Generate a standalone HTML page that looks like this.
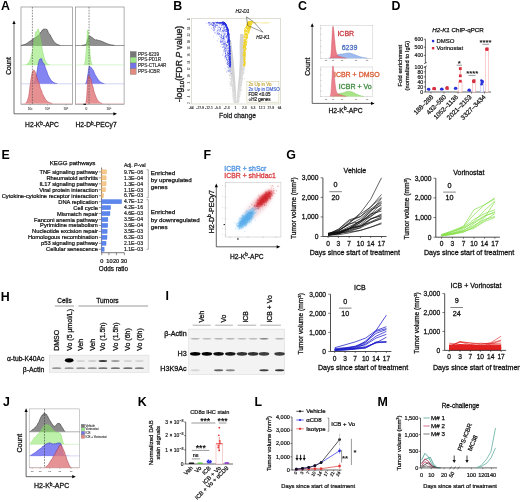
<!DOCTYPE html>
<html><head><meta charset="utf-8"><style>
html,body{margin:0;padding:0;background:#fff;}
svg{display:block;font-family:"Liberation Sans", Arial, Helvetica, sans-serif;filter:blur(0.3px);}
</style></head><body>
<svg width="520" height="502" viewBox="0 0 520 502">
<rect width="520" height="502" fill="#fff"/>
<text x="1.0" y="10.0" font-size="12.4" text-anchor="start" fill="#000" font-weight="bold">A</text>
<rect x="21" y="7" width="51.5" height="97.3" fill="#fff" stroke="#8c8c8c" stroke-width="0.7"/>
<rect x="75.5" y="7" width="48.599999999999994" height="97.3" fill="#fff" stroke="#8c8c8c" stroke-width="0.7"/>
<line x1="21" y1="45.5" x2="72.5" y2="45.5" stroke="#444" stroke-width="0.55"/>
<line x1="75.5" y1="45.5" x2="124.1" y2="45.5" stroke="#444" stroke-width="0.55"/>
<path d="M21.3,45.5 L21.3,45.2 L22.0,45.1 L22.8,44.9 L23.5,44.7 L24.2,44.5 L24.9,44.3 L25.7,44.0 L26.4,43.5 L27.1,43.2 L27.8,42.7 L28.6,42.0 L29.3,41.7 L30.0,41.0 L30.8,40.7 L31.5,40.1 L32.2,39.9 L32.9,39.1 L33.7,38.5 L34.4,38.3 L35.1,37.7 L35.8,37.3 L36.6,37.3 L37.3,36.1 L38.0,35.6 L38.8,35.2 L39.5,34.6 L40.2,32.7 L40.9,32.3 L41.7,31.1 L42.4,30.0 L43.1,29.6 L43.8,28.8 L44.6,29.4 L45.3,28.7 L46.0,29.5 L46.8,29.3 L47.5,30.2 L48.2,32.3 L48.9,33.4 L49.7,34.6 L50.4,35.1 L51.1,37.0 L51.8,38.1 L52.6,39.6 L53.3,40.6 L54.0,41.6 L54.7,42.4 L55.5,43.1 L56.2,43.7 L56.9,44.1 L57.7,44.5 L58.4,44.8 L59.1,45.0 L59.8,45.1 L60.6,45.3 L61.3,45.4 L62.0,45.4 L62.7,45.4 L63.5,45.5 L64.2,45.5 L64.9,45.5 L65.7,45.5 L66.4,45.5 L67.1,45.5 L67.8,45.5 L68.6,45.5 L69.3,45.5 L70.0,45.5 L70.7,45.5 L71.5,45.5 L72.2,45.5 L72.2,45.5 Z" fill="#858585" stroke="none" stroke-width="0.6" fill-opacity="0.92"/>
<path d="M21.3,45.2 L22.0,45.1 L22.8,44.9 L23.5,44.7 L24.2,44.5 L24.9,44.3 L25.7,44.0 L26.4,43.5 L27.1,43.2 L27.8,42.7 L28.6,42.0 L29.3,41.7 L30.0,41.0 L30.8,40.7 L31.5,40.1 L32.2,39.9 L32.9,39.1 L33.7,38.5 L34.4,38.3 L35.1,37.7 L35.8,37.3 L36.6,37.3 L37.3,36.1 L38.0,35.6 L38.8,35.2 L39.5,34.6 L40.2,32.7 L40.9,32.3 L41.7,31.1 L42.4,30.0 L43.1,29.6 L43.8,28.8 L44.6,29.4 L45.3,28.7 L46.0,29.5 L46.8,29.3 L47.5,30.2 L48.2,32.3 L48.9,33.4 L49.7,34.6 L50.4,35.1 L51.1,37.0 L51.8,38.1 L52.6,39.6 L53.3,40.6 L54.0,41.6 L54.7,42.4 L55.5,43.1 L56.2,43.7 L56.9,44.1 L57.7,44.5 L58.4,44.8 L59.1,45.0 L59.8,45.1" fill="none" stroke="#222" stroke-width="0.5" stroke-linejoin="round"/>
<path d="M75.8,45.5 L75.8,45.5 L76.3,45.5 L76.9,45.5 L77.4,45.5 L77.9,45.5 L78.5,45.5 L79.0,45.4 L79.5,45.4 L80.1,45.4 L80.6,45.4 L81.1,45.3 L81.7,45.3 L82.2,45.2 L82.7,45.2 L83.3,45.1 L83.8,45.0 L84.3,44.9 L84.9,44.8 L85.4,44.5 L85.9,44.1 L86.5,43.4 L87.0,42.2 L87.5,40.1 L88.1,38.5 L88.6,36.4 L89.1,35.9 L89.7,36.3 L90.2,36.3 L90.7,36.5 L91.3,36.8 L91.8,37.3 L92.3,37.8 L92.9,38.2 L93.4,38.4 L93.9,39.0 L94.5,39.4 L95.0,39.4 L95.5,39.9 L96.1,39.9 L96.6,39.7 L97.1,40.0 L97.7,40.1 L98.2,40.5 L98.7,40.4 L99.3,40.4 L99.8,40.8 L100.3,40.7 L100.9,40.9 L101.4,41.3 L101.9,41.3 L102.5,41.6 L103.0,41.8 L103.5,42.1 L104.1,42.3 L104.6,42.5 L105.1,42.9 L105.7,43.1 L106.2,43.2 L106.7,43.4 L107.3,43.7 L107.8,43.9 L108.3,44.1 L108.9,44.3 L109.4,44.4 L109.9,44.6 L110.5,44.7 L111.0,44.8 L111.5,44.9 L112.1,45.0 L112.6,45.0 L113.1,45.1 L113.7,45.2 L114.2,45.2 L114.7,45.3 L115.3,45.3 L115.8,45.4 L116.3,45.4 L116.9,45.4 L117.4,45.4 L117.9,45.4 L118.5,45.5 L119.0,45.5 L119.5,45.5 L120.1,45.5 L120.6,45.5 L121.1,45.5 L121.7,45.5 L122.2,45.5 L122.7,45.5 L123.3,45.5 L123.8,45.5 L123.8,45.5 Z" fill="#858585" stroke="none" stroke-width="0.6" fill-opacity="0.92"/>
<path d="M82.2,45.2 L82.7,45.2 L83.3,45.1 L83.8,45.0 L84.3,44.9 L84.9,44.8 L85.4,44.5 L85.9,44.1 L86.5,43.4 L87.0,42.2 L87.5,40.1 L88.1,38.5 L88.6,36.4 L89.1,35.9 L89.7,36.3 L90.2,36.3 L90.7,36.5 L91.3,36.8 L91.8,37.3 L92.3,37.8 L92.9,38.2 L93.4,38.4 L93.9,39.0 L94.5,39.4 L95.0,39.4 L95.5,39.9 L96.1,39.9 L96.6,39.7 L97.1,40.0 L97.7,40.1 L98.2,40.5 L98.7,40.4 L99.3,40.4 L99.8,40.8 L100.3,40.7 L100.9,40.9 L101.4,41.3 L101.9,41.3 L102.5,41.6 L103.0,41.8 L103.5,42.1 L104.1,42.3 L104.6,42.5 L105.1,42.9 L105.7,43.1 L106.2,43.2 L106.7,43.4 L107.3,43.7 L107.8,43.9 L108.3,44.1 L108.9,44.3 L109.4,44.4 L109.9,44.6 L110.5,44.7 L111.0,44.8 L111.5,44.9 L112.1,45.0 L112.6,45.0 L113.1,45.1 L113.7,45.2 L114.2,45.2" fill="none" stroke="#222" stroke-width="0.5" stroke-linejoin="round"/>
<line x1="21" y1="64.9" x2="72.5" y2="64.9" stroke="#b8eca8" stroke-width="0.55"/>
<line x1="75.5" y1="64.9" x2="124.1" y2="64.9" stroke="#b8eca8" stroke-width="0.55"/>
<path d="M21.3,64.9 L21.3,64.9 L22.0,64.9 L22.8,64.9 L23.5,64.9 L24.2,64.8 L24.9,64.8 L25.7,64.7 L26.4,64.5 L27.1,64.1 L27.8,63.6 L28.6,62.8 L29.3,61.8 L30.0,60.3 L30.8,58.1 L31.5,54.9 L32.2,52.1 L32.9,48.3 L33.7,44.1 L34.4,40.0 L35.1,36.2 L35.8,31.5 L36.6,31.9 L37.3,31.6 L38.0,28.8 L38.8,30.8 L39.5,33.3 L40.2,38.4 L40.9,41.2 L41.7,45.4 L42.4,50.5 L43.1,53.3 L43.8,56.3 L44.6,58.9 L45.3,60.9 L46.0,62.3 L46.8,63.2 L47.5,63.9 L48.2,64.3 L48.9,64.5 L49.7,64.7 L50.4,64.8 L51.1,64.9 L51.8,64.9 L52.6,64.9 L53.3,64.9 L54.0,64.9 L54.7,64.9 L55.5,64.9 L56.2,64.9 L56.9,64.9 L57.7,64.9 L58.4,64.9 L59.1,64.9 L59.8,64.9 L60.6,64.9 L61.3,64.9 L62.0,64.9 L62.7,64.9 L63.5,64.9 L64.2,64.9 L64.9,64.9 L65.7,64.9 L66.4,64.9 L67.1,64.9 L67.8,64.9 L68.6,64.9 L69.3,64.9 L70.0,64.9 L70.7,64.9 L71.5,64.9 L72.2,64.9 L72.2,64.9 Z" fill="#86e460" stroke="none" stroke-width="0.6" fill-opacity="0.55"/>
<path d="M26.4,64.5 L27.1,64.1 L27.8,63.6 L28.6,62.8 L29.3,61.8 L30.0,60.3 L30.8,58.1 L31.5,54.9 L32.2,52.1 L32.9,48.3 L33.7,44.1 L34.4,40.0 L35.1,36.2 L35.8,31.5 L36.6,31.9 L37.3,31.6 L38.0,28.8 L38.8,30.8 L39.5,33.3 L40.2,38.4 L40.9,41.2 L41.7,45.4 L42.4,50.5 L43.1,53.3 L43.8,56.3 L44.6,58.9 L45.3,60.9 L46.0,62.3 L46.8,63.2 L47.5,63.9 L48.2,64.3 L48.9,64.5" fill="none" stroke="#84dc64" stroke-width="0.5" stroke-linejoin="round"/>
<path d="M75.8,64.9 L75.8,64.9 L76.3,64.9 L76.9,64.9 L77.4,64.9 L77.9,64.9 L78.5,64.9 L79.0,64.9 L79.5,64.9 L80.1,64.9 L80.6,64.9 L81.1,64.9 L81.7,64.9 L82.2,64.9 L82.7,64.9 L83.3,64.9 L83.8,64.8 L84.3,64.3 L84.9,63.2 L85.4,60.2 L85.9,54.7 L86.5,46.4 L87.0,37.3 L87.5,30.3 L88.1,30.2 L88.6,35.0 L89.1,42.1 L89.7,49.0 L90.2,55.5 L90.7,59.7 L91.3,62.4 L91.8,63.9 L92.3,64.6 L92.9,64.8 L93.4,64.9 L93.9,64.9 L94.5,64.9 L95.0,64.9 L95.5,64.9 L96.1,64.9 L96.6,64.9 L97.1,64.9 L97.7,64.9 L98.2,64.9 L98.7,64.9 L99.3,64.9 L99.8,64.9 L100.3,64.9 L100.9,64.9 L101.4,64.9 L101.9,64.9 L102.5,64.9 L103.0,64.9 L103.5,64.9 L104.1,64.9 L104.6,64.9 L105.1,64.9 L105.7,64.9 L106.2,64.9 L106.7,64.9 L107.3,64.9 L107.8,64.9 L108.3,64.9 L108.9,64.9 L109.4,64.9 L109.9,64.9 L110.5,64.9 L111.0,64.9 L111.5,64.9 L112.1,64.9 L112.6,64.9 L113.1,64.9 L113.7,64.9 L114.2,64.9 L114.7,64.9 L115.3,64.9 L115.8,64.9 L116.3,64.9 L116.9,64.9 L117.4,64.9 L117.9,64.9 L118.5,64.9 L119.0,64.9 L119.5,64.9 L120.1,64.9 L120.6,64.9 L121.1,64.9 L121.7,64.9 L122.2,64.9 L122.7,64.9 L123.3,64.9 L123.8,64.9 L123.8,64.9 Z" fill="#86e460" stroke="none" stroke-width="0.6" fill-opacity="0.55"/>
<path d="M84.3,64.3 L84.9,63.2 L85.4,60.2 L85.9,54.7 L86.5,46.4 L87.0,37.3 L87.5,30.3 L88.1,30.2 L88.6,35.0 L89.1,42.1 L89.7,49.0 L90.2,55.5 L90.7,59.7 L91.3,62.4 L91.8,63.9 L92.3,64.6" fill="none" stroke="#84dc64" stroke-width="0.5" stroke-linejoin="round"/>
<line x1="21" y1="83.8" x2="72.5" y2="83.8" stroke="#b0b0ec" stroke-width="0.55"/>
<line x1="75.5" y1="83.8" x2="124.1" y2="83.8" stroke="#b0b0ec" stroke-width="0.55"/>
<path d="M21.3,83.8 L21.3,83.8 L22.0,83.8 L22.8,83.8 L23.5,83.8 L24.2,83.8 L24.9,83.8 L25.7,83.8 L26.4,83.8 L27.1,83.8 L27.8,83.8 L28.6,83.8 L29.3,83.8 L30.0,83.8 L30.8,83.8 L31.5,83.7 L32.2,83.6 L32.9,83.3 L33.7,82.6 L34.4,81.5 L35.1,79.9 L35.8,77.1 L36.6,74.2 L37.3,69.6 L38.0,65.2 L38.8,61.6 L39.5,59.5 L40.2,58.8 L40.9,58.7 L41.7,58.8 L42.4,61.6 L43.1,63.0 L43.8,63.3 L44.6,64.9 L45.3,67.5 L46.0,69.6 L46.8,71.2 L47.5,73.6 L48.2,75.2 L48.9,76.8 L49.7,77.9 L50.4,79.3 L51.1,80.3 L51.8,81.0 L52.6,81.6 L53.3,82.3 L54.0,82.6 L54.7,83.0 L55.5,83.2 L56.2,83.4 L56.9,83.5 L57.7,83.6 L58.4,83.7 L59.1,83.7 L59.8,83.8 L60.6,83.8 L61.3,83.8 L62.0,83.8 L62.7,83.8 L63.5,83.8 L64.2,83.8 L64.9,83.8 L65.7,83.8 L66.4,83.8 L67.1,83.8 L67.8,83.8 L68.6,83.8 L69.3,83.8 L70.0,83.8 L70.7,83.8 L71.5,83.8 L72.2,83.8 L72.2,83.8 Z" fill="#6e6ef0" stroke="none" stroke-width="0.6" fill-opacity="0.85"/>
<path d="M32.9,83.3 L33.7,82.6 L34.4,81.5 L35.1,79.9 L35.8,77.1 L36.6,74.2 L37.3,69.6 L38.0,65.2 L38.8,61.6 L39.5,59.5 L40.2,58.8 L40.9,58.7 L41.7,58.8 L42.4,61.6 L43.1,63.0 L43.8,63.3 L44.6,64.9 L45.3,67.5 L46.0,69.6 L46.8,71.2 L47.5,73.6 L48.2,75.2 L48.9,76.8 L49.7,77.9 L50.4,79.3 L51.1,80.3 L51.8,81.0 L52.6,81.6 L53.3,82.3 L54.0,82.6 L54.7,83.0 L55.5,83.2 L56.2,83.4 L56.9,83.5" fill="none" stroke="#3434c8" stroke-width="0.5" stroke-linejoin="round"/>
<path d="M75.8,83.8 L75.8,83.8 L76.3,83.8 L76.9,83.8 L77.4,83.8 L77.9,83.8 L78.5,83.8 L79.0,83.8 L79.5,83.8 L80.1,83.8 L80.6,83.8 L81.1,83.8 L81.7,83.8 L82.2,83.8 L82.7,83.8 L83.3,83.8 L83.8,83.8 L84.3,83.8 L84.9,83.7 L85.4,83.5 L85.9,83.0 L86.5,81.9 L87.0,80.0 L87.5,76.4 L88.1,73.0 L88.6,69.2 L89.1,66.6 L89.7,66.1 L90.2,67.5 L90.7,67.2 L91.3,67.6 L91.8,68.2 L92.3,69.4 L92.9,69.7 L93.4,70.3 L93.9,72.0 L94.5,72.9 L95.0,74.4 L95.5,75.3 L96.1,76.0 L96.6,77.4 L97.1,77.8 L97.7,78.7 L98.2,79.8 L98.7,80.2 L99.3,81.0 L99.8,81.4 L100.3,81.8 L100.9,82.3 L101.4,82.6 L101.9,82.8 L102.5,83.0 L103.0,83.2 L103.5,83.4 L104.1,83.5 L104.6,83.6 L105.1,83.6 L105.7,83.7 L106.2,83.7 L106.7,83.7 L107.3,83.8 L107.8,83.8 L108.3,83.8 L108.9,83.8 L109.4,83.8 L109.9,83.8 L110.5,83.8 L111.0,83.8 L111.5,83.8 L112.1,83.8 L112.6,83.8 L113.1,83.8 L113.7,83.8 L114.2,83.8 L114.7,83.8 L115.3,83.8 L115.8,83.8 L116.3,83.8 L116.9,83.8 L117.4,83.8 L117.9,83.8 L118.5,83.8 L119.0,83.8 L119.5,83.8 L120.1,83.8 L120.6,83.8 L121.1,83.8 L121.7,83.8 L122.2,83.8 L122.7,83.8 L123.3,83.8 L123.8,83.8 L123.8,83.8 Z" fill="#6e6ef0" stroke="none" stroke-width="0.6" fill-opacity="0.85"/>
<path d="M85.4,83.5 L85.9,83.0 L86.5,81.9 L87.0,80.0 L87.5,76.4 L88.1,73.0 L88.6,69.2 L89.1,66.6 L89.7,66.1 L90.2,67.5 L90.7,67.2 L91.3,67.6 L91.8,68.2 L92.3,69.4 L92.9,69.7 L93.4,70.3 L93.9,72.0 L94.5,72.9 L95.0,74.4 L95.5,75.3 L96.1,76.0 L96.6,77.4 L97.1,77.8 L97.7,78.7 L98.2,79.8 L98.7,80.2 L99.3,81.0 L99.8,81.4 L100.3,81.8 L100.9,82.3 L101.4,82.6 L101.9,82.8 L102.5,83.0 L103.0,83.2 L103.5,83.4 L104.1,83.5" fill="none" stroke="#3434c8" stroke-width="0.5" stroke-linejoin="round"/>
<line x1="21" y1="103.5" x2="72.5" y2="103.5" stroke="#e0b0b0" stroke-width="0.55"/>
<line x1="75.5" y1="103.5" x2="124.1" y2="103.5" stroke="#e0b0b0" stroke-width="0.55"/>
<path d="M21.3,103.5 L21.3,103.5 L22.0,103.5 L22.8,103.5 L23.5,103.5 L24.2,103.4 L24.9,103.3 L25.7,103.0 L26.4,102.3 L27.1,101.3 L27.8,99.3 L28.6,96.4 L29.3,92.3 L30.0,86.0 L30.8,80.2 L31.5,76.3 L32.2,72.7 L32.9,70.8 L33.7,70.0 L34.4,70.4 L35.1,71.8 L35.8,73.7 L36.6,76.8 L37.3,78.1 L38.0,80.8 L38.8,82.3 L39.5,84.6 L40.2,87.5 L40.9,89.6 L41.7,91.0 L42.4,93.7 L43.1,94.7 L43.8,96.3 L44.6,97.6 L45.3,99.1 L46.0,100.0 L46.8,100.8 L47.5,101.4 L48.2,101.9 L48.9,102.3 L49.7,102.7 L50.4,102.9 L51.1,103.1 L51.8,103.2 L52.6,103.3 L53.3,103.4 L54.0,103.4 L54.7,103.4 L55.5,103.5 L56.2,103.5 L56.9,103.5 L57.7,103.5 L58.4,103.5 L59.1,103.5 L59.8,103.5 L60.6,103.5 L61.3,103.5 L62.0,103.5 L62.7,103.5 L63.5,103.5 L64.2,103.5 L64.9,103.5 L65.7,103.5 L66.4,103.5 L67.1,103.5 L67.8,103.5 L68.6,103.5 L69.3,103.5 L70.0,103.5 L70.7,103.5 L71.5,103.5 L72.2,103.5 L72.2,103.5 Z" fill="#e0787a" stroke="none" stroke-width="0.6" fill-opacity="0.82"/>
<path d="M25.7,103.0 L26.4,102.3 L27.1,101.3 L27.8,99.3 L28.6,96.4 L29.3,92.3 L30.0,86.0 L30.8,80.2 L31.5,76.3 L32.2,72.7 L32.9,70.8 L33.7,70.0 L34.4,70.4 L35.1,71.8 L35.8,73.7 L36.6,76.8 L37.3,78.1 L38.0,80.8 L38.8,82.3 L39.5,84.6 L40.2,87.5 L40.9,89.6 L41.7,91.0 L42.4,93.7 L43.1,94.7 L43.8,96.3 L44.6,97.6 L45.3,99.1 L46.0,100.0 L46.8,100.8 L47.5,101.4 L48.2,101.9 L48.9,102.3 L49.7,102.7 L50.4,102.9 L51.1,103.1 L51.8,103.2" fill="none" stroke="#b84050" stroke-width="0.5" stroke-linejoin="round"/>
<path d="M75.8,103.5 L75.8,103.5 L76.3,103.5 L76.9,103.5 L77.4,103.5 L77.9,103.5 L78.5,103.5 L79.0,103.5 L79.5,103.5 L80.1,103.5 L80.6,103.5 L81.1,103.5 L81.7,103.5 L82.2,103.5 L82.7,103.5 L83.3,103.5 L83.8,103.5 L84.3,103.5 L84.9,103.5 L85.4,103.3 L85.9,102.3 L86.5,99.1 L87.0,92.1 L87.5,81.9 L88.1,76.3 L88.6,75.7 L89.1,75.4 L89.7,77.1 L90.2,78.8 L90.7,78.5 L91.3,80.6 L91.8,83.2 L92.3,85.0 L92.9,86.7 L93.4,88.6 L93.9,91.0 L94.5,93.0 L95.0,94.4 L95.5,95.4 L96.1,97.2 L96.6,98.2 L97.1,99.4 L97.7,100.2 L98.2,101.0 L98.7,101.5 L99.3,102.0 L99.8,102.4 L100.3,102.7 L100.9,102.9 L101.4,103.0 L101.9,103.2 L102.5,103.3 L103.0,103.3 L103.5,103.4 L104.1,103.4 L104.6,103.5 L105.1,103.5 L105.7,103.5 L106.2,103.5 L106.7,103.5 L107.3,103.5 L107.8,103.5 L108.3,103.5 L108.9,103.5 L109.4,103.5 L109.9,103.5 L110.5,103.5 L111.0,103.5 L111.5,103.5 L112.1,103.5 L112.6,103.5 L113.1,103.5 L113.7,103.5 L114.2,103.5 L114.7,103.5 L115.3,103.5 L115.8,103.5 L116.3,103.5 L116.9,103.5 L117.4,103.5 L117.9,103.5 L118.5,103.5 L119.0,103.5 L119.5,103.5 L120.1,103.5 L120.6,103.5 L121.1,103.5 L121.7,103.5 L122.2,103.5 L122.7,103.5 L123.3,103.5 L123.8,103.5 L123.8,103.5 Z" fill="#e0787a" stroke="none" stroke-width="0.6" fill-opacity="0.82"/>
<path d="M85.9,102.3 L86.5,99.1 L87.0,92.1 L87.5,81.9 L88.1,76.3 L88.6,75.7 L89.1,75.4 L89.7,77.1 L90.2,78.8 L90.7,78.5 L91.3,80.6 L91.8,83.2 L92.3,85.0 L92.9,86.7 L93.4,88.6 L93.9,91.0 L94.5,93.0 L95.0,94.4 L95.5,95.4 L96.1,97.2 L96.6,98.2 L97.1,99.4 L97.7,100.2 L98.2,101.0 L98.7,101.5 L99.3,102.0 L99.8,102.4 L100.3,102.7 L100.9,102.9 L101.4,103.0 L101.9,103.2" fill="none" stroke="#b84050" stroke-width="0.5" stroke-linejoin="round"/>
<line x1="32.4" y1="7" x2="32.4" y2="104.3" stroke="#444" stroke-width="0.6" stroke-dasharray="1.6,1.2"/>
<line x1="89.05" y1="7" x2="89.05" y2="104.3" stroke="#444" stroke-width="0.6" stroke-dasharray="1.6,1.2"/>
<text x="30" y="110" font-size="3.2" text-anchor="middle" fill="#555" stroke="#555" stroke-width="0.13">10³</text>
<line x1="30" y1="104.3" x2="30" y2="105.5" stroke="#666" stroke-width="0.4"/>
<text x="47.5" y="110" font-size="3.2" text-anchor="middle" fill="#555" stroke="#555" stroke-width="0.13">10⁴</text>
<line x1="47.5" y1="104.3" x2="47.5" y2="105.5" stroke="#666" stroke-width="0.4"/>
<text x="66" y="110" font-size="3.2" text-anchor="middle" fill="#555" stroke="#555" stroke-width="0.13">10⁵</text>
<line x1="66" y1="104.3" x2="66" y2="105.5" stroke="#666" stroke-width="0.4"/>
<text x="109" y="110" font-size="3.2" text-anchor="middle" fill="#555" stroke="#555" stroke-width="0.13">10⁴</text>
<line x1="109" y1="104.3" x2="109" y2="105.5" stroke="#666" stroke-width="0.4"/>
<text x="86.5" y="110" font-size="3.2" text-anchor="middle" fill="#555" stroke="#555" stroke-width="0.13">0</text>
<path d="M83.5,104.3 h2.5" fill="none" stroke="#111" stroke-width="1.2"/>
<line x1="14" y1="23" x2="14" y2="113.8" stroke="#333" stroke-width="0.7"/>
<line x1="14" y1="113.8" x2="114" y2="113.8" stroke="#333" stroke-width="0.7"/>
<path d="M12.4,24.1 L14,20.5 L15.6,24.1 Z" fill="#000" stroke="none" stroke-width="0.6"/>
<path d="M113.4,112.2 L117,113.8 L113.4,115.39999999999999 Z" fill="#000" stroke="none" stroke-width="0.6"/>
<text x="10.6" y="66" font-size="6.6" text-anchor="middle" fill="#111" transform="rotate(-90 10.6 66)" stroke="#111" stroke-width="0.26">Count</text>
<text x="42" y="126.8" font-size="6.7" text-anchor="middle" fill="#111" stroke="#111" stroke-width="0.27">H2-K<tspan font-size="4.6" dy="-2.3">b</tspan><tspan dy="2.3">-APC</tspan></text>
<text x="96" y="126.8" font-size="6.7" text-anchor="middle" fill="#111" stroke="#111" stroke-width="0.27">H2-D<tspan font-size="4.6" dy="-2.3">b</tspan><tspan dy="2.3">-PECy7</tspan></text>
<rect x="130.2" y="51.5" width="6" height="5.75" fill="#777" stroke="#666" stroke-width="0.3"/>
<text x="138" y="55.7" font-size="4.6" text-anchor="start" fill="#333" stroke="#333" stroke-width="0.18">PPS-6239</text>
<rect x="130.2" y="57.25" width="6" height="5.75" fill="#9fe88a" stroke="#666" stroke-width="0.3"/>
<text x="138" y="61.45" font-size="4.6" text-anchor="start" fill="#333" stroke="#333" stroke-width="0.18">PPS-PD1R</text>
<rect x="130.2" y="63.0" width="6" height="5.75" fill="#7474e8" stroke="#666" stroke-width="0.3"/>
<text x="138" y="67.2" font-size="4.6" text-anchor="start" fill="#333" stroke="#333" stroke-width="0.18">PPS-CTLA4R</text>
<rect x="130.2" y="68.75" width="6" height="5.75" fill="#e08a80" stroke="#666" stroke-width="0.3"/>
<text x="138" y="72.95" font-size="4.6" text-anchor="start" fill="#333" stroke="#333" stroke-width="0.18">PPS-ICBR</text>
<text x="173.20000000000002" y="10.1" font-size="12.4" text-anchor="start" fill="#000" font-weight="bold">B</text>
<rect x="191.5" y="18.4" width="88.89999999999998" height="85.6" fill="#fff" stroke="#c9c9b8" stroke-width="0.6"/>
<filter id="gb" x="-20%" y="-5%" width="140%" height="110%"><feGaussianBlur stdDeviation="0.6"/></filter>
<g filter="url(#gb)">
<path d="M229.5,40.0 L229.6,42.1 L229.8,44.2 L229.8,46.3 L229.9,48.4 L229.9,50.5 L230.0,52.6 L230.1,54.7 L230.1,56.7 L230.2,58.8 L230.3,60.9 L230.5,63.0 L230.7,65.1 L230.9,67.2 L231.1,69.3 L231.3,71.4 L231.5,73.5 L231.7,75.6 L232.0,77.7 L232.4,79.8 L232.7,81.9 L233.0,84.0 L233.4,86.1 L233.7,88.1 L234.0,90.2 L234.4,92.3 L234.8,94.4 L235.2,96.5 L235.6,98.6 L236.0,100.7 L236.4,102.8 L236.5,102.8 L236.4,100.7 L236.3,98.6 L236.2,96.5 L236.0,94.4 L235.9,92.3 L235.8,90.2 L235.7,88.1 L235.5,86.1 L235.4,84.0 L235.3,81.9 L235.1,79.8 L235.0,77.7 L234.8,75.6 L234.7,73.5 L234.5,71.4 L234.3,69.3 L234.1,67.2 L233.9,65.1 L233.8,63.0 L233.6,60.9 L233.4,58.8 L233.1,56.7 L232.8,54.7 L232.6,52.6 L232.3,50.5 L232.0,48.4 L231.8,46.3 L231.5,44.2 L231.3,42.1 L231.0,40.0 Z" fill="#d2d2d2" stroke="none" stroke-width="0.6" fill-opacity="1"/>
<path d="M240.2,34.0 L240.1,36.3 L239.9,38.6 L239.8,40.9 L239.7,43.2 L239.6,45.5 L239.6,47.8 L239.7,50.1 L239.7,52.3 L239.7,54.6 L239.8,56.9 L239.8,59.2 L239.7,61.5 L239.6,63.8 L239.5,66.1 L239.4,68.4 L239.2,70.7 L239.1,73.0 L239.0,75.3 L238.8,77.6 L238.5,79.9 L238.3,82.2 L238.1,84.5 L237.9,86.7 L237.7,89.0 L237.5,91.3 L237.3,93.6 L237.1,95.9 L236.9,98.2 L236.7,100.5 L236.5,102.8 L236.6,102.8 L237.0,100.5 L237.4,98.2 L237.8,95.9 L238.2,93.6 L238.7,91.3 L239.1,89.0 L239.5,86.7 L239.9,84.5 L240.3,82.2 L240.7,79.9 L241.1,77.6 L241.5,75.3 L241.8,73.0 L242.0,70.7 L242.2,68.4 L242.4,66.1 L242.6,63.8 L242.9,61.5 L243.0,59.2 L243.0,56.9 L243.1,54.6 L243.1,52.3 L243.1,50.1 L243.2,47.8 L243.2,45.5 L243.3,43.2 L243.4,40.9 L243.5,38.6 L243.6,36.3 L243.7,34.0 Z" fill="#d2d2d2" stroke="none" stroke-width="0.6" fill-opacity="1"/>
</g>
<path d="M228.4 45.6h0M243.6 45.6h0M227.7 49.5h0M244.0 49.5h0M230.8 69.0h0M242.6 69.0h0M230.2 71.8h0M242.0 71.8h0M231.2 85.0h0M240.1 85.0h0M228.8 46.7h0M243.6 46.7h0M231.1 70.4h0M243.5 70.4h0M229.5 53.9h0M244.1 53.9h0M233.0 84.7h0M240.8 84.7h0M228.4 68.1h0M243.3 68.1h0M231.2 78.9h0M241.6 78.9h0M232.3 80.0h0M241.0 80.0h0M235.6 101.6h0M237.1 101.6h0M230.3 69.3h0M242.7 69.3h0M229.7 44.3h0M244.9 44.3h0M229.9 67.5h0M242.8 67.5h0M229.4 45.9h0M243.3 45.9h0M230.1 58.1h0M243.6 58.1h0M229.2 46.7h0M243.4 46.7h0M231.1 73.4h0M242.3 73.4h0M229.8 50.9h0M244.2 50.9h0M229.7 61.2h0M243.4 61.2h0M235.4 101.0h0M237.4 101.0h0M231.4 86.5h0M240.9 86.5h0M229.5 69.7h0M242.5 69.7h0M228.3 58.1h0M243.4 58.1h0M232.8 86.1h0M240.1 86.1h0M234.2 100.2h0M238.2 100.2h0M230.3 61.3h0M243.6 61.3h0M230.4 69.5h0M242.2 69.5h0M234.4 93.7h0M238.8 93.7h0M233.1 86.8h0M240.0 86.8h0M229.7 66.3h0M244.2 66.3h0M229.7 76.1h0M241.5 76.1h0M229.7 78.1h0M242.5 78.1h0M229.0 60.5h0M244.5 60.5h0M229.3 56.7h0M243.8 56.7h0M230.0 62.2h0M243.1 62.2h0M229.0 54.3h0M243.6 54.3h0M230.9 79.9h0M241.8 79.9h0M228.2 55.3h0M243.9 55.3h0M236.0 102.2h0M238.4 102.2h0M234.2 91.1h0M240.2 91.1h0M230.2 63.9h0M243.1 63.9h0M230.3 73.9h0M243.3 73.9h0M229.1 61.7h0M244.5 61.7h0M233.2 95.2h0M239.8 95.2h0M232.7 86.7h0M240.8 86.7h0M228.6 43.0h0M244.2 43.0h0M229.9 68.6h0M243.7 68.6h0M233.3 89.1h0M239.6 89.1h0M230.3 61.4h0M243.3 61.4h0M228.1 60.5h0M243.2 60.5h0M229.6 54.3h0M243.2 54.3h0M233.0 86.5h0M240.6 86.5h0M229.7 65.2h0M244.9 65.2h0M228.5 59.5h0M244.6 59.5h0M229.5 69.5h0M243.1 69.5h0M229.1 59.6h0M243.9 59.6h0M227.9 46.6h0M244.2 46.6h0M230.1 72.6h0M241.9 72.6h0M234.6 95.3h0M238.5 95.3h0M228.5 62.8h0M244.7 62.8h0M231.1 83.7h0M241.6 83.7h0M228.6 42.2h0M243.9 42.2h0M232.7 85.1h0M240.0 85.1h0M230.5 72.9h0M243.4 72.9h0M230.1 62.4h0M244.4 62.4h0M233.6 90.3h0M240.9 90.3h0M235.2 102.3h0M237.1 102.3h0M232.4 84.6h0M240.2 84.6h0M229.2 59.0h0M244.4 59.0h0M228.6 51.7h0M243.5 51.7h0M230.8 82.0h0M242.3 82.0h0M234.4 102.8h0M237.3 102.8h0M228.7 51.5h0M243.8 51.5h0M232.9 87.7h0M240.0 87.7h0M235.4 98.0h0M237.7 98.0h0M229.2 71.6h0M243.2 71.6h0M233.1 100.0h0M237.3 100.0h0M230.6 75.2h0M242.7 75.2h0M232.6 90.5h0M239.4 90.5h0M229.9 56.3h0M244.1 56.3h0M230.8 72.2h0M241.9 72.2h0M228.5 40.4h0M244.8 40.4h0M233.4 87.0h0M240.2 87.0h0M230.6 72.4h0M243.1 72.4h0M234.8 96.8h0M238.9 96.8h0M233.2 85.3h0M241.3 85.3h0M232.8 84.6h0M241.8 84.6h0M232.8 98.1h0M238.2 98.1h0M230.5 67.8h0M242.5 67.8h0M233.7 90.0h0M239.4 90.0h0M228.3 68.9h0M244.8 68.9h0M230.2 61.1h0M243.6 61.1h0M229.3 52.5h0M244.0 52.5h0M232.0 78.8h0M241.5 78.8h0M229.4 53.7h0M243.4 53.7h0M229.4 59.8h0M243.0 59.8h0M228.1 70.1h0M243.0 70.1h0M229.9 70.5h0M242.4 70.5h0M229.4 52.4h0M243.4 52.4h0M228.3 50.6h0M243.8 50.6h0M235.1 100.7h0M237.5 100.7h0M229.7 66.7h0M243.6 66.7h0M229.2 64.6h0M244.2 64.6h0M229.4 76.0h0M241.5 76.0h0M232.3 85.7h0M240.8 85.7h0M234.4 97.8h0M238.1 97.8h0M228.5 58.7h0M243.5 58.7h0M232.7 86.2h0M239.8 86.2h0M229.2 63.0h0M244.1 63.0h0M231.4 77.1h0M242.0 77.1h0M234.6 99.3h0M237.5 99.3h0M228.1 51.5h0M244.5 51.5h0M233.0 90.3h0M239.0 90.3h0M230.0 70.1h0M242.1 70.1h0M234.3 96.2h0M238.8 96.2h0M234.7 98.4h0M238.3 98.4h0M229.0 60.9h0M243.8 60.9h0M233.8 89.4h0M240.0 89.4h0M228.9 64.3h0M244.3 64.3h0M231.3 73.8h0M242.6 73.8h0M233.3 91.6h0M239.9 91.6h0M229.4 41.4h0M243.7 41.4h0M233.6 90.6h0M239.4 90.6h0M229.5 43.6h0M244.9 43.6h0M230.8 85.2h0M241.1 85.2h0M231.1 74.6h0M241.8 74.6h0M234.8 98.1h0M237.7 98.1h0M232.8 87.0h0M240.2 87.0h0M228.4 45.9h0M244.4 45.9h0M231.7 77.5h0M241.2 77.5h0M229.5 43.5h0M243.4 43.5h0M232.7 84.5h0M240.2 84.5h0M229.2 50.2h0M244.4 50.2h0M231.6 82.2h0M240.5 82.2h0M235.1 101.5h0M237.2 101.5h0M229.7 55.9h0M245.7 55.9h0M236.1 102.5h0M237.3 102.5h0M229.3 51.3h0M243.9 51.3h0M232.0 86.3h0M240.0 86.3h0M231.6 82.7h0M240.4 82.7h0M232.8 89.7h0M239.5 89.7h0M234.1 95.4h0M238.5 95.4h0M228.4 64.9h0M243.2 64.9h0M234.8 97.5h0M237.8 97.5h0M228.6 51.0h0M244.1 51.0h0M228.8 40.3h0M245.1 40.3h0M229.2 72.3h0M241.9 72.3h0M230.0 66.0h0M243.6 66.0h0M230.8 85.7h0M241.0 85.7h0M234.4 100.0h0M237.7 100.0h0M229.5 59.9h0M243.6 59.9h0M234.7 96.8h0M239.4 96.8h0M232.5 91.6h0M238.7 91.6h0M230.2 60.0h0M243.8 60.0h0M230.8 78.4h0M242.7 78.4h0M230.8 70.7h0M244.2 70.7h0M228.0 45.2h0M243.9 45.2h0M229.8 49.4h0M244.4 49.4h0M234.2 97.0h0M238.2 97.0h0M233.8 98.6h0M238.3 98.6h0M229.7 46.5h0M243.7 46.5h0M233.1 94.7h0M238.6 94.7h0M229.9 56.1h0M244.5 56.1h0M227.9 46.1h0M243.2 46.1h0M229.5 53.5h0M243.8 53.5h0M228.0 63.3h0M243.8 63.3h0M235.0 102.7h0M237.2 102.7h0M234.1 90.8h0M239.9 90.8h0M232.4 94.2h0M239.6 94.2h0M229.6 69.7h0M243.2 69.7h0M229.7 49.1h0M243.4 49.1h0M234.4 102.1h0M237.2 102.1h0M229.1 48.2h0M243.9 48.2h0M230.0 55.6h0M243.3 55.6h0M229.1 70.0h0M243.1 70.0h0M233.8 96.1h0M238.0 96.1h0M230.7 69.5h0M243.7 69.5h0M229.6 61.6h0M243.1 61.6h0M229.7 48.6h0M243.6 48.6h0M228.9 51.7h0M243.1 51.7h0M228.7 50.3h0M243.6 50.3h0M233.9 89.4h0M241.2 89.4h0M228.7 53.9h0M243.8 53.9h0M235.8 101.0h0M238.3 101.0h0M230.7 73.5h0M242.6 73.5h0M228.0 46.2h0M244.1 46.2h0M232.8 82.8h0M240.9 82.8h0M229.7 69.1h0M244.4 69.1h0M234.5 98.0h0M238.8 98.0h0M231.0 74.8h0M242.0 74.8h0M228.5 48.6h0M243.4 48.6h0M229.1 56.8h0M244.0 56.8h0M233.1 87.8h0M239.6 87.8h0M233.0 95.6h0M239.8 95.6h0M235.2 101.6h0M237.8 101.6h0M234.9 100.7h0M237.8 100.7h0M229.4 59.7h0M243.1 59.7h0M229.5 47.8h0M244.5 47.8h0M229.9 75.4h0M242.0 75.4h0M228.8 62.8h0M243.2 62.8h0M230.4 74.1h0M242.8 74.1h0M229.6 62.6h0M243.3 62.6h0M235.9 100.9h0M239.6 100.9h0M228.2 44.0h0M243.3 44.0h0M229.4 52.9h0M243.1 52.9h0M233.6 92.6h0M239.8 92.6h0M233.7 98.2h0M237.5 98.2h0M232.8 84.8h0M239.8 84.8h0M229.8 66.8h0M242.5 66.8h0M230.5 75.7h0M241.5 75.7h0M233.4 96.7h0M238.7 96.7h0M229.3 40.8h0M244.0 40.8h0M232.2 92.3h0M239.9 92.3h0M229.1 56.8h0M243.9 56.8h0M229.0 60.3h0M243.2 60.3h0M230.9 83.8h0M240.8 83.8h0M234.7 101.6h0M237.9 101.6h0M229.4 57.0h0M243.8 57.0h0M229.0 81.6h0M241.3 81.6h0M235.1 102.4h0M237.7 102.4h0M229.7 50.1h0M244.4 50.1h0M229.7 62.5h0M243.2 62.5h0M229.5 48.9h0M243.6 48.9h0M231.7 77.0h0M241.8 77.0h0M229.9 71.6h0M242.5 71.6h0M230.6 65.9h0M242.5 65.9h0M228.9 43.6h0M243.6 43.6h0M233.5 87.5h0M241.2 87.5h0M228.9 55.2h0M243.7 55.2h0M229.6 64.3h0M244.1 64.3h0M228.9 54.0h0M244.7 54.0h0M228.3 68.4h0M242.3 68.4h0M231.9 77.9h0M241.4 77.9h0M229.6 45.2h0M243.6 45.2h0M231.6 80.7h0M241.0 80.7h0M230.5 72.2h0M242.2 72.2h0M229.6 49.7h0M244.0 49.7h0M235.0 97.1h0M238.6 97.1h0M229.4 50.4h0M243.3 50.4h0M234.2 93.2h0M238.8 93.2h0M230.9 79.3h0M241.3 79.3h0M228.7 61.1h0M243.9 61.1h0M232.5 85.0h0M239.8 85.0h0M231.1 82.1h0M240.9 82.1h0M229.7 45.7h0M243.2 45.7h0M229.4 54.0h0M243.5 54.0h0M228.3 45.5h0M246.1 45.5h0M230.1 61.0h0M244.4 61.0h0M228.6 54.0h0M244.0 54.0h0M230.6 67.0h0M242.7 67.0h0M228.8 74.1h0M241.8 74.1h0M228.4 46.3h0M243.2 46.3h0M229.3 52.2h0M244.1 52.2h0M233.4 90.8h0M241.0 90.8h0M233.6 91.2h0M238.8 91.2h0M229.9 70.4h0M243.1 70.4h0M230.1 83.8h0M241.3 83.8h0M229.2 42.8h0M245.1 42.8h0M229.7 47.1h0M243.5 47.1h0M231.7 76.6h0M242.2 76.6h0M231.7 83.7h0M241.2 83.7h0M228.9 57.4h0M243.2 57.4h0M227.9 40.2h0M244.3 40.2h0M234.4 94.3h0M238.6 94.3h0M234.8 94.8h0M238.5 94.8h0M230.5 63.9h0M242.7 63.9h0M228.2 42.7h0M244.9 42.7h0M235.3 102.6h0M238.6 102.6h0M232.8 89.4h0M240.0 89.4h0M234.2 100.9h0M238.9 100.9h0M231.2 75.5h0M242.6 75.5h0M230.6 70.3h0M242.9 70.3h0M230.6 72.1h0M242.2 72.1h0M228.7 57.4h0M243.1 57.4h0M230.4 66.3h0M243.0 66.3h0M231.1 73.4h0M243.4 73.4h0M232.8 84.2h0M241.1 84.2h0M228.8 55.6h0M243.6 55.6h0M230.2 63.6h0M243.6 63.6h0M232.5 84.5h0M240.9 84.5h0M233.0 85.9h0M240.7 85.9h0M230.0 62.5h0M243.7 62.5h0M233.5 87.4h0M240.0 87.4h0M229.7 54.7h0M244.5 54.7h0M231.6 82.5h0M241.4 82.5h0M229.1 57.1h0M243.4 57.1h0M228.2 42.0h0M243.6 42.0h0M230.6 82.1h0M240.7 82.1h0M229.8 54.4h0M243.5 54.4h0M233.9 90.0h0M240.1 90.0h0M230.3 63.2h0M243.8 63.2h0M231.3 84.7h0M241.0 84.7h0M233.7 94.5h0M238.5 94.5h0M229.4 59.7h0M243.1 59.7h0M229.4 49.9h0M245.4 49.9h0M233.5 93.6h0M240.0 93.6h0M234.4 95.9h0M238.1 95.9h0M233.3 88.5h0M239.5 88.5h0M234.1 96.7h0M238.1 96.7h0M232.0 77.4h0M241.4 77.4h0M230.5 64.5h0M242.7 64.5h0M230.4 63.3h0M243.6 63.3h0M232.3 82.7h0M240.7 82.7h0M228.8 41.3h0M244.6 41.3h0M229.4 58.5h0M244.9 58.5h0M235.2 97.1h0M238.9 97.1h0M231.6 76.1h0M241.6 76.1h0M229.2 60.4h0M244.0 60.4h0M230.7 72.0h0M242.4 72.0h0M229.2 59.6h0M243.5 59.6h0M232.6 96.7h0M239.7 96.7h0M229.5 55.1h0M243.7 55.1h0M231.7 76.9h0M241.5 76.9h0M233.7 90.0h0M239.6 90.0h0M230.3 88.7h0M239.5 88.7h0M229.1 43.4h0M243.8 43.4h0M231.9 79.2h0M242.7 79.2h0M229.9 74.4h0M242.8 74.4h0M229.7 46.6h0M244.8 46.6h0M230.4 67.7h0M242.3 67.7h0M231.0 69.0h0M242.2 69.0h0M228.9 45.9h0M243.7 45.9h0M229.9 67.2h0M242.4 67.2h0M229.7 84.1h0M240.3 84.1h0M228.6 50.6h0M243.2 50.6h0M230.0 63.3h0M243.2 63.3h0M234.3 95.1h0M238.7 95.1h0M231.3 78.6h0M241.3 78.6h0M228.7 45.3h0M243.5 45.3h0M229.0 47.2h0M244.2 47.2h0M229.2 60.6h0M244.6 60.6h0M227.7 61.3h0M244.1 61.3h0M229.9 62.7h0M243.1 62.7h0M232.0 81.6h0M241.3 81.6h0M230.5 65.5h0M244.2 65.5h0M230.4 68.7h0M243.0 68.7h0M232.5 86.1h0M239.7 86.1h0M235.2 100.3h0M238.4 100.3h0M230.5 71.2h0M242.1 71.2h0M228.8 50.9h0M244.3 50.9h0M229.7 56.2h0M243.5 56.2h0M231.5 78.5h0M242.0 78.5h0M229.6 59.7h0M243.2 59.7h0M230.7 70.4h0M242.4 70.4h0M229.5 59.4h0M244.1 59.4h0M231.9 78.7h0M242.2 78.7h0M227.9 54.0h0M243.7 54.0h0M231.7 75.6h0M242.4 75.6h0M228.8 68.2h0M242.6 68.2h0M231.3 81.0h0M241.4 81.0h0M226.7 42.1h0M244.4 42.1h0M233.1 85.7h0M241.6 85.7h0M229.3 51.1h0M244.2 51.1h0M228.6 41.0h0M244.1 41.0h0M233.8 92.1h0M239.7 92.1h0M234.0 94.2h0M240.2 94.2h0M229.2 61.3h0M243.0 61.3h0M228.2 44.2h0M243.9 44.2h0M229.3 47.6h0M243.9 47.6h0M227.8 57.5h0M244.1 57.5h0M233.6 94.6h0M238.1 94.6h0M233.5 90.0h0M241.1 90.0h0M234.1 90.9h0M239.5 90.9h0M228.5 45.7h0M243.8 45.7h0M231.7 78.5h0M241.4 78.5h0M231.0 83.9h0M240.4 83.9h0M230.0 68.6h0M244.6 68.6h0M230.1 57.7h0M244.9 57.7h0M229.7 55.6h0M244.0 55.6h0M229.4 54.1h0M245.5 54.1h0M229.1 63.1h0M242.8 63.1h0M229.6 41.7h0M245.0 41.7h0M234.4 95.0h0M238.5 95.0h0M230.2 61.8h0M244.3 61.8h0M230.0 65.5h0M242.6 65.5h0M234.0 97.7h0M237.7 97.7h0M233.3 89.4h0M240.5 89.4h0M230.2 62.2h0M243.2 62.2h0M229.2 57.3h0M243.9 57.3h0M229.8 63.7h0M243.0 63.7h0M228.7 67.5h0M242.3 67.5h0M229.4 55.9h0M244.2 55.9h0M231.6 77.8h0M241.5 77.8h0M233.2 88.8h0M241.0 88.8h0M232.9 89.4h0M240.7 89.4h0M229.5 67.4h0M244.5 67.4h0M229.0 51.9h0M243.7 51.9h0M230.8 72.0h0M242.4 72.0h0M234.3 94.4h0M238.5 94.4h0M229.3 51.5h0M243.4 51.5h0M229.9 69.8h0M242.3 69.8h0M231.2 71.6h0M242.1 71.6h0M235.5 98.4h0M237.7 98.4h0M232.4 88.2h0M239.8 88.2h0M229.8 53.7h0M243.9 53.7h0M233.1 85.7h0M241.0 85.7h0M231.6 80.7h0M241.4 80.7h0M228.6 44.1h0M244.4 44.1h0M228.1 49.6h0M243.6 49.6h0M228.6 46.3h0M244.9 46.3h0M229.7 43.2h0M243.7 43.2h0M228.9 55.9h0M243.7 55.9h0M229.7 55.7h0M244.1 55.7h0M230.1 63.3h0M244.2 63.3h0M229.8 47.2h0M243.3 47.2h0M228.8 60.7h0M243.9 60.7h0M233.0 89.0h0M239.1 89.0h0M229.6 42.3h0M244.4 42.3h0M234.8 98.5h0M237.9 98.5h0M228.4 44.6h0M243.6 44.6h0M229.0 67.7h0M242.9 67.7h0M233.7 92.2h0M238.6 92.2h0M229.8 65.5h0M243.1 65.5h0M231.4 81.5h0M240.8 81.5h0M231.7 76.1h0M242.7 76.1h0M233.8 94.3h0M238.6 94.3h0M234.8 95.3h0M238.0 95.3h0M230.7 79.4h0M242.2 79.4h0M230.4 69.5h0M242.7 69.5h0M233.1 84.8h0M240.5 84.8h0M231.5 80.4h0M241.9 80.4h0M228.6 41.4h0M243.7 41.4h0M231.7 77.5h0M241.6 77.5h0M232.2 82.1h0M242.0 82.1h0M228.1 59.2h0M243.5 59.2h0M229.8 47.3h0M243.5 47.3h0M233.7 98.8h0M237.6 98.8h0M230.0 63.2h0M243.6 63.2h0M230.7 71.5h0M242.2 71.5h0M230.4 72.8h0M244.3 72.8h0M229.8 64.1h0M242.9 64.1h0M235.3 100.8h0M238.2 100.8h0M232.9 92.3h0M239.5 92.3h0M229.9 57.5h0M243.2 57.5h0M230.4 68.2h0M242.7 68.2h0M230.8 67.7h0M243.1 67.7h0M228.7 49.6h0M243.3 49.6h0M235.0 98.9h0M237.7 98.9h0M231.4 75.2h0M241.7 75.2h0M230.1 67.9h0M242.7 67.9h0M231.8 76.8h0M241.6 76.8h0M234.7 98.0h0M238.0 98.0h0M232.0 85.0h0M239.9 85.0h0M229.7 48.0h0M243.2 48.0h0M229.8 49.5h0M243.5 49.5h0M229.3 45.7h0M244.3 45.7h0M229.4 48.6h0M244.1 48.6h0M230.0 55.8h0M245.0 55.8h0M229.7 42.9h0M243.7 42.9h0M234.4 99.3h0M238.0 99.3h0M234.4 94.2h0M238.4 94.2h0M231.3 83.6h0M240.9 83.6h0M229.4 57.4h0M243.0 57.4h0M230.6 67.4h0M243.6 67.4h0M229.9 58.8h0M244.4 58.8h0M229.4 45.4h0M244.3 45.4h0M229.0 54.4h0M243.9 54.4h0M231.1 71.6h0M242.9 71.6h0M230.0 65.9h0M243.0 65.9h0M233.3 101.6h0M238.7 101.6h0M235.6 99.2h0M239.1 99.2h0M231.0 78.4h0M244.3 78.4h0M231.9 80.7h0M241.8 80.7h0M229.3 45.0h0M243.7 45.0h0M229.5 56.3h0M243.5 56.3h0M230.9 69.0h0M242.6 69.0h0M231.6 81.5h0M241.1 81.5h0M232.4 80.8h0M240.8 80.8h0M228.8 52.0h0M243.4 52.0h0M229.5 66.7h0M243.5 66.7h0M232.7 86.5h0M240.4 86.5h0M231.0 75.8h0M241.5 75.8h0M233.8 99.6h0M237.6 99.6h0M234.1 102.3h0M237.1 102.3h0M230.0 55.1h0M244.6 55.1h0M234.4 98.9h0M239.1 98.9h0M229.8 56.8h0M244.1 56.8h0M228.7 59.6h0M244.3 59.6h0M233.5 92.9h0M239.6 92.9h0M229.1 50.7h0M244.2 50.7h0M229.7 53.3h0M243.5 53.3h0M229.8 49.7h0M243.8 49.7h0M233.5 93.2h0M240.0 93.2h0M230.0 59.0h0M244.0 59.0h0M228.5 40.8h0M243.8 40.8h0M228.8 40.8h0M244.1 40.8h0M228.7 40.0h0M243.6 40.0h0M229.5 55.9h0M243.1 55.9h0M231.9 84.6h0M240.5 84.6h0M229.4 55.5h0M245.6 55.5h0M228.0 63.4h0M242.8 63.4h0M229.7 47.8h0M243.3 47.8h0M232.5 84.7h0M241.3 84.7h0M231.3 74.5h0M242.2 74.5h0M231.4 73.9h0M242.7 73.9h0M229.6 52.0h0M244.4 52.0h0M232.7 88.9h0M240.1 88.9h0" fill="none" stroke="#dadada" stroke-width="0.9" stroke-linecap="round" stroke-opacity="1"/>
<path d="M216.0 33.7h0M228.1 50.6h0M227.6 60.7h0M222.5 40.0h0M225.8 40.2h0M214.5 33.1h0M229.8 63.6h0M217.3 24.8h0M217.9 32.9h0M220.9 46.5h0M211.3 23.4h0M230.2 71.5h0M227.1 66.5h0M223.0 54.7h0M223.5 50.8h0M228.2 71.5h0M218.6 26.8h0M218.8 32.9h0M211.8 28.0h0M219.1 34.6h0M226.9 63.9h0M219.1 30.2h0M225.3 51.2h0M217.8 31.9h0M212.0 23.5h0M224.1 51.5h0M223.0 34.4h0M229.4 65.3h0M225.4 41.7h0M230.2 71.1h0M221.1 38.7h0M227.9 64.3h0M227.8 60.7h0M228.3 67.4h0M224.7 58.7h0M225.3 51.0h0M223.9 50.4h0M225.2 57.5h0M221.4 41.1h0M224.2 45.3h0M217.2 27.6h0M229.9 70.0h0M226.4 71.4h0M206.6 23.3h0M225.2 68.9h0M224.0 46.4h0M220.6 39.9h0M227.5 54.5h0M220.8 40.5h0M227.7 71.0h0M226.8 72.7h0M217.8 28.8h0M223.5 46.2h0M230.1 62.8h0M213.4 27.9h0M213.6 30.6h0M225.2 37.1h0M224.1 41.8h0M211.6 24.1h0M223.7 53.2h0M217.1 33.6h0M225.3 48.7h0M226.9 58.9h0M224.6 47.1h0M209.1 25.5h0M226.9 56.9h0M219.2 26.2h0M225.0 42.6h0M226.0 49.3h0M217.2 33.1h0M224.5 36.1h0M224.8 49.7h0M218.0 32.6h0M221.7 34.9h0M215.6 32.3h0M228.4 71.0h0M223.6 46.3h0M219.3 27.4h0M215.9 29.7h0M226.8 55.0h0M213.1 26.0h0M225.7 42.1h0M221.1 39.4h0M222.3 30.0h0M220.8 42.8h0M228.3 67.3h0M224.9 50.5h0M224.3 47.4h0M222.4 38.8h0M220.3 41.2h0M223.4 36.4h0M221.6 37.7h0M219.6 36.4h0M220.9 34.8h0M229.9 66.3h0M215.1 24.3h0M223.6 40.8h0M227.4 64.0h0M220.4 28.5h0M209.0 24.3h0M220.4 34.7h0M225.6 53.2h0M224.4 56.8h0M218.5 38.8h0M217.0 35.2h0M212.8 25.4h0M222.8 30.7h0M226.3 57.5h0M217.5 33.8h0M229.1 71.1h0M227.5 51.8h0M223.7 40.8h0M225.5 61.1h0M221.7 32.8h0M224.5 47.0h0M220.4 40.4h0M227.5 56.5h0M225.0 45.5h0M224.7 35.7h0M221.8 36.5h0M218.1 29.3h0M229.2 59.5h0M220.3 37.5h0M219.8 29.8h0M220.2 36.0h0M211.2 24.6h0M219.2 25.2h0M215.0 26.3h0M223.6 47.5h0M227.3 51.9h0M217.9 32.1h0M228.4 64.9h0M230.2 65.6h0M228.3 63.3h0M226.6 63.5h0M224.4 38.0h0M226.5 49.8h0M228.2 66.8h0M214.6 28.1h0M222.4 55.7h0M209.4 25.5h0M226.7 58.8h0M227.2 62.1h0M223.2 46.3h0M228.2 53.6h0M218.8 34.5h0M213.3 30.9h0M232.0 73.7h0M229.6 70.6h0M226.4 55.5h0M228.5 70.6h0M225.2 36.4h0M227.8 54.9h0M221.3 38.6h0M225.1 48.2h0M230.5 67.8h0M214.7 32.3h0M224.5 45.5h0M215.7 26.4h0M217.5 40.6h0M226.0 47.6h0M231.4 73.5h0M221.4 39.1h0M226.7 59.7h0M219.5 31.5h0M216.3 31.7h0M229.9 67.2h0M230.5 69.7h0M222.5 38.7h0M214.6 30.1h0M225.1 56.6h0M228.5 49.0h0M226.0 55.1h0M228.5 63.1h0M219.9 27.7h0M221.4 34.3h0M227.8 67.6h0M228.0 70.1h0M226.4 44.6h0M220.6 30.2h0M222.3 44.1h0M229.7 65.5h0M222.4 30.6h0M214.5 28.7h0M222.8 38.5h0M213.7 36.9h0M209.5 24.7h0M219.7 34.9h0M227.4 45.7h0M227.8 49.2h0M225.9 52.2h0M230.4 61.2h0M222.7 36.2h0M224.2 51.9h0M211.1 28.1h0M223.1 44.3h0M220.9 36.7h0M222.1 42.3h0M212.5 29.5h0M228.2 57.0h0" fill="none" stroke="#7a82f0" stroke-width="0.76" stroke-linecap="round" stroke-opacity="0.6"/>
<path d="M227.0 27.7h0M228.7 36.2h0M223.6 22.6h0M223.8 22.7h0M223.8 31.2h0M222.6 41.0h0M229.1 38.2h0M230.0 56.1h0M224.7 23.5h0M225.3 24.1h0M229.3 41.6h0M223.6 22.6h0M229.4 44.1h0M228.6 32.4h0M229.2 51.5h0M223.7 35.6h0M229.8 47.1h0M225.5 31.0h0M225.2 23.7h0M229.7 49.4h0M229.9 57.4h0M228.7 38.4h0M226.0 54.7h0M221.7 22.6h0M220.8 42.1h0M226.4 29.8h0M223.3 22.4h0M220.4 22.6h0M224.2 23.3h0M224.0 22.8h0M223.7 36.8h0M226.0 26.4h0M220.5 28.8h0M225.5 24.1h0M225.6 25.2h0M223.1 22.4h0M227.5 29.2h0M227.9 35.2h0M229.9 43.8h0M228.7 57.3h0M228.2 30.0h0M223.8 22.6h0M225.7 24.7h0M223.4 22.4h0M224.6 23.0h0M229.4 40.2h0M226.1 25.7h0M225.4 55.4h0M228.3 32.9h0M227.3 28.3h0M230.6 53.9h0M228.8 35.8h0M228.2 36.5h0M229.4 56.4h0M226.5 25.9h0M226.5 36.0h0M227.4 27.9h0M228.0 55.6h0M229.1 53.1h0M227.8 28.7h0M223.3 22.5h0M230.6 63.8h0M227.4 62.2h0M225.8 24.9h0M225.3 24.4h0M229.6 54.7h0M227.4 42.4h0M229.5 60.0h0M229.9 48.5h0M223.5 28.0h0M229.8 65.0h0M230.1 46.8h0M224.9 23.3h0M219.3 23.6h0M230.0 65.7h0M224.9 23.3h0M229.6 64.9h0M222.1 31.6h0M230.0 53.7h0M225.6 25.4h0M226.6 25.9h0M227.7 28.6h0M222.9 38.6h0M228.6 34.5h0M228.6 35.6h0M219.2 22.4h0M225.3 24.0h0M226.4 27.7h0M226.6 37.1h0M226.4 25.6h0M229.4 49.9h0M229.9 60.2h0M228.8 40.1h0M228.0 32.4h0M219.3 33.5h0M229.7 62.6h0M221.2 37.3h0M224.2 23.2h0M224.1 22.7h0M226.9 50.7h0M222.7 23.7h0M226.5 57.9h0M213.4 24.9h0M229.7 66.5h0M224.9 23.8h0M225.6 24.4h0M229.4 46.6h0M223.2 22.4h0M229.8 40.8h0M225.1 51.0h0M224.6 23.0h0M226.5 26.2h0M220.2 31.1h0M214.7 23.6h0M227.8 37.9h0M229.6 44.5h0M212.3 22.7h0M217.1 22.8h0M216.7 22.7h0M221.9 37.0h0M226.2 26.1h0M224.2 23.1h0M223.4 22.6h0M230.0 49.1h0M228.6 34.5h0M226.2 25.6h0M229.6 47.3h0M230.5 62.0h0M229.5 53.2h0M227.8 30.0h0M221.9 44.5h0M229.5 45.7h0M228.2 30.5h0M221.1 22.7h0M226.7 25.8h0M229.9 57.0h0M226.4 26.5h0M225.3 23.7h0M213.9 26.0h0M212.9 25.5h0M227.1 27.2h0M228.2 33.3h0M225.6 24.5h0M223.9 22.9h0M223.4 22.5h0M229.1 38.7h0M229.1 48.5h0M227.4 29.9h0M230.3 66.1h0M217.6 22.5h0M229.8 58.6h0M224.0 23.5h0M224.6 34.7h0M223.4 38.6h0M228.6 44.2h0M224.7 23.4h0M218.2 23.0h0M228.3 40.9h0M228.6 34.0h0M227.9 34.6h0M229.5 42.8h0M223.5 22.7h0M229.7 47.1h0M227.8 34.2h0M227.2 33.5h0M229.1 41.8h0M224.9 23.6h0M228.8 37.8h0M223.4 22.6h0M229.2 43.8h0M228.4 35.2h0M230.1 58.7h0M228.8 65.5h0M225.5 53.3h0M228.4 32.2h0M225.8 24.7h0M224.6 23.5h0M229.8 53.3h0M229.6 58.2h0M229.0 33.8h0M222.9 22.4h0M224.8 23.5h0M221.9 27.4h0M230.0 54.6h0M229.9 61.3h0M227.5 29.3h0M230.2 67.3h0M226.7 26.3h0M218.4 23.0h0M226.7 25.6h0M228.2 35.0h0M229.3 58.0h0M224.2 41.2h0M229.6 46.5h0M229.7 47.3h0M226.2 26.6h0M229.9 61.3h0M224.2 26.9h0M230.3 65.4h0M228.7 37.2h0M225.5 23.9h0M229.1 34.3h0M226.4 59.7h0M225.7 24.4h0M227.3 28.3h0M223.9 37.8h0M229.5 48.4h0M227.9 29.4h0M223.7 22.6h0M227.8 34.6h0M230.0 56.4h0M228.1 30.3h0M229.2 63.5h0M221.3 22.5h0M230.0 58.9h0M218.8 30.0h0M228.1 53.7h0M224.2 23.1h0M227.9 35.5h0M227.5 42.1h0M228.4 32.6h0M216.2 25.2h0M229.5 42.0h0M228.4 41.5h0M223.9 23.1h0M227.9 29.9h0M229.1 39.5h0M230.3 64.0h0M230.0 58.0h0M230.1 64.1h0M226.5 27.2h0M228.1 31.1h0M224.1 43.3h0M227.2 28.1h0M229.7 44.2h0M228.2 34.7h0M230.4 64.9h0M222.6 25.0h0M214.8 26.8h0M225.8 25.0h0M223.3 43.1h0M211.9 24.8h0M225.0 23.5h0M228.3 59.1h0M222.7 47.3h0M214.2 24.2h0M229.7 48.2h0M227.5 29.3h0M225.4 23.9h0M230.5 63.7h0M230.0 64.4h0M230.3 53.4h0M222.9 22.5h0M226.0 24.4h0M229.7 59.0h0M230.1 49.6h0M223.6 22.5h0M226.0 48.3h0M227.6 28.2h0M224.0 25.9h0M227.4 27.5h0M229.9 60.5h0M230.3 62.7h0M228.3 63.8h0M227.6 29.8h0M230.3 61.5h0M229.2 52.0h0M228.9 39.8h0M227.0 27.6h0M222.6 24.5h0M226.5 25.6h0M213.5 27.7h0M226.2 58.0h0M223.9 22.9h0M229.6 45.9h0M228.7 40.6h0M227.2 48.3h0M229.9 54.8h0M229.0 37.7h0M226.0 25.6h0M216.9 23.7h0M214.1 30.1h0M228.8 34.8h0M230.1 66.6h0M224.8 33.3h0M223.0 22.5h0M224.7 23.2h0M230.1 61.6h0M230.0 56.6h0M230.7 62.9h0M228.7 39.2h0M225.0 23.5h0M225.4 25.8h0M223.2 22.4h0M229.5 43.9h0M229.9 51.5h0M223.4 22.6h0M229.6 41.6h0M223.2 23.8h0M215.3 27.2h0M226.2 27.3h0M225.7 56.5h0M227.6 29.0h0M214.5 22.4h0M223.5 31.2h0M228.6 32.7h0M222.5 22.4h0M222.6 22.9h0M227.6 29.2h0M221.4 35.4h0M224.2 23.1h0M225.1 24.5h0M227.4 62.7h0M230.2 61.3h0M229.9 59.6h0M229.8 50.9h0M222.9 30.5h0M225.7 24.9h0M228.8 35.3h0M225.9 46.8h0M222.9 22.5h0M229.9 54.6h0M228.8 39.4h0M227.4 31.1h0M226.8 31.3h0M222.5 22.4h0M228.6 34.0h0M227.9 32.6h0M228.6 33.3h0M224.0 22.9h0M228.6 34.9h0M228.1 47.4h0M228.4 35.0h0M230.3 63.3h0M225.3 56.0h0M210.3 24.4h0M219.0 34.1h0M225.9 51.0h0M223.6 22.7h0M229.9 59.0h0M229.4 53.0h0M225.8 24.7h0M228.8 34.7h0M213.9 23.8h0M225.4 44.0h0M224.3 23.1h0M229.6 41.5h0M223.9 38.4h0M208.3 23.0h0M229.7 51.7h0M230.1 66.6h0M228.6 32.0h0M229.9 48.0h0M220.8 41.6h0M228.2 38.7h0M223.4 22.5h0M228.7 40.3h0M224.6 23.4h0M229.7 42.4h0M224.1 23.0h0M225.1 25.0h0M229.1 40.8h0M213.5 23.4h0M223.1 22.9h0M228.9 57.0h0M222.3 22.4h0M228.8 37.5h0M229.5 62.2h0M217.7 25.6h0M228.1 30.5h0M220.3 22.6h0M230.2 62.5h0M224.5 24.5h0M229.9 52.8h0M227.3 27.2h0M229.2 50.7h0M217.5 22.4h0M229.4 47.9h0M226.0 25.1h0M224.6 28.1h0M226.6 44.9h0M228.6 37.0h0M229.8 51.0h0M230.7 64.5h0M230.0 57.7h0M224.9 48.0h0M229.9 48.2h0M216.8 25.4h0M228.0 41.1h0M223.2 33.1h0M226.0 45.1h0M229.2 37.9h0M225.3 24.8h0M225.1 23.5h0M213.6 23.0h0M223.5 22.5h0M228.9 44.8h0M222.6 22.7h0M223.3 29.0h0M216.2 22.7h0M227.7 60.4h0M224.4 23.1h0M228.3 55.3h0M229.0 41.2h0M224.1 23.0h0M226.7 27.5h0M223.3 22.4h0M228.0 29.1h0M230.5 64.4h0M223.0 22.5h0M225.1 31.7h0M229.1 36.3h0M230.1 56.4h0M223.2 22.4h0M224.3 49.3h0M225.3 34.1h0M225.1 24.2h0M215.3 25.9h0M226.5 26.5h0M222.9 23.1h0M219.8 22.8h0M228.9 41.0h0M228.1 30.3h0M230.0 58.3h0M226.0 24.6h0M220.6 29.5h0M225.4 25.2h0M229.2 48.6h0M227.6 28.5h0M228.4 43.0h0M225.4 23.9h0M224.0 23.3h0M230.1 58.1h0M227.0 45.4h0M225.1 23.7h0M228.9 35.5h0M227.5 27.8h0M211.0 23.0h0M224.5 23.0h0M229.6 47.4h0M224.7 24.4h0M228.0 29.9h0M224.4 30.3h0M229.0 41.2h0M223.7 23.5h0M230.3 59.9h0M227.0 38.1h0M226.3 46.6h0M229.4 50.1h0M229.0 41.8h0M226.2 27.4h0M229.2 50.6h0M229.1 41.1h0M229.4 40.6h0M224.1 43.7h0M230.2 50.3h0M218.0 34.0h0M221.5 23.8h0M230.4 62.5h0M227.5 36.4h0M228.0 35.0h0M217.5 30.7h0M223.8 24.7h0M209.7 23.2h0M227.4 28.7h0M223.5 22.4h0M226.4 31.1h0M223.4 25.0h0M230.2 62.4h0M228.4 30.0h0M221.1 23.3h0M227.7 33.1h0M212.6 25.1h0M228.6 53.2h0M228.3 33.0h0M229.9 54.3h0M229.9 55.5h0M228.3 31.3h0M221.0 22.4h0M226.8 27.0h0M227.1 31.4h0M228.7 61.5h0M218.7 22.6h0M219.1 23.5h0M230.0 41.3h0M229.5 42.6h0M224.1 23.0h0M227.8 28.4h0M229.4 59.6h0M227.5 39.9h0M225.2 43.3h0M223.4 24.5h0M226.3 35.9h0M229.1 37.1h0M225.9 25.3h0M228.4 33.0h0M227.9 34.1h0M217.5 22.4h0M227.7 33.0h0M227.2 29.4h0M230.1 64.1h0M222.3 22.5h0M223.7 44.2h0M229.1 34.9h0M230.0 59.0h0M220.7 28.1h0M227.0 29.1h0M225.6 24.7h0M227.8 31.2h0M229.8 53.8h0M227.9 34.6h0M227.2 42.5h0M227.0 27.9h0M227.5 41.4h0M221.4 22.5h0M223.3 22.6h0M223.6 22.4h0M227.2 42.7h0M229.7 60.0h0M229.0 45.0h0M229.4 44.1h0M229.6 49.3h0M225.6 24.2h0M228.9 42.6h0M228.5 53.5h0M226.6 27.0h0M226.5 27.5h0M222.6 22.6h0M223.6 22.5h0M229.8 60.7h0M222.8 22.4h0M230.0 65.8h0M228.0 30.8h0M224.9 23.7h0M222.1 22.4h0M217.3 22.8h0M224.5 23.3h0M229.6 47.4h0M219.9 22.6h0M229.2 47.1h0M227.6 41.0h0M213.4 25.7h0M230.0 46.3h0M230.0 53.1h0M224.8 27.3h0M228.9 33.8h0M226.7 29.1h0M220.7 23.5h0M226.3 29.0h0M224.3 29.8h0M229.3 62.8h0M209.7 22.6h0M226.9 45.5h0M229.8 65.5h0M228.8 39.5h0M226.5 29.4h0M224.1 39.5h0M223.1 22.4h0M227.8 31.2h0M217.6 22.5h0M227.4 52.7h0M228.6 55.5h0M224.6 44.3h0M226.1 37.0h0M222.9 24.5h0M228.2 39.8h0M228.4 32.9h0M230.3 51.3h0M219.4 22.8h0M223.4 38.4h0M229.6 58.1h0M225.7 24.3h0M223.4 24.1h0M228.0 30.4h0M225.2 23.6h0M223.1 23.0h0M229.7 51.0h0M228.6 35.4h0M208.4 22.5h0M228.8 37.7h0M230.3 50.4h0M225.4 53.2h0M226.3 25.7h0M224.0 22.8h0M223.5 37.2h0M230.3 60.0h0M229.6 39.3h0M226.2 25.8h0M222.2 41.7h0M228.1 32.2h0M227.6 64.5h0M226.3 25.8h0M228.1 59.5h0M229.1 50.9h0M221.2 42.1h0M225.2 48.8h0M229.2 43.8h0M223.9 23.0h0M226.1 25.8h0M226.1 25.4h0M229.5 43.9h0M213.0 22.5h0M215.3 24.9h0M224.2 23.5h0M213.7 22.9h0M228.0 32.4h0M229.8 53.5h0M225.8 25.0h0M229.8 46.1h0M226.7 26.0h0M225.2 23.7h0M225.0 23.9h0M219.1 27.5h0M215.7 22.6h0M229.3 43.3h0M226.3 25.8h0M214.1 29.0h0M224.0 22.9h0M230.0 58.9h0M230.2 65.6h0M229.9 52.3h0M229.9 54.1h0M225.6 24.2h0M228.9 37.9h0M222.0 24.1h0M223.6 22.8h0M229.1 39.9h0M228.2 40.1h0M229.8 52.7h0M229.8 47.3h0M229.8 46.6h0M227.7 54.9h0M228.8 34.1h0M229.9 57.1h0M220.0 24.2h0M227.1 29.2h0M222.7 22.4h0M222.3 23.2h0M227.5 53.0h0M225.6 29.6h0M216.7 22.6h0M228.3 35.1h0M229.0 36.2h0M225.5 24.2h0M221.5 25.6h0M229.6 45.2h0M222.3 22.4h0M229.5 45.4h0M229.6 56.9h0M228.4 34.2h0" fill="none" stroke="#2a34e0" stroke-width="0.84" stroke-linecap="round" stroke-opacity="0.85"/>
<path d="M244.8 59.3h0M247.8 36.8h0M248.9 27.6h0M250.4 22.2h0M244.1 57.6h0M248.9 23.2h0M243.9 43.8h0M247.1 38.0h0M244.2 40.5h0M243.3 37.9h0M245.4 50.8h0M250.1 23.6h0M244.9 55.7h0M249.5 26.7h0M244.8 40.5h0M249.6 22.1h0M250.6 22.1h0M245.1 37.7h0M245.0 31.4h0M243.7 64.9h0M246.3 38.6h0M248.4 23.1h0M243.8 47.9h0M246.2 34.8h0M246.4 35.6h0M244.0 46.2h0M245.7 44.3h0M245.7 48.3h0M245.2 31.0h0M247.8 22.8h0M247.5 32.0h0M243.8 65.1h0M243.8 47.2h0M250.3 22.2h0M245.0 35.6h0M248.4 23.0h0M246.0 45.9h0M244.1 48.6h0M244.2 64.5h0M244.4 50.2h0M250.8 26.6h0M251.2 22.2h0M249.7 29.1h0M249.6 29.4h0M244.7 61.3h0M249.0 25.0h0M248.0 24.4h0M250.8 25.9h0M250.2 24.1h0M244.5 55.2h0M245.6 46.9h0M248.7 32.4h0M250.5 23.1h0M247.1 36.8h0M251.1 23.9h0M244.3 54.8h0M245.5 54.8h0M252.4 22.5h0M252.4 22.0h0M249.2 22.4h0M243.4 42.5h0M246.6 44.6h0M243.8 64.2h0M244.1 42.9h0M245.2 33.2h0M252.5 22.0h0M250.7 26.4h0M250.0 22.8h0M251.0 23.4h0M245.2 33.0h0M248.3 27.5h0M251.6 24.0h0M244.9 56.3h0M247.1 25.1h0M250.0 22.1h0M245.7 27.8h0M245.2 42.8h0M246.4 43.0h0M244.7 55.6h0M249.7 29.7h0M247.0 28.6h0M243.9 65.9h0M247.1 38.3h0M246.9 28.3h0M248.1 23.7h0M243.2 58.3h0M244.2 43.2h0M250.6 26.4h0M251.6 22.0h0M247.3 37.4h0M250.0 24.4h0M244.3 44.3h0M246.6 34.2h0M245.3 39.4h0M249.9 24.2h0M248.5 31.9h0M246.3 34.0h0M244.7 59.8h0M246.5 34.1h0M251.2 23.3h0M247.9 31.3h0M243.0 55.1h0M249.5 28.4h0M248.7 23.0h0M249.7 22.5h0M244.7 31.0h0M249.9 28.9h0M247.8 32.1h0M243.7 47.3h0M244.9 33.9h0M247.0 28.0h0M250.0 23.8h0M248.8 22.1h0M246.8 26.6h0M243.3 52.6h0M248.8 23.8h0M244.9 49.6h0M246.5 30.6h0M243.9 44.3h0M244.5 50.9h0M248.3 28.5h0M244.6 63.5h0M248.6 28.1h0M244.5 47.2h0M246.7 34.2h0M250.4 22.0h0M246.9 31.4h0M248.3 31.9h0M246.5 30.5h0M245.9 41.8h0M245.1 29.1h0M245.1 48.0h0M249.4 22.6h0M248.7 22.5h0M245.4 47.0h0M245.0 44.2h0M250.8 22.1h0M245.0 65.8h0M243.6 55.5h0M252.8 22.0h0M247.6 25.3h0M244.8 54.5h0M246.3 33.5h0M245.2 55.1h0M244.1 54.3h0M245.7 34.7h0M246.6 31.5h0M243.8 50.3h0M244.8 59.2h0M245.9 34.5h0M245.1 36.0h0M250.3 25.7h0M244.2 50.3h0M249.0 30.7h0M249.9 22.1h0M243.6 54.7h0M244.8 37.6h0M244.5 50.2h0M245.6 42.0h0M244.0 52.9h0M244.1 59.1h0M245.9 49.1h0M248.1 29.6h0M244.6 42.7h0M251.7 22.1h0M247.5 25.8h0M244.9 36.9h0M244.1 58.6h0M244.1 53.1h0M244.5 28.7h0M248.5 28.4h0M250.5 22.4h0M244.6 45.3h0M243.6 52.2h0M245.6 59.5h0M247.8 25.7h0M244.9 46.8h0M248.3 32.3h0M246.0 37.7h0M251.0 25.2h0M244.0 53.4h0M247.4 37.8h0M250.4 27.2h0M248.0 26.9h0M250.6 24.7h0M246.9 25.9h0M243.8 35.8h0M245.4 37.6h0M250.7 22.1h0M250.7 22.8h0M247.4 27.5h0M251.8 23.3h0M250.3 26.8h0M247.9 23.0h0M243.4 56.0h0M250.1 22.6h0M249.8 23.2h0M249.2 23.7h0M247.9 23.8h0M248.9 33.1h0M251.7 22.0h0M246.7 36.3h0M250.7 24.3h0M250.0 22.0h0M245.6 33.8h0M244.7 36.7h0M246.7 37.6h0M249.6 24.7h0M243.5 64.5h0M244.0 51.2h0M244.6 50.9h0M244.3 60.9h0M245.5 29.3h0M244.5 42.3h0M246.4 27.2h0M250.9 26.8h0M244.4 65.8h0M245.8 48.7h0M245.3 46.8h0M245.6 53.5h0M251.1 22.4h0M244.8 63.0h0M244.1 46.5h0M244.3 58.0h0M245.0 52.5h0M245.1 52.0h0M244.5 55.4h0M243.8 61.4h0M244.8 63.3h0M248.5 24.4h0M245.1 31.2h0M245.7 42.7h0M249.2 28.8h0M244.5 61.0h0M245.1 29.3h0M248.2 27.1h0M245.6 52.8h0M248.5 22.0h0M244.2 51.0h0M246.6 27.0h0M249.6 27.5h0M249.0 22.3h0M244.5 43.6h0M250.6 22.6h0M251.8 22.1h0M244.5 62.4h0M250.8 24.2h0M247.2 28.8h0M244.6 62.2h0M243.8 52.4h0M244.5 34.2h0M249.0 31.1h0M248.8 24.8h0M244.8 54.7h0M250.3 28.2h0M250.5 22.3h0M248.9 30.7h0M245.3 39.6h0M247.4 34.0h0M250.2 27.8h0M251.6 22.1h0M247.8 30.8h0M244.9 56.9h0M246.4 26.7h0M245.3 62.0h0M244.4 36.6h0M248.7 28.8h0M244.0 47.6h0M246.2 35.0h0M245.0 50.5h0M250.0 28.4h0M246.7 25.4h0M247.2 36.6h0M249.9 22.9h0M243.8 55.9h0M246.0 26.3h0M248.8 25.9h0M248.7 23.5h0M243.8 61.2h0M249.5 22.5h0M247.3 28.8h0M251.5 23.8h0M248.2 30.9h0M246.3 26.4h0M244.3 47.2h0M244.0 46.9h0M249.8 27.8h0M244.5 39.5h0M243.7 48.2h0M250.0 27.5h0M248.1 25.1h0M245.4 47.0h0M249.1 29.5h0M247.0 40.3h0M246.1 39.7h0M244.5 60.9h0M247.8 27.1h0M251.3 23.5h0M246.0 34.4h0M248.8 22.8h0M249.3 22.2h0M245.4 41.6h0M247.8 29.2h0M246.1 49.4h0M250.8 23.0h0M244.8 57.5h0M245.3 46.3h0M250.6 22.8h0M245.3 43.8h0M246.9 38.0h0M247.5 25.3h0M246.8 42.1h0M244.3 50.3h0M244.1 52.9h0M251.0 22.0h0M250.2 22.2h0M247.8 35.5h0M249.1 22.5h0M244.6 39.4h0M251.3 24.1h0M251.3 23.9h0M251.2 22.0h0M250.2 22.0h0M246.2 39.5h0M245.0 37.1h0M251.2 24.3h0M245.0 65.6h0M243.8 64.8h0M244.6 32.0h0M244.9 44.1h0M246.4 27.1h0M251.0 23.7h0M246.3 33.7h0M249.0 23.7h0M247.3 35.8h0M245.0 61.6h0M245.7 45.0h0M252.0 22.0h0M245.2 44.9h0M250.8 23.2h0M244.3 65.3h0M250.1 27.6h0M244.7 50.5h0M251.4 23.0h0M249.5 31.8h0M248.0 32.0h0M248.0 22.7h0M248.3 23.9h0M251.9 22.0h0M243.6 64.3h0M244.7 45.6h0M247.4 22.8h0M249.9 24.0h0M245.3 52.3h0M245.1 31.5h0M249.2 22.2h0M246.4 39.2h0M248.4 23.9h0M244.6 58.1h0M249.0 22.7h0M247.0 31.2h0M244.7 30.5h0M243.3 45.1h0M245.9 41.9h0M249.9 24.5h0M251.6 22.9h0M244.1 37.8h0M249.8 24.3h0M245.2 49.3h0M248.1 22.1h0M244.9 63.9h0M251.4 24.5h0M250.7 24.1h0M243.9 59.2h0M247.8 23.0h0M244.6 63.7h0M251.4 23.5h0M251.8 22.5h0M245.8 56.8h0M247.3 35.6h0M246.6 33.1h0M247.9 22.3h0M245.2 35.1h0M243.5 46.4h0M245.1 52.3h0M244.3 40.6h0M245.7 30.1h0M246.0 27.5h0M245.9 45.5h0M246.8 27.9h0M243.2 47.6h0M242.9 48.0h0M248.4 22.2h0M245.8 33.9h0M247.6 29.3h0M245.1 45.6h0M245.0 58.7h0M246.1 42.4h0M249.3 30.2h0M248.7 30.6h0M248.0 24.8h0M250.2 22.4h0M245.1 64.3h0M245.5 52.8h0M244.2 46.9h0M249.3 22.0h0M245.0 56.6h0M246.2 48.4h0M245.2 49.8h0M249.5 26.3h0M248.3 27.9h0M246.8 34.4h0M247.5 34.8h0M246.9 42.9h0M248.8 22.4h0M249.8 22.0h0M246.5 44.5h0M245.9 42.8h0M245.5 46.5h0M251.3 22.0h0M248.8 23.9h0M246.2 37.4h0M246.4 37.7h0M248.2 22.2h0M246.5 27.8h0M244.9 63.4h0M250.4 25.3h0M248.2 26.0h0M244.8 42.9h0M244.1 60.2h0M243.6 52.5h0M245.0 54.2h0M244.6 41.8h0M243.9 58.0h0M245.4 41.1h0M248.1 22.9h0M244.0 64.5h0M247.0 24.2h0M252.4 22.0h0M249.6 27.8h0M251.4 22.8h0M244.9 34.0h0M250.6 24.7h0M244.3 47.7h0M248.2 23.7h0M245.4 40.1h0M243.3 55.3h0M246.6 24.4h0M244.8 30.5h0M248.6 22.4h0M245.3 32.1h0M248.6 22.6h0M248.2 27.7h0M248.9 22.2h0M245.5 46.4h0M243.2 54.4h0M244.5 61.2h0M244.1 54.9h0M249.5 22.3h0M243.5 45.5h0M246.2 31.0h0M246.5 27.7h0M244.4 64.6h0M245.3 40.8h0M250.1 22.0h0M249.0 24.4h0M246.5 38.1h0M245.2 61.3h0M244.4 54.3h0M249.8 24.3h0M243.7 57.8h0M245.5 30.5h0M250.3 23.6h0M248.0 29.1h0M252.3 22.0h0M248.7 33.5h0M248.7 32.7h0M243.8 52.6h0M244.5 66.0h0M248.7 26.6h0M249.3 27.2h0M251.5 23.2h0M250.7 22.0h0M247.1 35.9h0M249.5 22.8h0M248.9 23.0h0M246.7 34.0h0M247.7 24.4h0M245.1 37.1h0M246.7 41.3h0M244.4 62.3h0M252.0 22.1h0M248.0 22.5h0M245.2 63.1h0M247.7 29.8h0M244.8 40.8h0M248.8 22.6h0M245.3 50.2h0M244.6 62.8h0M244.9 36.3h0M244.3 43.1h0M247.4 34.1h0M251.1 22.2h0M245.9 41.9h0M249.9 22.0h0M243.8 40.4h0M244.9 62.4h0M244.3 62.4h0M249.8 29.4h0M244.3 45.8h0M246.2 41.4h0M248.6 24.0h0M248.4 22.1h0M250.8 22.3h0M244.3 61.1h0M245.9 30.4h0M244.4 32.2h0M250.0 28.0h0M245.4 47.9h0M246.0 43.9h0" fill="none" stroke="#f2d41c" stroke-width="0.9" stroke-linecap="round" stroke-opacity="0.85"/>
<path d="M254.3 22.8h0M255.6 22.6h0M268.1 22.4h0M269.3 22.5h0M263.0 22.8h0M261.8 22.8h0M266.0 22.8h0M250.1 22.9h0M253.8 22.8h0M255.1 22.8h0M255.8 22.6h0M250.4 22.1h0M252.5 23.4h0M253.3 22.5h0M257.4 22.6h0M259.2 22.8h0M260.5 22.8h0M251.8 22.9h0M253.6 23.1h0M265.3 23.0h0M255.8 22.9h0M257.5 22.4h0M260.8 23.0h0M262.3 23.3h0M251.1 23.0h0M258.5 23.1h0M265.8 22.9h0M267.6 23.2h0M252.1 22.7h0M265.6 22.7h0M267.7 22.8h0M252.1 22.6h0M264.6 22.7h0M254.2 22.7h0M262.8 23.1h0M255.3 23.0h0M255.7 22.5h0M265.9 22.9h0M250.7 22.8h0M256.4 22.6h0M264.1 22.7h0M269.8 22.5h0M254.5 22.7h0M255.7 23.1h0M253.5 22.9h0M268.2 23.2h0M265.8 23.2h0M256.8 22.7h0M256.9 22.8h0M263.4 22.7h0" fill="none" stroke="#f4e070" stroke-width="0.7" stroke-linecap="round" stroke-opacity="0.7"/>
<path d="M246.5,16.8 L247.6,25.5 L263,32.2 L253.7,22 Z" fill="none" stroke="#333" stroke-width="0.5"/>
<text x="242.5" y="12.5" font-size="4.8" text-anchor="middle" fill="#222" font-style="italic" stroke="#222" stroke-width="0.19">H2-D1</text>
<text x="263" y="38.5" font-size="4.8" text-anchor="middle" fill="#222" font-style="italic" stroke="#222" stroke-width="0.19">H2-K1</text>
<rect x="246.9" y="81.5" width="32" height="20.7" fill="#fff" stroke="#cfc79a" stroke-width="0.5"/>
<text x="248.6" y="86.1" font-size="4.5" text-anchor="start" fill="#c8ae48" stroke="#c8ae48" stroke-width="0.18">2x Up in Vo</text>
<text x="248.6" y="90.9" font-size="4.5" text-anchor="start" fill="#4a68d0" stroke="#4a68d0" stroke-width="0.18">2x Up in DMSO</text>
<text x="248.6" y="95.8" font-size="4.5" text-anchor="start" fill="#111" stroke="#111" stroke-width="0.18">FDR &lt;0.05</text>
<text x="248.6" y="100.6" font-size="4.5" text-anchor="start" fill="#111" stroke="#111" stroke-width="0.18">○H2 genes</text>
<text x="189.6" y="19.299999999999997" font-size="2.6" text-anchor="middle" fill="#555" transform="rotate(-90 189.6 19.299999999999997)" stroke="#555" stroke-width="0.10">8</text>
<text x="189.6" y="28.2" font-size="2.6" text-anchor="middle" fill="#555" transform="rotate(-90 189.6 28.2)" stroke="#555" stroke-width="0.10">58</text>
<text x="189.6" y="34.8" font-size="2.6" text-anchor="middle" fill="#555" transform="rotate(-90 189.6 34.8)" stroke="#555" stroke-width="0.10">52</text>
<text x="189.6" y="41.5" font-size="2.6" text-anchor="middle" fill="#555" transform="rotate(-90 189.6 41.5)" stroke="#555" stroke-width="0.10">50</text>
<text x="189.6" y="48.1" font-size="2.6" text-anchor="middle" fill="#555" transform="rotate(-90 189.6 48.1)" stroke="#555" stroke-width="0.10">18</text>
<text x="189.6" y="55.1" font-size="2.6" text-anchor="middle" fill="#555" transform="rotate(-90 189.6 55.1)" stroke="#555" stroke-width="0.10">16</text>
<text x="189.6" y="62.3" font-size="2.6" text-anchor="middle" fill="#555" transform="rotate(-90 189.6 62.3)" stroke="#555" stroke-width="0.10">14</text>
<text x="189.6" y="68.9" font-size="2.6" text-anchor="middle" fill="#555" transform="rotate(-90 189.6 68.9)" stroke="#555" stroke-width="0.10">12</text>
<text x="189.6" y="76.10000000000001" font-size="2.6" text-anchor="middle" fill="#555" transform="rotate(-90 189.6 76.10000000000001)" stroke="#555" stroke-width="0.10">10</text>
<text x="189.6" y="82.60000000000001" font-size="2.6" text-anchor="middle" fill="#555" transform="rotate(-90 189.6 82.60000000000001)" stroke="#555" stroke-width="0.10">8</text>
<text x="189.6" y="89.80000000000001" font-size="2.6" text-anchor="middle" fill="#555" transform="rotate(-90 189.6 89.80000000000001)" stroke="#555" stroke-width="0.10">6</text>
<text x="189.6" y="96.4" font-size="2.6" text-anchor="middle" fill="#555" transform="rotate(-90 189.6 96.4)" stroke="#555" stroke-width="0.10">4</text>
<text x="189.6" y="103.0" font-size="2.6" text-anchor="middle" fill="#555" transform="rotate(-90 189.6 103.0)" stroke="#555" stroke-width="0.10">2</text>
<text x="191.3" y="109.3" font-size="3.4" text-anchor="middle" fill="#333" stroke="#333" stroke-width="0.14">-64</text>
<text x="200.13000000000002" y="109.3" font-size="3.4" text-anchor="middle" fill="#333" stroke="#333" stroke-width="0.14">-27.9</text>
<text x="208.96" y="109.3" font-size="3.4" text-anchor="middle" fill="#333" stroke="#333" stroke-width="0.14">-12.1</text>
<text x="217.79000000000002" y="109.3" font-size="3.4" text-anchor="middle" fill="#333" stroke="#333" stroke-width="0.14">-5.3</text>
<text x="226.62" y="109.3" font-size="3.4" text-anchor="middle" fill="#333" stroke="#333" stroke-width="0.14">-2.3</text>
<text x="235.45000000000002" y="109.3" font-size="3.4" text-anchor="middle" fill="#333" stroke="#333" stroke-width="0.14">1</text>
<text x="244.28000000000003" y="109.3" font-size="3.4" text-anchor="middle" fill="#333" stroke="#333" stroke-width="0.14">2.3</text>
<text x="253.11" y="109.3" font-size="3.4" text-anchor="middle" fill="#333" stroke="#333" stroke-width="0.14">5.3</text>
<text x="261.94" y="109.3" font-size="3.4" text-anchor="middle" fill="#333" stroke="#333" stroke-width="0.14">12.1</text>
<text x="270.77" y="109.3" font-size="3.4" text-anchor="middle" fill="#333" stroke="#333" stroke-width="0.14">27.9</text>
<text x="279.6" y="109.3" font-size="3.4" text-anchor="middle" fill="#333" stroke="#333" stroke-width="0.14">64</text>
<text x="237.5" y="118.2" font-size="6.7" text-anchor="middle" fill="#222" stroke="#222" stroke-width="0.27">Fold change</text>
<text x="182.4" y="64" font-size="8.7" text-anchor="middle" fill="#222" transform="rotate(-90 182.4 64)" stroke="#222" stroke-width="0.35">-log<tspan font-size="6.2" dy="1.8">10</tspan><tspan dy="-1.8">(FDR </tspan><tspan font-style="italic">P</tspan> value)</text>
<text x="298.0" y="10.2" font-size="12.4" text-anchor="start" fill="#000" font-weight="bold">C</text>
<rect x="320.3" y="25.4" width="52.5" height="32.9" fill="#fff" stroke="#c8c8c8" stroke-width="0.5"/>
<line x1="320.3" y1="58.3" x2="321.8" y2="58.3" stroke="#999" stroke-width="0.35"/>
<line x1="320.3" y1="52.31818181818181" x2="321.8" y2="52.31818181818181" stroke="#999" stroke-width="0.35"/>
<line x1="320.3" y1="46.336363636363636" x2="321.8" y2="46.336363636363636" stroke="#999" stroke-width="0.35"/>
<line x1="320.3" y1="40.35454545454546" x2="321.8" y2="40.35454545454546" stroke="#999" stroke-width="0.35"/>
<line x1="320.3" y1="34.372727272727275" x2="321.8" y2="34.372727272727275" stroke="#999" stroke-width="0.35"/>
<line x1="320.3" y1="28.390909090909087" x2="321.8" y2="28.390909090909087" stroke="#999" stroke-width="0.35"/>
<line x1="326" y1="58.3" x2="326" y2="59.3" stroke="#999" stroke-width="0.35"/>
<text x="326" y="61.3" font-size="2.2" text-anchor="middle" fill="#888" stroke="#888" stroke-width="0.09">10</text>
<line x1="333" y1="58.3" x2="333" y2="59.3" stroke="#999" stroke-width="0.35"/>
<text x="333" y="61.3" font-size="2.2" text-anchor="middle" fill="#888" stroke="#888" stroke-width="0.09">10</text>
<line x1="342" y1="58.3" x2="342" y2="59.3" stroke="#999" stroke-width="0.35"/>
<text x="342" y="61.3" font-size="2.2" text-anchor="middle" fill="#888" stroke="#888" stroke-width="0.09">10</text>
<line x1="356" y1="58.3" x2="356" y2="59.3" stroke="#999" stroke-width="0.35"/>
<text x="356" y="61.3" font-size="2.2" text-anchor="middle" fill="#888" stroke="#888" stroke-width="0.09">10</text>
<line x1="367" y1="58.3" x2="367" y2="59.3" stroke="#999" stroke-width="0.35"/>
<text x="367" y="61.3" font-size="2.2" text-anchor="middle" fill="#888" stroke="#888" stroke-width="0.09">10</text>
<rect x="320.3" y="67" width="52.5" height="29.5" fill="#fff" stroke="#c8c8c8" stroke-width="0.5"/>
<line x1="320.3" y1="96.5" x2="321.8" y2="96.5" stroke="#999" stroke-width="0.35"/>
<line x1="320.3" y1="91.13636363636364" x2="321.8" y2="91.13636363636364" stroke="#999" stroke-width="0.35"/>
<line x1="320.3" y1="85.77272727272728" x2="321.8" y2="85.77272727272728" stroke="#999" stroke-width="0.35"/>
<line x1="320.3" y1="80.4090909090909" x2="321.8" y2="80.4090909090909" stroke="#999" stroke-width="0.35"/>
<line x1="320.3" y1="75.04545454545455" x2="321.8" y2="75.04545454545455" stroke="#999" stroke-width="0.35"/>
<line x1="320.3" y1="69.68181818181819" x2="321.8" y2="69.68181818181819" stroke="#999" stroke-width="0.35"/>
<line x1="326" y1="96.5" x2="326" y2="97.5" stroke="#999" stroke-width="0.35"/>
<text x="326" y="99.5" font-size="2.2" text-anchor="middle" fill="#888" stroke="#888" stroke-width="0.09">10</text>
<line x1="333" y1="96.5" x2="333" y2="97.5" stroke="#999" stroke-width="0.35"/>
<text x="333" y="99.5" font-size="2.2" text-anchor="middle" fill="#888" stroke="#888" stroke-width="0.09">10</text>
<line x1="342" y1="96.5" x2="342" y2="97.5" stroke="#999" stroke-width="0.35"/>
<text x="342" y="99.5" font-size="2.2" text-anchor="middle" fill="#888" stroke="#888" stroke-width="0.09">10</text>
<line x1="356" y1="96.5" x2="356" y2="97.5" stroke="#999" stroke-width="0.35"/>
<text x="356" y="99.5" font-size="2.2" text-anchor="middle" fill="#888" stroke="#888" stroke-width="0.09">10</text>
<line x1="367" y1="96.5" x2="367" y2="97.5" stroke="#999" stroke-width="0.35"/>
<text x="367" y="99.5" font-size="2.2" text-anchor="middle" fill="#888" stroke="#888" stroke-width="0.09">10</text>
<path d="M320.6,58.3 L320.6,58.3 L321.2,58.3 L321.9,58.3 L322.5,58.3 L323.2,58.3 L323.8,58.3 L324.5,58.3 L325.1,58.3 L325.8,58.2 L326.4,58.2 L327.1,58.2 L327.7,58.2 L328.4,58.1 L329.0,58.0 L329.7,57.9 L330.3,57.8 L331.0,57.6 L331.6,57.5 L332.3,57.2 L332.9,57.0 L333.6,56.7 L334.2,56.4 L334.9,56.0 L335.5,55.8 L336.2,55.4 L336.8,55.2 L337.5,54.8 L338.1,54.6 L338.8,54.4 L339.4,54.3 L340.1,54.1 L340.7,54.1 L341.4,54.0 L342.0,54.0 L342.7,53.9 L343.3,53.8 L344.0,53.6 L344.6,53.6 L345.3,53.4 L345.9,53.2 L346.6,53.1 L347.2,53.2 L347.8,53.2 L348.5,53.0 L349.1,53.1 L349.8,53.1 L350.4,53.2 L351.1,53.5 L351.7,53.5 L352.4,53.8 L353.0,54.1 L353.7,54.3 L354.3,54.6 L355.0,54.8 L355.6,54.9 L356.3,55.3 L356.9,55.5 L357.6,55.8 L358.2,56.1 L358.9,56.2 L359.5,56.5 L360.2,56.7 L360.8,56.9 L361.5,57.0 L362.1,57.2 L362.8,57.4 L363.4,57.5 L364.1,57.6 L364.7,57.7 L365.4,57.8 L366.0,57.9 L366.7,58.0 L367.3,58.0 L368.0,58.1 L368.6,58.1 L369.3,58.1 L369.9,58.2 L370.6,58.2 L371.2,58.2 L371.9,58.2 L372.5,58.3 L372.5,58.3 Z" fill="#92b4ec" stroke="none" stroke-width="0.6" fill-opacity="0.9"/>
<path d="M329.0,58.0 L329.7,57.9 L330.3,57.8 L331.0,57.6 L331.6,57.5 L332.3,57.2 L332.9,57.0 L333.6,56.7 L334.2,56.4 L334.9,56.0 L335.5,55.8 L336.2,55.4 L336.8,55.2 L337.5,54.8 L338.1,54.6 L338.8,54.4 L339.4,54.3 L340.1,54.1 L340.7,54.1 L341.4,54.0 L342.0,54.0 L342.7,53.9 L343.3,53.8 L344.0,53.6 L344.6,53.6 L345.3,53.4 L345.9,53.2 L346.6,53.1 L347.2,53.2 L347.8,53.2 L348.5,53.0 L349.1,53.1 L349.8,53.1 L350.4,53.2 L351.1,53.5 L351.7,53.5 L352.4,53.8 L353.0,54.1 L353.7,54.3 L354.3,54.6 L355.0,54.8 L355.6,54.9 L356.3,55.3 L356.9,55.5 L357.6,55.8 L358.2,56.1 L358.9,56.2 L359.5,56.5 L360.2,56.7 L360.8,56.9 L361.5,57.0 L362.1,57.2 L362.8,57.4 L363.4,57.5 L364.1,57.6 L364.7,57.7 L365.4,57.8 L366.0,57.9 L366.7,58.0 L367.3,58.0" fill="none" stroke="#6a90d8" stroke-width="0.4" stroke-linejoin="round"/>
<path d="M320.6,58.3 L320.6,58.3 L320.9,58.3 L321.2,58.3 L321.6,58.3 L321.9,58.3 L322.2,58.3 L322.5,58.3 L322.9,58.3 L323.2,58.3 L323.5,58.3 L323.8,58.3 L324.2,58.3 L324.5,58.3 L324.8,58.3 L325.1,58.3 L325.5,58.3 L325.8,58.3 L326.1,58.3 L326.4,58.3 L326.8,58.3 L327.1,58.3 L327.4,58.3 L327.7,58.3 L328.1,58.3 L328.4,58.3 L328.7,58.3 L329.0,58.3 L329.4,58.2 L329.7,58.1 L330.0,57.9 L330.3,57.4 L330.7,56.2 L331.0,54.0 L331.3,50.0 L331.6,44.6 L332.0,37.8 L332.3,31.7 L332.6,27.3 L332.9,26.5 L333.3,26.5 L333.6,28.6 L333.9,31.3 L334.2,34.6 L334.5,38.5 L334.9,41.9 L335.2,45.4 L335.5,48.2 L335.8,50.3 L336.2,52.0 L336.5,53.2 L336.8,54.2 L337.1,54.8 L337.5,55.2 L337.8,55.5 L338.1,55.7 L338.4,55.9 L338.8,56.0 L339.1,56.2 L339.4,56.3 L339.7,56.4 L340.1,56.5 L340.4,56.6 L340.7,56.7 L341.0,56.9 L341.4,57.0 L341.7,57.1 L342.0,57.2 L342.3,57.3 L342.7,57.4 L343.0,57.5 L343.3,57.5 L343.6,57.6 L344.0,57.7 L344.3,57.8 L344.6,57.8 L344.9,57.9 L345.3,57.9 L345.6,58.0 L345.9,58.0 L346.2,58.1 L346.6,58.1 L346.9,58.1 L347.2,58.1 L347.5,58.2 L347.8,58.2 L348.2,58.2 L348.5,58.2 L348.8,58.2 L349.1,58.2 L349.5,58.3 L349.8,58.3 L350.1,58.3 L350.4,58.3 L350.8,58.3 L351.1,58.3 L351.4,58.3 L351.7,58.3 L352.1,58.3 L352.4,58.3 L352.7,58.3 L353.0,58.3 L353.4,58.3 L353.7,58.3 L354.0,58.3 L354.3,58.3 L354.7,58.3 L355.0,58.3 L355.3,58.3 L355.6,58.3 L356.0,58.3 L356.3,58.3 L356.6,58.3 L356.9,58.3 L357.3,58.3 L357.6,58.3 L357.9,58.3 L358.2,58.3 L358.6,58.3 L358.9,58.3 L359.2,58.3 L359.5,58.3 L359.8,58.3 L360.2,58.3 L360.5,58.3 L360.8,58.3 L361.1,58.3 L361.5,58.3 L361.8,58.3 L362.1,58.3 L362.4,58.3 L362.8,58.3 L363.1,58.3 L363.4,58.3 L363.7,58.3 L364.1,58.3 L364.4,58.3 L364.7,58.3 L365.0,58.3 L365.4,58.3 L365.7,58.3 L366.0,58.3 L366.3,58.3 L366.7,58.3 L367.0,58.3 L367.3,58.3 L367.6,58.3 L368.0,58.3 L368.3,58.3 L368.6,58.3 L368.9,58.3 L369.3,58.3 L369.6,58.3 L369.9,58.3 L370.2,58.3 L370.6,58.3 L370.9,58.3 L371.2,58.3 L371.5,58.3 L371.9,58.3 L372.2,58.3 L372.5,58.3 L372.5,58.3 Z" fill="#e86d7a" stroke="none" stroke-width="0.6" fill-opacity="0.9"/>
<path d="M330.0,57.9 L330.3,57.4 L330.7,56.2 L331.0,54.0 L331.3,50.0 L331.6,44.6 L332.0,37.8 L332.3,31.7 L332.6,27.3 L332.9,26.5 L333.3,26.5 L333.6,28.6 L333.9,31.3 L334.2,34.6 L334.5,38.5 L334.9,41.9 L335.2,45.4 L335.5,48.2 L335.8,50.3 L336.2,52.0 L336.5,53.2 L336.8,54.2 L337.1,54.8 L337.5,55.2 L337.8,55.5 L338.1,55.7 L338.4,55.9 L338.8,56.0 L339.1,56.2 L339.4,56.3 L339.7,56.4 L340.1,56.5 L340.4,56.6 L340.7,56.7 L341.0,56.9 L341.4,57.0 L341.7,57.1 L342.0,57.2 L342.3,57.3 L342.7,57.4 L343.0,57.5 L343.3,57.5 L343.6,57.6 L344.0,57.7 L344.3,57.8 L344.6,57.8 L344.9,57.9 L345.3,57.9 L345.6,58.0 L345.9,58.0" fill="none" stroke="#d04858" stroke-width="0.4" stroke-linejoin="round"/>
<path d="M320.6,96.5 L320.6,96.5 L321.2,96.5 L321.9,96.5 L322.5,96.5 L323.2,96.5 L323.8,96.5 L324.5,96.5 L325.1,96.5 L325.8,96.5 L326.4,96.5 L327.1,96.5 L327.7,96.5 L328.4,96.5 L329.0,96.5 L329.7,96.5 L330.3,96.4 L331.0,96.4 L331.6,96.3 L332.3,96.3 L332.9,96.2 L333.6,96.0 L334.2,95.8 L334.9,95.6 L335.5,95.3 L336.2,95.0 L336.8,94.7 L337.5,94.3 L338.1,94.0 L338.8,93.8 L339.4,93.6 L340.1,93.4 L340.7,93.3 L341.4,93.1 L342.0,92.9 L342.7,92.9 L343.3,92.7 L344.0,92.5 L344.6,92.4 L345.3,92.0 L345.9,91.8 L346.6,91.6 L347.2,91.5 L347.8,91.3 L348.5,91.4 L349.1,91.4 L349.8,91.2 L350.4,91.6 L351.1,91.7 L351.7,91.8 L352.4,92.1 L353.0,92.3 L353.7,92.8 L354.3,93.0 L355.0,93.3 L355.6,93.7 L356.3,94.0 L356.9,94.4 L357.6,94.6 L358.2,94.9 L358.9,95.1 L359.5,95.4 L360.2,95.6 L360.8,95.7 L361.5,95.9 L362.1,96.0 L362.8,96.1 L363.4,96.2 L364.1,96.3 L364.7,96.3 L365.4,96.4 L366.0,96.4 L366.7,96.4 L367.3,96.5 L368.0,96.5 L368.6,96.5 L369.3,96.5 L369.9,96.5 L370.6,96.5 L371.2,96.5 L371.9,96.5 L372.5,96.5 L372.5,96.5 Z" fill="#9ee27a" stroke="none" stroke-width="0.6" fill-opacity="0.9"/>
<path d="M332.9,96.2 L333.6,96.0 L334.2,95.8 L334.9,95.6 L335.5,95.3 L336.2,95.0 L336.8,94.7 L337.5,94.3 L338.1,94.0 L338.8,93.8 L339.4,93.6 L340.1,93.4 L340.7,93.3 L341.4,93.1 L342.0,92.9 L342.7,92.9 L343.3,92.7 L344.0,92.5 L344.6,92.4 L345.3,92.0 L345.9,91.8 L346.6,91.6 L347.2,91.5 L347.8,91.3 L348.5,91.4 L349.1,91.4 L349.8,91.2 L350.4,91.6 L351.1,91.7 L351.7,91.8 L352.4,92.1 L353.0,92.3 L353.7,92.8 L354.3,93.0 L355.0,93.3 L355.6,93.7 L356.3,94.0 L356.9,94.4 L357.6,94.6 L358.2,94.9 L358.9,95.1 L359.5,95.4 L360.2,95.6 L360.8,95.7 L361.5,95.9 L362.1,96.0 L362.8,96.1 L363.4,96.2" fill="none" stroke="#6cc04a" stroke-width="0.4" stroke-linejoin="round"/>
<path d="M320.6,96.5 L320.6,96.5 L320.9,96.5 L321.2,96.5 L321.6,96.5 L321.9,96.5 L322.2,96.5 L322.5,96.5 L322.9,96.5 L323.2,96.5 L323.5,96.5 L323.8,96.5 L324.2,96.5 L324.5,96.5 L324.8,96.5 L325.1,96.5 L325.5,96.5 L325.8,96.5 L326.1,96.5 L326.4,96.5 L326.8,96.5 L327.1,96.5 L327.4,96.5 L327.7,96.5 L328.1,96.5 L328.4,96.5 L328.7,96.5 L329.0,96.5 L329.4,96.4 L329.7,96.3 L330.0,96.1 L330.3,95.7 L330.7,94.5 L331.0,92.4 L331.3,88.7 L331.6,83.7 L332.0,77.5 L332.3,71.0 L332.6,67.0 L332.9,65.9 L333.3,66.9 L333.6,68.8 L333.9,71.2 L334.2,74.8 L334.5,77.9 L334.9,81.2 L335.2,84.4 L335.5,86.8 L335.8,88.9 L336.2,90.5 L336.5,91.7 L336.8,92.5 L337.1,93.1 L337.5,93.4 L337.8,93.7 L338.1,93.9 L338.4,94.0 L338.8,94.2 L339.1,94.4 L339.4,94.4 L339.7,94.6 L340.1,94.7 L340.4,94.8 L340.7,94.9 L341.0,95.1 L341.4,95.2 L341.7,95.3 L342.0,95.4 L342.3,95.5 L342.7,95.6 L343.0,95.7 L343.3,95.7 L343.6,95.8 L344.0,95.9 L344.3,96.0 L344.6,96.0 L344.9,96.1 L345.3,96.1 L345.6,96.2 L345.9,96.2 L346.2,96.3 L346.6,96.3 L346.9,96.3 L347.2,96.3 L347.5,96.4 L347.8,96.4 L348.2,96.4 L348.5,96.4 L348.8,96.4 L349.1,96.4 L349.5,96.5 L349.8,96.5 L350.1,96.5 L350.4,96.5 L350.8,96.5 L351.1,96.5 L351.4,96.5 L351.7,96.5 L352.1,96.5 L352.4,96.5 L352.7,96.5 L353.0,96.5 L353.4,96.5 L353.7,96.5 L354.0,96.5 L354.3,96.5 L354.7,96.5 L355.0,96.5 L355.3,96.5 L355.6,96.5 L356.0,96.5 L356.3,96.5 L356.6,96.5 L356.9,96.5 L357.3,96.5 L357.6,96.5 L357.9,96.5 L358.2,96.5 L358.6,96.5 L358.9,96.5 L359.2,96.5 L359.5,96.5 L359.8,96.5 L360.2,96.5 L360.5,96.5 L360.8,96.5 L361.1,96.5 L361.5,96.5 L361.8,96.5 L362.1,96.5 L362.4,96.5 L362.8,96.5 L363.1,96.5 L363.4,96.5 L363.7,96.5 L364.1,96.5 L364.4,96.5 L364.7,96.5 L365.0,96.5 L365.4,96.5 L365.7,96.5 L366.0,96.5 L366.3,96.5 L366.7,96.5 L367.0,96.5 L367.3,96.5 L367.6,96.5 L368.0,96.5 L368.3,96.5 L368.6,96.5 L368.9,96.5 L369.3,96.5 L369.6,96.5 L369.9,96.5 L370.2,96.5 L370.6,96.5 L370.9,96.5 L371.2,96.5 L371.5,96.5 L371.9,96.5 L372.2,96.5 L372.5,96.5 L372.5,96.5 Z" fill="#e86d7a" stroke="none" stroke-width="0.6" fill-opacity="0.85"/>
<path d="M330.0,96.1 L330.3,95.7 L330.7,94.5 L331.0,92.4 L331.3,88.7 L331.6,83.7 L332.0,77.5 L332.3,71.0 L332.6,67.0 L332.9,65.9 L333.3,66.9 L333.6,68.8 L333.9,71.2 L334.2,74.8 L334.5,77.9 L334.9,81.2 L335.2,84.4 L335.5,86.8 L335.8,88.9 L336.2,90.5 L336.5,91.7 L336.8,92.5 L337.1,93.1 L337.5,93.4 L337.8,93.7 L338.1,93.9 L338.4,94.0 L338.8,94.2 L339.1,94.4 L339.4,94.4 L339.7,94.6 L340.1,94.7 L340.4,94.8 L340.7,94.9 L341.0,95.1 L341.4,95.2 L341.7,95.3 L342.0,95.4 L342.3,95.5 L342.7,95.6 L343.0,95.7 L343.3,95.7 L343.6,95.8 L344.0,95.9 L344.3,96.0 L344.6,96.0 L344.9,96.1 L345.3,96.1 L345.6,96.2 L345.9,96.2" fill="none" stroke="#d04858" stroke-width="0.4" stroke-linejoin="round"/>
<text x="345.8" y="36.3" font-size="7" text-anchor="middle" fill="#c8383e" stroke="#c8383e" stroke-width="0.28">ICBR</text>
<text x="349.5" y="50.3" font-size="7" text-anchor="middle" fill="#4a6ec4" stroke="#4a6ec4" stroke-width="0.28">6239</text>
<text x="356.8" y="77.1" font-size="7" text-anchor="middle" fill="#d85a32" stroke="#d85a32" stroke-width="0.28">ICBR + DMSO</text>
<text x="355.2" y="89.2" font-size="7" text-anchor="middle" fill="#3e8c3e" stroke="#3e8c3e" stroke-width="0.28">ICBR + Vo</text>
<line x1="312.2" y1="26" x2="312.2" y2="103.4" stroke="#222" stroke-width="0.7"/>
<line x1="312.2" y1="103.4" x2="371.5" y2="103.4" stroke="#222" stroke-width="0.7"/>
<path d="M310.59999999999997,26.8 L312.2,23.2 L313.8,26.8 Z" fill="#000" stroke="none" stroke-width="0.6"/>
<path d="M371.0,101.80000000000001 L374.6,103.4 L371.0,105.0 Z" fill="#000" stroke="none" stroke-width="0.6"/>
<text x="309.6" y="66.7" font-size="6.8" text-anchor="middle" fill="#111" transform="rotate(-90 309.6 66.7)" stroke="#111" stroke-width="0.27">Count</text>
<text x="345.6" y="112.5" font-size="6.8" text-anchor="middle" fill="#111" stroke="#111" stroke-width="0.27">H2-K<tspan font-size="4.7" dy="-2.3">b</tspan><tspan dy="2.3">-APC</tspan></text>
<text x="391.59999999999997" y="10.0" font-size="12.4" text-anchor="start" fill="#000" font-weight="bold">D</text>
<text x="458" y="32" font-size="6.2" text-anchor="middle" fill="#111" stroke="#111" stroke-width="0.25"><tspan font-style="italic">H2-K1</tspan> ChIP-qPCR</text>
<line x1="425.4" y1="39.2" x2="425.4" y2="63.2" stroke="#222" stroke-width="0.7"/>
<line x1="425.4" y1="66.6" x2="425.4" y2="92" stroke="#222" stroke-width="0.7"/>
<line x1="423.9" y1="63.8" x2="426.9" y2="62.4" stroke="#222" stroke-width="0.6"/>
<line x1="423.9" y1="67.2" x2="426.9" y2="65.8" stroke="#222" stroke-width="0.6"/>
<line x1="423.79999999999995" y1="39.2" x2="425.4" y2="39.2" stroke="#222" stroke-width="0.6"/>
<text x="423.2" y="41.0" font-size="5.2" text-anchor="end" fill="#222" stroke="#222" stroke-width="0.21">600</text>
<line x1="423.79999999999995" y1="47.2" x2="425.4" y2="47.2" stroke="#222" stroke-width="0.6"/>
<text x="423.2" y="49.0" font-size="5.2" text-anchor="end" fill="#222" stroke="#222" stroke-width="0.21">500</text>
<line x1="423.79999999999995" y1="55.4" x2="425.4" y2="55.4" stroke="#222" stroke-width="0.6"/>
<text x="423.2" y="57.199999999999996" font-size="5.2" text-anchor="end" fill="#222" stroke="#222" stroke-width="0.21">400</text>
<line x1="423.79999999999995" y1="67.4" x2="425.4" y2="67.4" stroke="#222" stroke-width="0.6"/>
<text x="423.2" y="69.2" font-size="5.2" text-anchor="end" fill="#222" stroke="#222" stroke-width="0.21">100</text>
<line x1="423.79999999999995" y1="71.8" x2="425.4" y2="71.8" stroke="#222" stroke-width="0.6"/>
<text x="423.2" y="73.6" font-size="5.2" text-anchor="end" fill="#222" stroke="#222" stroke-width="0.21">80</text>
<line x1="423.79999999999995" y1="76.9" x2="425.4" y2="76.9" stroke="#222" stroke-width="0.6"/>
<text x="423.2" y="78.7" font-size="5.2" text-anchor="end" fill="#222" stroke="#222" stroke-width="0.21">60</text>
<line x1="423.79999999999995" y1="82" x2="425.4" y2="82" stroke="#222" stroke-width="0.6"/>
<text x="423.2" y="83.8" font-size="5.2" text-anchor="end" fill="#222" stroke="#222" stroke-width="0.21">40</text>
<line x1="423.79999999999995" y1="86.9" x2="425.4" y2="86.9" stroke="#222" stroke-width="0.6"/>
<text x="423.2" y="88.7" font-size="5.2" text-anchor="end" fill="#222" stroke="#222" stroke-width="0.21">20</text>
<line x1="423.79999999999995" y1="92" x2="425.4" y2="92" stroke="#222" stroke-width="0.6"/>
<text x="423.2" y="93.8" font-size="5.2" text-anchor="end" fill="#222" stroke="#222" stroke-width="0.21">0</text>
<line x1="425.4" y1="92" x2="491" y2="92" stroke="#222" stroke-width="0.7"/>
<line x1="431" y1="92" x2="431" y2="93.6" stroke="#222" stroke-width="0.5"/>
<line x1="444" y1="92" x2="444" y2="93.6" stroke="#222" stroke-width="0.5"/>
<line x1="458" y1="92" x2="458" y2="93.6" stroke="#222" stroke-width="0.5"/>
<line x1="471.5" y1="92" x2="471.5" y2="93.6" stroke="#222" stroke-width="0.5"/>
<line x1="484.5" y1="92" x2="484.5" y2="93.6" stroke="#222" stroke-width="0.5"/>
<text x="402.3" y="65.7" font-size="5.8" text-anchor="middle" fill="#111" transform="rotate(-90 402.3 65.7)" stroke="#111" stroke-width="0.23">Fold enrichment</text>
<text x="408.8" y="65.7" font-size="5.8" text-anchor="middle" fill="#111" transform="rotate(-90 408.8 65.7)" stroke="#111" stroke-width="0.23">(normalized to IgG)</text>
<circle cx="433.1" cy="41.1" r="1.3" fill="#2a30d8"/>
<rect x="431.9" y="47" width="2.4" height="2.4" fill="#d83040"/>
<text x="436.4" y="43.2" font-size="6" text-anchor="start" fill="#222" stroke="#222" stroke-width="0.24">DMSO</text>
<text x="436.4" y="50.3" font-size="6" text-anchor="start" fill="#222" stroke="#222" stroke-width="0.24">Vorinostat</text>
<circle cx="428.2" cy="89.3" r="1.25" fill="#2a30d8"/>
<circle cx="428.8" cy="88.9" r="1.25" fill="#2a30d8"/>
<circle cx="429.2" cy="89.6" r="1.25" fill="#2a30d8"/>
<rect x="432.25" y="87.55" width="2.5" height="2.5" fill="#d83040"/>
<rect x="432.95" y="86.95" width="2.5" height="2.5" fill="#d83040"/>
<rect x="433.55" y="87.65" width="2.5" height="2.5" fill="#d83040"/>
<circle cx="441.2" cy="89.2" r="1.25" fill="#2a30d8"/>
<circle cx="441.8" cy="88.8" r="1.25" fill="#2a30d8"/>
<circle cx="442.4" cy="89.3" r="1.25" fill="#2a30d8"/>
<rect x="445.25" y="86.95" width="2.5" height="2.5" fill="#d83040"/>
<rect x="445.95" y="86.15" width="2.5" height="2.5" fill="#d83040"/>
<rect x="446.25" y="87.35" width="2.5" height="2.5" fill="#d83040"/>
<circle cx="455.0" cy="88.4" r="1.25" fill="#2a30d8"/>
<circle cx="455.6" cy="88.0" r="1.25" fill="#2a30d8"/>
<circle cx="456.2" cy="88.6" r="1.25" fill="#2a30d8"/>
<rect x="458.8" y="81.3" width="3.2" height="10.7" fill="#fff" stroke="#f09898" stroke-width="0.45"/>
<rect x="458.90000000000003" y="67.19999999999999" width="2.8" height="2.8" fill="#d83040"/>
<rect x="458.90000000000003" y="74.39999999999999" width="2.8" height="2.8" fill="#d83040"/>
<rect x="458.90000000000003" y="79.8" width="2.8" height="2.8" fill="#d83040"/>
<line x1="460.3" y1="67" x2="460.3" y2="74" stroke="#d83030" stroke-width="0.4"/>
<circle cx="468.6" cy="90.3" r="1.25" fill="#2a30d8"/>
<circle cx="469.2" cy="89.8" r="1.25" fill="#2a30d8"/>
<circle cx="469.8" cy="90.4" r="1.25" fill="#2a30d8"/>
<rect x="472.3" y="81.3" width="3.2" height="10.7" fill="#fff" stroke="#f09898" stroke-width="0.45"/>
<rect x="472.09999999999997" y="79.7" width="2.6" height="2.6" fill="#d83040"/>
<rect x="472.9" y="79.3" width="2.6" height="2.6" fill="#d83040"/>
<rect x="472.5" y="80.5" width="2.6" height="2.6" fill="#d83040"/>
<rect x="480.2" y="82.3" width="3.2" height="9.7" fill="#fff" stroke="#9898f0" stroke-width="0.45"/>
<circle cx="481.4" cy="80.6" r="1.3" fill="#2a30d8"/>
<circle cx="482.2" cy="82.4" r="1.3" fill="#2a30d8"/>
<circle cx="481.6" cy="84.2" r="1.3" fill="#2a30d8"/>
<circle cx="482.6" cy="81.4" r="1.3" fill="#2a30d8"/>
<rect x="485.3" y="49.2" width="3.2" height="42.8" fill="#fff" stroke="#f09898" stroke-width="0.45"/>
<rect x="485.2" y="47.7" width="2.6" height="2.6" fill="#d83040"/>
<rect x="486.0" y="47.5" width="2.6" height="2.6" fill="#d83040"/>
<rect x="485.59999999999997" y="48.300000000000004" width="2.6" height="2.6" fill="#d83040"/>
<text x="459.2" y="66.1" font-size="7.7" text-anchor="middle" fill="#111" font-weight="bold">*</text>
<line x1="456.6" y1="65.2" x2="462" y2="65.2" stroke="#333" stroke-width="0.5"/>
<text x="472.2" y="76.1" font-size="7.7" text-anchor="middle" fill="#111" font-weight="bold">****</text>
<line x1="468.5" y1="75.4" x2="475.5" y2="75.4" stroke="#333" stroke-width="0.5"/>
<text x="485.6" y="44.9" font-size="7.7" text-anchor="middle" fill="#111" font-weight="bold">****</text>
<line x1="482.3" y1="44.3" x2="489.2" y2="44.3" stroke="#333" stroke-width="0.5"/>
<text x="433.8" y="97.5" font-size="6.4" text-anchor="end" fill="#222" transform="rotate(-45 433.8 97.5)" stroke="#222" stroke-width="0.26">188–288</text>
<text x="446.5" y="97.5" font-size="6.4" text-anchor="end" fill="#222" transform="rotate(-45 446.5 97.5)" stroke="#222" stroke-width="0.26">432–580</text>
<text x="458.5" y="97.5" font-size="6.4" text-anchor="end" fill="#222" transform="rotate(-45 458.5 97.5)" stroke="#222" stroke-width="0.26">1052–1136</text>
<text x="472" y="97.5" font-size="6.4" text-anchor="end" fill="#222" transform="rotate(-45 472 97.5)" stroke="#222" stroke-width="0.26">2021–2153</text>
<text x="486" y="97.5" font-size="6.4" text-anchor="end" fill="#222" transform="rotate(-45 486 97.5)" stroke="#222" stroke-width="0.26">3327–3434</text>
<text x="1.5999999999999999" y="159.0" font-size="12.4" text-anchor="start" fill="#000" font-weight="bold">E</text>
<text x="72.5" y="164.6" font-size="6.2" text-anchor="middle" fill="#111" stroke="#111" stroke-width="0.25">KEGG pathways</text>
<line x1="101.6" y1="167.5" x2="101.6" y2="252.7" stroke="#222" stroke-width="0.6"/>
<line x1="98.8" y1="171.9" x2="101.6" y2="171.9" stroke="#222" stroke-width="0.5"/>
<text x="97.9" y="173.9" font-size="5.75" text-anchor="end" fill="#111" stroke="#111" stroke-width="0.23">TNF signaling pathway</text>
<rect x="101.6" y="169.9" width="4.8295" height="4" fill="#f6c98c" stroke="#e8a24a" stroke-width="0.35"/>
<text x="123.9" y="173.65" font-size="5.1" text-anchor="start" fill="#222" stroke="#222" stroke-width="0.20">9.7E−06</text>
<line x1="98.8" y1="177.85" x2="101.6" y2="177.85" stroke="#222" stroke-width="0.5"/>
<text x="97.9" y="179.85" font-size="5.75" text-anchor="end" fill="#111" stroke="#111" stroke-width="0.23">Rheumatoid arthritis</text>
<rect x="101.6" y="175.85" width="4.458" height="4" fill="#f6c98c" stroke="#e8a24a" stroke-width="0.35"/>
<text x="123.9" y="179.6" font-size="5.1" text-anchor="start" fill="#222" stroke="#222" stroke-width="0.20">1.3E−04</text>
<line x1="98.8" y1="183.8" x2="101.6" y2="183.8" stroke="#222" stroke-width="0.5"/>
<text x="97.9" y="185.8" font-size="5.75" text-anchor="end" fill="#111" stroke="#111" stroke-width="0.23">IL17 signaling pathway</text>
<rect x="101.6" y="181.8" width="4.458" height="4" fill="#f6c98c" stroke="#e8a24a" stroke-width="0.35"/>
<text x="123.9" y="185.55" font-size="5.1" text-anchor="start" fill="#222" stroke="#222" stroke-width="0.20">1.3E−04</text>
<line x1="98.8" y1="189.75" x2="101.6" y2="189.75" stroke="#222" stroke-width="0.5"/>
<text x="97.9" y="191.75" font-size="5.75" text-anchor="end" fill="#111" stroke="#111" stroke-width="0.23">Viral protein interaction</text>
<rect x="101.6" y="187.75" width="3.8636" height="4" fill="#f6c98c" stroke="#e8a24a" stroke-width="0.35"/>
<text x="123.9" y="191.5" font-size="5.1" text-anchor="start" fill="#222" stroke="#222" stroke-width="0.20">1.1E−03</text>
<line x1="98.8" y1="195.70000000000002" x2="101.6" y2="195.70000000000002" stroke="#222" stroke-width="0.5"/>
<text x="97.9" y="197.70000000000002" font-size="5.75" text-anchor="end" fill="#111" stroke="#111" stroke-width="0.23">Cytokine-cytokine receptor interaction</text>
<rect x="101.6" y="193.70000000000002" width="1.8575" height="4" fill="#f6c98c" stroke="#e8a24a" stroke-width="0.35"/>
<text x="123.9" y="197.45000000000002" font-size="5.1" text-anchor="start" fill="#222" stroke="#222" stroke-width="0.20">6.7E−03</text>
<line x1="98.8" y1="201.65" x2="101.6" y2="201.65" stroke="#222" stroke-width="0.5"/>
<text x="97.9" y="203.65" font-size="5.75" text-anchor="end" fill="#111" stroke="#111" stroke-width="0.23">DNA replication</text>
<rect x="101.6" y="199.5" width="20.061" height="4.3" fill="#5b86ee" stroke="#4a72dc" stroke-width="0.3"/>
<text x="123.9" y="203.4" font-size="5.1" text-anchor="start" fill="#222" stroke="#222" stroke-width="0.20">4.7E−12</text>
<line x1="98.8" y1="207.60000000000002" x2="101.6" y2="207.60000000000002" stroke="#222" stroke-width="0.5"/>
<text x="97.9" y="209.60000000000002" font-size="5.75" text-anchor="end" fill="#111" stroke="#111" stroke-width="0.23">Cell cycle</text>
<rect x="101.6" y="205.45000000000002" width="9.064599999999999" height="4.3" fill="#5b86ee" stroke="#4a72dc" stroke-width="0.3"/>
<text x="123.9" y="209.35000000000002" font-size="5.1" text-anchor="start" fill="#222" stroke="#222" stroke-width="0.20">4.2E−16</text>
<line x1="98.8" y1="213.55" x2="101.6" y2="213.55" stroke="#222" stroke-width="0.5"/>
<text x="97.9" y="215.55" font-size="5.75" text-anchor="end" fill="#111" stroke="#111" stroke-width="0.23">Mismatch repair</text>
<rect x="101.6" y="211.4" width="8.395900000000001" height="4.3" fill="#5b86ee" stroke="#4a72dc" stroke-width="0.3"/>
<text x="123.9" y="215.3" font-size="5.1" text-anchor="start" fill="#222" stroke="#222" stroke-width="0.20">4.6E−03</text>
<line x1="98.8" y1="219.5" x2="101.6" y2="219.5" stroke="#222" stroke-width="0.5"/>
<text x="97.9" y="221.5" font-size="5.75" text-anchor="end" fill="#111" stroke="#111" stroke-width="0.23">Fanconi anemia pathway</text>
<rect x="101.6" y="217.35" width="6.3155" height="4.3" fill="#5b86ee" stroke="#4a72dc" stroke-width="0.3"/>
<text x="123.9" y="221.25" font-size="5.1" text-anchor="start" fill="#222" stroke="#222" stroke-width="0.20">3.5E−04</text>
<line x1="98.8" y1="225.45000000000002" x2="101.6" y2="225.45000000000002" stroke="#222" stroke-width="0.5"/>
<text x="97.9" y="227.45000000000002" font-size="5.75" text-anchor="end" fill="#111" stroke="#111" stroke-width="0.23">Pyrimidine metabolism</text>
<rect x="101.6" y="223.3" width="6.1669" height="4.3" fill="#5b86ee" stroke="#4a72dc" stroke-width="0.3"/>
<text x="123.9" y="227.20000000000002" font-size="5.1" text-anchor="start" fill="#222" stroke="#222" stroke-width="0.20">3.6E−04</text>
<line x1="98.8" y1="231.4" x2="101.6" y2="231.4" stroke="#222" stroke-width="0.5"/>
<text x="97.9" y="233.4" font-size="5.75" text-anchor="end" fill="#111" stroke="#111" stroke-width="0.23">Nucleotide excision repair</text>
<rect x="101.6" y="229.25" width="5.5725" height="4.3" fill="#5b86ee" stroke="#4a72dc" stroke-width="0.3"/>
<text x="123.9" y="233.15" font-size="5.1" text-anchor="start" fill="#222" stroke="#222" stroke-width="0.20">3.5E−03</text>
<line x1="98.8" y1="237.35000000000002" x2="101.6" y2="237.35000000000002" stroke="#222" stroke-width="0.5"/>
<text x="97.9" y="239.35000000000002" font-size="5.75" text-anchor="end" fill="#111" stroke="#111" stroke-width="0.23">Homologous recombination</text>
<rect x="101.6" y="235.20000000000002" width="5.4239" height="4.3" fill="#5b86ee" stroke="#4a72dc" stroke-width="0.3"/>
<text x="123.9" y="239.10000000000002" font-size="5.1" text-anchor="start" fill="#222" stroke="#222" stroke-width="0.20">6.2E−03</text>
<line x1="98.8" y1="243.3" x2="101.6" y2="243.3" stroke="#222" stroke-width="0.5"/>
<text x="97.9" y="245.3" font-size="5.75" text-anchor="end" fill="#111" stroke="#111" stroke-width="0.23">p53 signaling pathway</text>
<rect x="101.6" y="241.15" width="4.458" height="4.3" fill="#5b86ee" stroke="#4a72dc" stroke-width="0.3"/>
<text x="123.9" y="245.05" font-size="5.1" text-anchor="start" fill="#222" stroke="#222" stroke-width="0.20">2.1E−03</text>
<line x1="98.8" y1="249.25" x2="101.6" y2="249.25" stroke="#222" stroke-width="0.5"/>
<text x="97.9" y="251.25" font-size="5.75" text-anchor="end" fill="#111" stroke="#111" stroke-width="0.23">Cellular senescence</text>
<rect x="101.6" y="247.1" width="2.6005" height="4.3" fill="#5b86ee" stroke="#4a72dc" stroke-width="0.3"/>
<text x="123.9" y="251.0" font-size="5.1" text-anchor="start" fill="#222" stroke="#222" stroke-width="0.20">1.1E−03</text>
<text x="123.9" y="167.4" font-size="5.1" text-anchor="start" fill="#222" stroke="#222" stroke-width="0.20">Adj. <tspan font-style="italic">P</tspan>-val</text>
<line x1="101.6" y1="252.7" x2="124.4" y2="252.7" stroke="#222" stroke-width="0.6"/>
<line x1="101.75" y1="252.7" x2="101.75" y2="255.2" stroke="#222" stroke-width="0.5"/>
<text x="101.75" y="262.9" font-size="5.6" text-anchor="middle" fill="#111" stroke="#111" stroke-width="0.22">0</text>
<line x1="108.9" y1="252.7" x2="108.9" y2="255.2" stroke="#222" stroke-width="0.5"/>
<text x="109.4" y="262.9" font-size="5.6" text-anchor="middle" fill="#111" stroke="#111" stroke-width="0.22">10</text>
<line x1="116.4" y1="252.7" x2="116.4" y2="255.2" stroke="#222" stroke-width="0.5"/>
<text x="116.1" y="262.9" font-size="5.6" text-anchor="middle" fill="#111" stroke="#111" stroke-width="0.22">20</text>
<line x1="124.4" y1="252.7" x2="124.4" y2="255.2" stroke="#222" stroke-width="0.5"/>
<text x="123.9" y="262.9" font-size="5.6" text-anchor="middle" fill="#111" stroke="#111" stroke-width="0.22">30</text>
<text x="113.4" y="271.2" font-size="6.3" text-anchor="middle" fill="#111" stroke="#111" stroke-width="0.25">Odds ratio</text>
<path d="M146.5,169.8 H148.3 V197.7 H146.5" fill="none" stroke="#444" stroke-width="0.45"/>
<path d="M146.5,199.7 H148.3 V249.3 H146.5" fill="none" stroke="#444" stroke-width="0.45"/>
<text x="150.8" y="175.2" font-size="6.2" text-anchor="start" fill="#111" stroke="#111" stroke-width="0.25">Enriched</text>
<text x="150.8" y="182.4" font-size="6.2" text-anchor="start" fill="#111" stroke="#111" stroke-width="0.25">by upregulated</text>
<text x="150.8" y="189.4" font-size="6.2" text-anchor="start" fill="#111" stroke="#111" stroke-width="0.25">genes</text>
<text x="150.8" y="214.4" font-size="6.2" text-anchor="start" fill="#111" stroke="#111" stroke-width="0.25">Enriched</text>
<text x="150.8" y="221.9" font-size="6.2" text-anchor="start" fill="#111" stroke="#111" stroke-width="0.25">by downregulated</text>
<text x="150.8" y="228.7" font-size="6.2" text-anchor="start" fill="#111" stroke="#111" stroke-width="0.25">genes</text>
<text x="203.5" y="159.0" font-size="12.4" text-anchor="start" fill="#000" font-weight="bold">F</text>
<text x="224.3" y="170.5" font-size="6.9" text-anchor="start" fill="#4a90e2" stroke="#4a90e2" stroke-width="0.28">ICBR + shScr</text>
<text x="224.3" y="178.2" font-size="6.9" text-anchor="start" fill="#d8383c" stroke="#d8383c" stroke-width="0.28">ICBR + shHdac1</text>
<rect x="225.2" y="182.3" width="55.7" height="54.7" fill="#fff" stroke="#bdbdbd" stroke-width="0.5"/>
<filter id="fb1" x="-50%" y="-50%" width="200%" height="200%"><feGaussianBlur stdDeviation="1.6"/></filter>
<filter id="fb2" x="-50%" y="-50%" width="200%" height="200%"><feGaussianBlur stdDeviation="0.8"/></filter>
<ellipse cx="258" cy="206" rx="20" ry="7" fill="#e8a0a8" fill-opacity="0.35" transform="rotate(-45 258 206)" filter="url(#fb1)"/>
<ellipse cx="246.5" cy="218.5" rx="13.5" ry="5" fill="#a8d8f8" fill-opacity="0.7" transform="rotate(-49 246.5 218.5)" filter="url(#fb1)"/>
<ellipse cx="263.6" cy="199.2" rx="13" ry="4.8" fill="#e87078" fill-opacity="0.6" transform="rotate(-45 263.6 199.2)" filter="url(#fb1)"/>
<ellipse cx="246" cy="219" rx="11" ry="3.6" fill="#62b4ee" transform="rotate(-49 246 219)" filter="url(#fb2)"/>
<ellipse cx="264" cy="199" rx="10.5" ry="3.3" fill="#d8303a" transform="rotate(-45 264 199)" filter="url(#fb2)"/>
<path d="M241.7 224.9h0M250.1 213.0h0M240.5 224.7h0M250.4 217.9h0M239.0 222.3h0M250.4 215.9h0M254.9 212.7h0M245.6 218.6h0M257.4 205.8h0M241.2 220.5h0M247.2 218.3h0M244.9 220.0h0M248.8 218.2h0M251.7 213.6h0M239.7 228.1h0M239.9 225.0h0M240.0 225.5h0M243.4 222.5h0M261.1 202.7h0M248.1 212.5h0M246.3 220.9h0M246.7 219.5h0M245.3 216.5h0M247.7 214.6h0M254.0 208.8h0M249.5 215.2h0M249.8 213.1h0M250.7 213.6h0M253.1 213.4h0M245.9 216.7h0M250.7 215.6h0M253.2 210.1h0M249.8 216.6h0M248.1 217.5h0M246.3 216.7h0M241.4 222.7h0M251.6 218.0h0M252.5 215.4h0M251.1 215.9h0M248.6 218.8h0M253.8 209.6h0M246.6 224.7h0M249.1 218.8h0M248.5 212.6h0M260.1 209.6h0M248.5 218.8h0M245.6 216.6h0M246.6 219.6h0M252.6 214.3h0M248.9 220.2h0M244.4 223.3h0M251.0 212.8h0M237.1 225.7h0M248.4 218.2h0M251.7 209.6h0M247.6 219.5h0M242.0 215.7h0M253.8 218.1h0M249.5 212.3h0M245.0 220.8h0M258.5 207.6h0M249.5 220.3h0M249.1 221.7h0M242.7 221.0h0M252.0 217.2h0M249.9 215.8h0M237.3 226.1h0M242.9 220.6h0M248.6 215.2h0M250.1 214.9h0M245.2 220.3h0M249.8 217.7h0M244.0 220.4h0M243.0 227.4h0M252.6 211.3h0M242.4 218.9h0M247.6 218.0h0M256.6 208.5h0M239.1 218.5h0M253.1 212.1h0M239.7 226.4h0M245.0 231.4h0M252.4 214.0h0M242.3 216.1h0M243.4 216.8h0M245.7 212.5h0M244.4 224.6h0M251.9 208.9h0M241.1 227.1h0M248.7 213.0h0M242.3 220.8h0M240.1 223.1h0M253.2 213.6h0M255.5 208.6h0M244.3 217.7h0M243.8 217.1h0M239.7 228.0h0M254.2 212.9h0M252.8 212.5h0M243.5 222.0h0M243.1 218.6h0M236.6 224.3h0M246.7 218.8h0M246.7 222.9h0M248.2 218.5h0M250.6 211.5h0M239.0 229.0h0M245.6 223.7h0M249.6 218.4h0M246.5 211.7h0M248.6 214.1h0M242.4 221.4h0M251.3 216.2h0M248.3 211.2h0M240.1 217.7h0M247.0 219.9h0M243.5 222.5h0M249.1 218.9h0M241.5 221.2h0M245.9 224.8h0M251.1 213.1h0M247.7 217.6h0M247.1 217.2h0M243.0 218.2h0M246.3 224.0h0M249.0 216.0h0M245.6 219.6h0M247.0 215.9h0M247.8 217.9h0M241.9 220.9h0M240.4 221.7h0M246.6 210.7h0M244.3 218.9h0M243.9 221.6h0M251.6 213.3h0M244.9 218.2h0M247.4 220.5h0M242.9 218.7h0M239.1 222.8h0M242.1 226.8h0M247.7 216.5h0M251.9 210.6h0M251.1 216.1h0M237.1 223.5h0M243.8 224.3h0M250.3 210.5h0M250.5 212.9h0M243.9 219.5h0M242.1 217.3h0M240.1 221.4h0M252.0 219.3h0M258.1 205.0h0M238.2 226.1h0M245.5 225.9h0M247.9 214.7h0M251.5 214.9h0M238.4 225.4h0M245.5 219.7h0M246.5 217.4h0M246.4 216.7h0M245.0 225.0h0M248.8 217.4h0M239.2 225.8h0M248.1 212.7h0M250.7 212.7h0M248.1 216.4h0M249.4 219.3h0M247.2 222.8h0M241.5 220.8h0M247.9 213.5h0M246.3 221.6h0M249.0 210.1h0M251.8 218.9h0M251.4 212.5h0M243.4 220.9h0M241.0 223.6h0M245.4 219.2h0M251.4 212.5h0M241.7 227.0h0M241.0 222.9h0M245.4 218.6h0M241.7 222.9h0M255.2 207.2h0M247.7 220.8h0M251.0 216.1h0M247.2 211.4h0M242.9 222.8h0M250.8 218.1h0M248.2 215.9h0M246.3 218.0h0M248.7 218.3h0M243.7 218.9h0M244.5 224.2h0M253.8 213.9h0M251.6 215.7h0M247.6 219.5h0M241.5 223.2h0M244.4 223.1h0M243.8 221.1h0M250.5 218.6h0M241.5 220.9h0M248.3 213.0h0M247.6 215.5h0M243.1 216.3h0M248.9 214.4h0M245.9 225.9h0M255.3 220.4h0M247.7 216.0h0M249.6 220.4h0M247.1 219.3h0M247.3 214.7h0M246.3 217.1h0M242.4 225.7h0M249.6 215.4h0M239.3 219.8h0M248.5 216.0h0M238.9 226.4h0M239.7 225.7h0M247.7 218.4h0M247.7 217.7h0M240.8 223.3h0M243.9 220.6h0M248.7 218.1h0M249.6 206.9h0M248.0 216.3h0M258.1 209.1h0M239.8 227.0h0M245.8 222.5h0M241.7 223.4h0M245.8 219.0h0M241.0 218.5h0M250.1 217.8h0M244.6 217.3h0M248.3 218.4h0M245.7 219.3h0M250.9 210.1h0M241.0 218.3h0M242.2 220.7h0M241.1 222.0h0M254.2 209.7h0M249.5 222.3h0M243.4 216.2h0M246.8 215.2h0M251.8 208.8h0M241.3 218.8h0M245.3 216.5h0M245.6 218.2h0M245.3 222.8h0M250.7 214.1h0M240.8 221.2h0M251.5 220.8h0M243.2 219.5h0M241.6 220.2h0M241.9 222.8h0M252.9 211.7h0M241.6 218.5h0M247.4 217.4h0M239.3 222.7h0M247.9 220.2h0M249.6 215.8h0M245.6 220.5h0M249.9 221.8h0M240.9 223.3h0M251.7 212.1h0M252.7 211.7h0M246.5 217.3h0M238.8 223.6h0M257.4 208.9h0M250.7 217.1h0M250.7 217.3h0M245.0 219.4h0M250.3 213.3h0M240.2 224.5h0M245.1 222.0h0M241.6 220.3h0M247.5 222.4h0M246.5 219.0h0M247.0 218.9h0M252.9 216.2h0M241.4 228.4h0M246.0 218.0h0M256.9 206.8h0M256.7 210.7h0M242.7 224.1h0M249.6 214.8h0M235.6 229.1h0M243.9 217.7h0M254.2 209.5h0M244.3 219.9h0M241.8 221.1h0M247.4 218.5h0M244.1 220.8h0M241.2 225.9h0M243.5 222.4h0M241.7 222.0h0M245.5 215.7h0M257.4 206.7h0M245.0 217.7h0M255.8 213.0h0M245.6 215.0h0M245.3 221.8h0M242.3 219.2h0M240.0 223.0h0M245.5 217.5h0M251.1 222.6h0M252.7 208.5h0M248.2 217.0h0M247.6 220.7h0M244.5 219.6h0M244.7 220.1h0M253.4 213.6h0M239.8 224.2h0M244.3 223.5h0M248.9 218.8h0M243.2 215.9h0M248.9 216.7h0M246.7 214.1h0M245.8 217.1h0M244.0 222.3h0M246.6 215.5h0M234.9 222.9h0M245.8 222.9h0M242.6 215.4h0M243.4 223.2h0M255.8 212.3h0M248.4 217.1h0M241.1 222.9h0M243.8 218.9h0M246.1 217.6h0M250.3 219.0h0M250.5 215.6h0M243.0 217.4h0M246.9 219.9h0M244.0 225.2h0M245.6 220.6h0M243.0 218.2h0M253.8 206.9h0M249.7 213.3h0M246.4 216.0h0M246.1 221.9h0M253.8 208.0h0M248.1 219.9h0M244.8 222.6h0M244.0 223.1h0M250.4 218.2h0M246.2 215.0h0M247.7 213.7h0M252.3 217.2h0M248.3 214.8h0M252.1 213.1h0" fill="none" stroke="#5aaeea" stroke-width="0.9" stroke-linecap="round" stroke-opacity="0.5"/>
<path d="M258.2 203.8h0M269.6 192.5h0M264.0 198.0h0M256.1 205.4h0M265.8 197.8h0M260.2 196.7h0M270.2 194.8h0M270.2 196.5h0M261.3 200.0h0M267.7 200.0h0M256.5 205.8h0M261.8 202.8h0M269.8 192.4h0M258.8 204.3h0M260.6 198.0h0M267.0 194.5h0M265.0 194.2h0M266.6 192.3h0M265.9 192.0h0M269.3 192.6h0M257.1 205.3h0M264.0 196.2h0M262.3 201.5h0M258.9 195.4h0M262.8 201.4h0M266.7 199.2h0M264.7 205.5h0M267.8 196.0h0M270.0 195.7h0M263.6 197.7h0M268.9 195.3h0M254.4 205.5h0M266.1 197.2h0M266.1 198.7h0M266.9 200.6h0M260.9 200.9h0M266.4 198.7h0M269.4 197.8h0M263.6 202.7h0M264.5 195.5h0M266.4 202.5h0M266.7 195.0h0M252.8 208.1h0M261.1 202.1h0M274.9 190.3h0M264.0 196.3h0M258.7 203.7h0M266.3 205.2h0M261.4 199.8h0M268.9 194.3h0M260.6 206.1h0M260.8 198.4h0M266.1 198.3h0M263.6 201.4h0M266.2 194.3h0M251.9 204.3h0M265.2 201.3h0M270.2 196.7h0M271.9 191.1h0M266.3 192.4h0M267.5 196.6h0M263.0 198.8h0M259.5 203.9h0M268.9 193.1h0M265.3 195.8h0M263.7 196.5h0M265.3 197.1h0M264.5 196.8h0M258.5 203.5h0M270.6 196.8h0M263.8 201.5h0M267.8 196.3h0M257.9 206.0h0M261.6 204.8h0M268.2 196.5h0M254.1 210.6h0M265.2 194.2h0M268.2 195.0h0M262.2 198.8h0M259.1 202.7h0M277.4 186.2h0M264.0 197.2h0M260.6 200.8h0M261.5 204.0h0M264.1 201.4h0M260.4 205.2h0M264.8 200.1h0M262.3 198.2h0M268.5 193.2h0M262.1 198.4h0M264.3 197.6h0M265.7 198.3h0M259.1 199.9h0M267.1 198.5h0M265.3 194.4h0M267.1 197.0h0M265.8 198.4h0M262.9 200.7h0M267.2 194.4h0M257.7 205.0h0M262.2 195.6h0M262.0 202.7h0M263.5 199.8h0M259.9 205.6h0M271.2 191.3h0M259.3 200.5h0M267.9 195.4h0M262.3 204.1h0M268.1 196.6h0M256.4 206.3h0M264.9 194.6h0M270.0 197.1h0M267.4 193.6h0M262.3 203.3h0M270.0 196.5h0M269.0 193.8h0M259.6 198.1h0M270.5 198.9h0M261.4 200.3h0M267.3 196.8h0M257.2 203.8h0M262.2 206.5h0M262.2 203.3h0M274.8 193.5h0M272.4 195.3h0M258.3 203.8h0M260.5 201.7h0M272.7 185.5h0M264.6 194.9h0M271.5 195.2h0M264.8 204.1h0M266.2 200.5h0M264.5 196.9h0M262.2 200.4h0M266.8 196.6h0M273.7 188.7h0M261.0 200.0h0M258.7 200.3h0M261.1 204.5h0M264.0 198.5h0M267.0 199.0h0M267.7 197.5h0M261.3 201.0h0M260.6 202.2h0M260.0 201.9h0M263.0 199.4h0M262.2 199.4h0M269.1 193.0h0M260.0 203.6h0M257.9 202.1h0M262.0 196.3h0M250.7 213.1h0M266.0 192.2h0M261.0 203.6h0M254.3 206.2h0M258.6 203.8h0M256.9 208.6h0M263.8 200.0h0M259.6 197.4h0M261.5 197.7h0M262.8 197.8h0M262.4 200.0h0M268.4 196.8h0M259.7 203.2h0M270.9 193.5h0M260.7 201.9h0M263.9 201.8h0M264.7 199.4h0M271.4 187.7h0M257.2 200.9h0M258.5 207.0h0M267.5 200.1h0M254.4 206.1h0M271.6 194.3h0M269.0 196.5h0M264.1 198.8h0M265.3 200.1h0M263.8 200.1h0M268.6 191.2h0M261.6 203.0h0M262.7 199.9h0M273.5 190.7h0M263.8 202.3h0M273.1 186.7h0M261.3 202.0h0M264.4 204.8h0M265.7 196.2h0M265.0 195.8h0M261.6 201.7h0M270.9 185.7h0M267.7 199.1h0M269.9 198.6h0M266.1 197.3h0M262.2 198.3h0M269.3 190.4h0M262.7 198.8h0M257.5 199.2h0M262.6 200.8h0M265.8 199.6h0M262.4 198.8h0M266.2 198.6h0M258.0 200.7h0M261.1 204.8h0M267.0 193.5h0M265.7 199.7h0M268.7 192.4h0M265.0 202.0h0M276.4 190.9h0M259.8 204.5h0M262.6 200.2h0M260.5 201.1h0M266.5 201.6h0M267.6 196.6h0M263.1 197.8h0M264.8 201.7h0M270.3 198.3h0M265.1 197.9h0M257.7 206.4h0M258.8 208.5h0M261.3 201.7h0M257.6 204.0h0M261.6 204.6h0M263.4 196.3h0M255.7 207.1h0M260.4 199.5h0M266.2 196.2h0M263.6 197.7h0M260.9 200.8h0M258.1 206.7h0M263.3 194.9h0M266.1 200.2h0M266.8 199.8h0M262.9 200.1h0M257.2 203.2h0M255.0 205.5h0M265.8 198.7h0M269.1 194.2h0M260.4 203.8h0M265.9 202.1h0M273.7 192.0h0M258.4 203.1h0M263.8 197.2h0M267.2 197.7h0M267.9 195.8h0M259.1 201.6h0M265.4 201.4h0M272.1 193.7h0M266.5 198.4h0M269.3 197.3h0M265.5 193.2h0M268.6 195.5h0M262.8 201.7h0M265.1 197.7h0M257.0 206.3h0M266.3 196.6h0M257.9 206.4h0M267.3 196.2h0M265.3 196.7h0M261.9 202.5h0M262.8 200.8h0M278.8 186.2h0M262.3 196.1h0M265.5 199.7h0M260.7 201.7h0M255.2 209.3h0M262.4 202.5h0M269.6 193.0h0M268.5 195.2h0M262.7 199.5h0M262.2 204.4h0M266.3 193.8h0M266.5 194.4h0M259.3 207.1h0M260.2 206.1h0M266.1 199.4h0M267.8 198.5h0M266.3 198.3h0M266.6 199.5h0M263.8 202.1h0M270.3 192.5h0M265.1 196.4h0M263.1 200.6h0M261.3 199.2h0M264.1 199.4h0M266.4 198.6h0M258.5 208.5h0M262.2 198.6h0M263.1 201.2h0M267.2 194.8h0M262.4 196.1h0M264.6 198.1h0M263.4 202.1h0M273.1 192.9h0M262.8 204.5h0M262.5 200.4h0M262.2 202.1h0M266.6 196.9h0M262.9 199.7h0M263.7 202.1h0M261.6 201.0h0" fill="none" stroke="#d02a30" stroke-width="0.9" stroke-linecap="round" stroke-opacity="0.5"/>
<line x1="224.9" y1="186" x2="226.2" y2="186" stroke="#888" stroke-width="0.35"/>
<text x="223.2" y="187" font-size="3" text-anchor="end" fill="#888" stroke="#888" stroke-width="0.12">·</text>
<line x1="224.9" y1="197" x2="226.2" y2="197" stroke="#888" stroke-width="0.35"/>
<text x="223.2" y="198" font-size="3" text-anchor="end" fill="#888" stroke="#888" stroke-width="0.12">·</text>
<line x1="224.9" y1="208" x2="226.2" y2="208" stroke="#888" stroke-width="0.35"/>
<text x="223.2" y="209" font-size="3" text-anchor="end" fill="#888" stroke="#888" stroke-width="0.12">·</text>
<line x1="224.9" y1="219" x2="226.2" y2="219" stroke="#888" stroke-width="0.35"/>
<text x="223.2" y="220" font-size="3" text-anchor="end" fill="#888" stroke="#888" stroke-width="0.12">·</text>
<line x1="224.9" y1="229" x2="226.2" y2="229" stroke="#888" stroke-width="0.35"/>
<text x="223.2" y="230" font-size="3" text-anchor="end" fill="#888" stroke="#888" stroke-width="0.12">·</text>
<line x1="224.9" y1="235" x2="226.2" y2="235" stroke="#888" stroke-width="0.35"/>
<text x="223.2" y="236" font-size="3" text-anchor="end" fill="#888" stroke="#888" stroke-width="0.12">·</text>
<line x1="230" y1="237.8" x2="230" y2="236.6" stroke="#888" stroke-width="0.35"/>
<line x1="238" y1="237.8" x2="238" y2="236.6" stroke="#888" stroke-width="0.35"/>
<line x1="248" y1="237.8" x2="248" y2="236.6" stroke="#888" stroke-width="0.35"/>
<line x1="263" y1="237.8" x2="263" y2="236.6" stroke="#888" stroke-width="0.35"/>
<line x1="276" y1="237.8" x2="276" y2="236.6" stroke="#888" stroke-width="0.35"/>
<line x1="216.3" y1="186" x2="216.3" y2="246.8" stroke="#222" stroke-width="0.7"/>
<line x1="216.3" y1="246.8" x2="277" y2="246.8" stroke="#222" stroke-width="0.7"/>
<path d="M214.70000000000002,187.2 L216.3,183.6 L217.9,187.2 Z" fill="#000" stroke="none" stroke-width="0.6"/>
<path d="M276.7,245.20000000000002 L280.3,246.8 L276.7,248.4 Z" fill="#000" stroke="none" stroke-width="0.6"/>
<path d="M223.6,224.6 h1.4" fill="none" stroke="#111" stroke-width="1"/>
<path d="M237,239 h1.8" fill="none" stroke="#111" stroke-width="1"/>
<text x="213.6" y="211.7" font-size="7" text-anchor="middle" fill="#111" transform="rotate(-90 213.6 211.7)" stroke="#111" stroke-width="0.28">H2-D<tspan font-size="4.8" dy="-2.3">b</tspan><tspan dy="2.3">-PECy7</tspan></text>
<text x="246.8" y="258.5" font-size="6.7" text-anchor="middle" fill="#111" stroke="#111" stroke-width="0.27">H2-K<tspan font-size="4.6" dy="-2.2">b</tspan><tspan dy="2.2">-APC</tspan></text>
<text x="286.2" y="158.9" font-size="12.4" text-anchor="start" fill="#000" font-weight="bold">G</text>
<path d="M328.1,233.6 L338.4,230.6 L349.2,222.8 L360.4,213.0 L370.7,199.3 L381.5,177.8" fill="none" stroke="#111" stroke-width="0.65" stroke-linejoin="round" stroke-opacity="1"/>
<path d="M328.1,235.3 L338.4,231.4 L349.2,223.2 L360.4,214.1 L370.7,207.1 L381.5,194.4" fill="none" stroke="#111" stroke-width="0.65" stroke-linejoin="round" stroke-opacity="1"/>
<path d="M328.1,234.3 L338.4,229.4 L349.2,221.0 L360.4,216.8 L370.7,206.9 L381.5,197.4" fill="none" stroke="#111" stroke-width="0.65" stroke-linejoin="round" stroke-opacity="1"/>
<path d="M328.1,234.7 L338.4,233.3 L349.2,228.6 L360.4,220.6 L370.7,211.8 L381.5,198.3" fill="none" stroke="#111" stroke-width="0.65" stroke-linejoin="round" stroke-opacity="1"/>
<path d="M328.1,234.0 L338.4,229.2 L349.2,219.8 L360.4,216.5 L370.7,209.1 L381.5,201.3" fill="none" stroke="#111" stroke-width="0.65" stroke-linejoin="round" stroke-opacity="1"/>
<path d="M328.1,233.2 L338.4,232.0 L349.2,226.6 L360.4,221.6 L370.7,210.7 L381.5,202.3" fill="none" stroke="#111" stroke-width="0.65" stroke-linejoin="round" stroke-opacity="1"/>
<path d="M328.1,234.9 L338.4,233.7 L349.2,228.6 L360.4,222.5 L370.7,214.2 L381.5,203.2" fill="none" stroke="#111" stroke-width="0.65" stroke-linejoin="round" stroke-opacity="1"/>
<path d="M328.1,234.5 L338.4,230.4 L349.2,224.5 L360.4,218.8 L370.7,210.2 L381.5,205.2" fill="none" stroke="#111" stroke-width="0.65" stroke-linejoin="round" stroke-opacity="1"/>
<path d="M328.1,235.3 L338.4,233.8 L349.2,229.1 L360.4,222.7 L370.7,214.9 L381.5,207.2" fill="none" stroke="#111" stroke-width="0.65" stroke-linejoin="round" stroke-opacity="1"/>
<path d="M328.1,234.6 L338.4,232.3 L349.2,228.0 L360.4,220.8 L370.7,216.9 L381.5,208.1" fill="none" stroke="#111" stroke-width="0.65" stroke-linejoin="round" stroke-opacity="1"/>
<path d="M328.1,233.7 L338.4,232.8 L349.2,228.5 L360.4,224.7 L370.7,216.1 L381.5,209.1" fill="none" stroke="#111" stroke-width="0.65" stroke-linejoin="round" stroke-opacity="1"/>
<path d="M328.1,235.3 L338.4,231.0 L349.2,223.7 L360.4,221.7 L370.7,213.9 L381.5,211.1" fill="none" stroke="#111" stroke-width="0.65" stroke-linejoin="round" stroke-opacity="1"/>
<path d="M328.1,233.3 L338.4,232.7 L349.2,230.0 L360.4,226.4 L370.7,219.2 L381.5,214.0" fill="none" stroke="#111" stroke-width="0.65" stroke-linejoin="round" stroke-opacity="1"/>
<path d="M328.1,235.1 L338.4,234.0 L349.2,230.4 L360.4,227.9 L370.7,219.2 L381.5,215.0" fill="none" stroke="#111" stroke-width="0.65" stroke-linejoin="round" stroke-opacity="1"/>
<path d="M328.1,235.1 L338.4,233.0 L349.2,228.3 L360.4,225.8 L370.7,218.6 L381.5,216.0" fill="none" stroke="#111" stroke-width="0.65" stroke-linejoin="round" stroke-opacity="1"/>
<path d="M328.1,234.2 L338.4,232.2 L349.2,228.9 L360.4,226.2 L370.7,221.8 L381.5,216.9" fill="none" stroke="#111" stroke-width="0.65" stroke-linejoin="round" stroke-opacity="1"/>
<path d="M328.1,233.8 L338.4,233.4 L349.2,231.4 L360.4,227.7 L370.7,222.9 L381.5,217.9" fill="none" stroke="#111" stroke-width="0.65" stroke-linejoin="round" stroke-opacity="1"/>
<path d="M328.1,234.5 L338.4,232.3 L349.2,228.5 L360.4,226.1 L370.7,222.3 L381.5,218.9" fill="none" stroke="#111" stroke-width="0.65" stroke-linejoin="round" stroke-opacity="1"/>
<path d="M328.1,235.2 L338.4,234.8 L349.2,232.9 L360.4,230.3 L370.7,227.4 L381.5,222.8" fill="none" stroke="#111" stroke-width="0.65" stroke-linejoin="round" stroke-opacity="1"/>
<path d="M328.1,233.8 L338.4,233.4 L349.2,231.9 L360.4,230.5 L370.7,227.0 L381.5,223.8" fill="none" stroke="#111" stroke-width="0.65" stroke-linejoin="round" stroke-opacity="1"/>
<line x1="322.9" y1="177.8" x2="322.9" y2="236.5" stroke="#222" stroke-width="0.8"/>
<line x1="322.9" y1="236.5" x2="386.5" y2="236.5" stroke="#222" stroke-width="0.8"/>
<line x1="320.59999999999997" y1="177.8" x2="322.9" y2="177.8" stroke="#222" stroke-width="0.6"/>
<text x="318.5" y="180.20000000000002" font-size="6.7" text-anchor="end" fill="#111" stroke="#111" stroke-width="0.27">3,000</text>
<line x1="320.59999999999997" y1="197.36666666666667" x2="322.9" y2="197.36666666666667" stroke="#222" stroke-width="0.6"/>
<text x="318.5" y="199.76666666666668" font-size="6.7" text-anchor="end" fill="#111" stroke="#111" stroke-width="0.27">2,000</text>
<line x1="320.59999999999997" y1="216.93333333333334" x2="322.9" y2="216.93333333333334" stroke="#222" stroke-width="0.6"/>
<text x="318.5" y="219.33333333333334" font-size="6.7" text-anchor="end" fill="#111" stroke="#111" stroke-width="0.27">1,000</text>
<line x1="320.59999999999997" y1="236.5" x2="322.9" y2="236.5" stroke="#222" stroke-width="0.6"/>
<text x="318.5" y="238.9" font-size="6.7" text-anchor="end" fill="#111" stroke="#111" stroke-width="0.27">0</text>
<line x1="328.1" y1="236.5" x2="328.1" y2="238.0" stroke="#222" stroke-width="0.6"/>
<text x="328.1" y="245.5" font-size="6.6" text-anchor="middle" fill="#111" stroke="#111" stroke-width="0.26">0</text>
<line x1="338.4" y1="236.5" x2="338.4" y2="238.0" stroke="#222" stroke-width="0.6"/>
<text x="338.4" y="245.5" font-size="6.6" text-anchor="middle" fill="#111" stroke="#111" stroke-width="0.26">3</text>
<line x1="349.2" y1="236.5" x2="349.2" y2="238.0" stroke="#222" stroke-width="0.6"/>
<text x="349.2" y="245.5" font-size="6.6" text-anchor="middle" fill="#111" stroke="#111" stroke-width="0.26">7</text>
<line x1="360.4" y1="236.5" x2="360.4" y2="238.0" stroke="#222" stroke-width="0.6"/>
<text x="360.4" y="245.5" font-size="6.6" text-anchor="middle" fill="#111" stroke="#111" stroke-width="0.26">10</text>
<line x1="370.7" y1="236.5" x2="370.7" y2="238.0" stroke="#222" stroke-width="0.6"/>
<text x="370.7" y="245.5" font-size="6.6" text-anchor="middle" fill="#111" stroke="#111" stroke-width="0.26">14</text>
<line x1="381.5" y1="236.5" x2="381.5" y2="238.0" stroke="#222" stroke-width="0.6"/>
<text x="381.5" y="245.5" font-size="6.6" text-anchor="middle" fill="#111" stroke="#111" stroke-width="0.26">17</text>
<text x="354.9" y="172.8" font-size="7.0" text-anchor="middle" fill="#111" stroke="#111" stroke-width="0.28">Vehicle</text>
<text x="335.6" y="187.3" font-size="7.2" text-anchor="middle" fill="#111" stroke="#111" stroke-width="0.29">0</text>
<line x1="329.3" y1="191.70000000000002" x2="341.90000000000003" y2="191.70000000000002" stroke="#333" stroke-width="0.6"/>
<text x="335.6" y="200.0" font-size="7.2" text-anchor="middle" fill="#111" stroke="#111" stroke-width="0.29">20</text>
<text x="296.2" y="208.15" font-size="6.6" text-anchor="middle" fill="#111" transform="rotate(-90 296.2 208.15)" stroke="#111" stroke-width="0.26">Tumor volume (mm<tspan font-size="4.3" dy="-2">3</tspan><tspan dy="2">)</tspan></text>
<text x="309.7" y="255.2" font-size="7.1" text-anchor="start" fill="#111" stroke="#111" stroke-width="0.28">Days since start of treatment</text>
<path d="M441.5,234.8 L452.4,230.7 L463.5,226.2 L474.0,209.7 L484.5,204.8 L494.9,197.9" fill="none" stroke="#86e04a" stroke-width="0.7" stroke-linejoin="round" stroke-opacity="1"/>
<path d="M441.5,235.2 L452.4,231.7 L463.5,226.6 L474.0,214.6 L484.5,204.8 L494.9,198.8" fill="none" stroke="#86e04a" stroke-width="0.7" stroke-linejoin="round" stroke-opacity="1"/>
<path d="M441.5,235.4 L452.4,233.3 L463.5,228.9 L474.0,221.5 L484.5,210.6 L494.9,200.8" fill="none" stroke="#86e04a" stroke-width="0.7" stroke-linejoin="round" stroke-opacity="1"/>
<path d="M441.5,234.4 L452.4,231.3 L463.5,227.4 L474.0,219.5 L484.5,213.6 L494.9,209.7" fill="none" stroke="#86e04a" stroke-width="0.7" stroke-linejoin="round" stroke-opacity="1"/>
<path d="M441.5,235.6 L452.4,234.2 L463.5,230.7 L474.0,223.4 L484.5,216.5 L494.9,211.6" fill="none" stroke="#86e04a" stroke-width="0.7" stroke-linejoin="round" stroke-opacity="1"/>
<path d="M441.5,235.0 L452.4,232.1 L463.5,227.8 L474.0,222.4 L484.5,215.6 L494.9,212.6" fill="none" stroke="#86e04a" stroke-width="0.7" stroke-linejoin="round" stroke-opacity="1"/>
<path d="M441.5,236.0 L452.4,234.2 L463.5,231.7 L474.0,227.4 L484.5,220.5 L494.9,213.6" fill="none" stroke="#86e04a" stroke-width="0.7" stroke-linejoin="round" stroke-opacity="1"/>
<path d="M441.5,235.2 L452.4,233.3 L463.5,230.3 L474.0,225.4 L484.5,219.5 L494.9,216.5" fill="none" stroke="#86e04a" stroke-width="0.7" stroke-linejoin="round" stroke-opacity="1"/>
<path d="M441.5,235.4 L452.4,233.7 L463.5,231.3 L474.0,228.3 L484.5,221.5 L494.9,217.5" fill="none" stroke="#86e04a" stroke-width="0.7" stroke-linejoin="round" stroke-opacity="1"/>
<path d="M441.5,235.8 L452.4,234.4 L463.5,232.3 L474.0,226.4 L484.5,217.5 L494.9,201.8" fill="none" stroke="#86e04a" stroke-width="0.7" stroke-linejoin="round" stroke-opacity="1"/>
<line x1="435.8" y1="178.2" x2="435.8" y2="237.2" stroke="#222" stroke-width="0.8"/>
<line x1="435.8" y1="237.2" x2="499.9" y2="237.2" stroke="#222" stroke-width="0.8"/>
<line x1="433.5" y1="178.2" x2="435.8" y2="178.2" stroke="#222" stroke-width="0.6"/>
<text x="431.40000000000003" y="180.6" font-size="6.7" text-anchor="end" fill="#111" stroke="#111" stroke-width="0.27">3,000</text>
<line x1="433.5" y1="197.86666666666665" x2="435.8" y2="197.86666666666665" stroke="#222" stroke-width="0.6"/>
<text x="431.40000000000003" y="200.26666666666665" font-size="6.7" text-anchor="end" fill="#111" stroke="#111" stroke-width="0.27">2,000</text>
<line x1="433.5" y1="217.53333333333333" x2="435.8" y2="217.53333333333333" stroke="#222" stroke-width="0.6"/>
<text x="431.40000000000003" y="219.93333333333334" font-size="6.7" text-anchor="end" fill="#111" stroke="#111" stroke-width="0.27">1,000</text>
<line x1="433.5" y1="237.2" x2="435.8" y2="237.2" stroke="#222" stroke-width="0.6"/>
<text x="431.40000000000003" y="239.6" font-size="6.7" text-anchor="end" fill="#111" stroke="#111" stroke-width="0.27">0</text>
<line x1="441.5" y1="237.2" x2="441.5" y2="238.7" stroke="#222" stroke-width="0.6"/>
<text x="441.5" y="246.2" font-size="6.6" text-anchor="middle" fill="#111" stroke="#111" stroke-width="0.26">0</text>
<line x1="452.4" y1="237.2" x2="452.4" y2="238.7" stroke="#222" stroke-width="0.6"/>
<text x="452.4" y="246.2" font-size="6.6" text-anchor="middle" fill="#111" stroke="#111" stroke-width="0.26">3</text>
<line x1="463.5" y1="237.2" x2="463.5" y2="238.7" stroke="#222" stroke-width="0.6"/>
<text x="463.5" y="246.2" font-size="6.6" text-anchor="middle" fill="#111" stroke="#111" stroke-width="0.26">7</text>
<line x1="474" y1="237.2" x2="474" y2="238.7" stroke="#222" stroke-width="0.6"/>
<text x="474" y="246.2" font-size="6.6" text-anchor="middle" fill="#111" stroke="#111" stroke-width="0.26">10</text>
<line x1="484.5" y1="237.2" x2="484.5" y2="238.7" stroke="#222" stroke-width="0.6"/>
<text x="484.5" y="246.2" font-size="6.6" text-anchor="middle" fill="#111" stroke="#111" stroke-width="0.26">14</text>
<line x1="494.9" y1="237.2" x2="494.9" y2="238.7" stroke="#222" stroke-width="0.6"/>
<text x="494.9" y="246.2" font-size="6.6" text-anchor="middle" fill="#111" stroke="#111" stroke-width="0.26">17</text>
<text x="468.8" y="174.6" font-size="7.0" text-anchor="middle" fill="#111" stroke="#111" stroke-width="0.28">Vorinostat</text>
<text x="449.5" y="187.7" font-size="7.2" text-anchor="middle" fill="#111" stroke="#111" stroke-width="0.29">0</text>
<line x1="443.2" y1="192.1" x2="455.8" y2="192.1" stroke="#333" stroke-width="0.6"/>
<text x="449.5" y="200.39999999999998" font-size="7.2" text-anchor="middle" fill="#111" stroke="#111" stroke-width="0.29">10</text>
<text x="409.5" y="208.7" font-size="6.6" text-anchor="middle" fill="#111" transform="rotate(-90 409.5 208.7)" stroke="#111" stroke-width="0.26">Tumor volume (mm<tspan font-size="4.3" dy="-2">3</tspan><tspan dy="2">)</tspan></text>
<text x="423.9" y="255.2" font-size="7.1" text-anchor="start" fill="#111" stroke="#111" stroke-width="0.28">Days since start of treatment</text>
<path d="M334.7,348.6 L345.1,347.7 L355.2,346.7 L365.6,342.9 L376.0,330.5 L386.4,315.2" fill="none" stroke="#1c1cc8" stroke-width="0.75" stroke-linejoin="round" stroke-opacity="1"/>
<path d="M334.7,347.7 L345.1,344.8 L355.2,341.9 L365.6,338.1 L376.0,330.5 L386.4,326.7" fill="none" stroke="#1c1cc8" stroke-width="0.75" stroke-linejoin="round" stroke-opacity="1"/>
<path d="M334.7,349.6 L345.1,348.6 L355.2,347.7 L365.6,341.0 L376.0,331.4 L386.4,328.6" fill="none" stroke="#1c1cc8" stroke-width="0.75" stroke-linejoin="round" stroke-opacity="1"/>
<path d="M334.7,350.0 L345.1,349.2 L355.2,348.6 L365.6,343.9 L376.0,336.2 L386.4,331.4" fill="none" stroke="#1c1cc8" stroke-width="0.75" stroke-linejoin="round" stroke-opacity="1"/>
<path d="M334.7,350.5 L345.1,349.6 L355.2,348.6 L365.6,347.7 L376.0,342.9 L386.4,341.9" fill="none" stroke="#1c1cc8" stroke-width="0.75" stroke-linejoin="round" stroke-opacity="1"/>
<path d="M334.7,350.4 L345.1,350.0 L355.2,349.2 L365.6,348.1 L376.0,341.9 L386.4,342.3" fill="none" stroke="#1c1cc8" stroke-width="0.75" stroke-linejoin="round" stroke-opacity="1"/>
<path d="M334.7,349.6 L345.1,348.6 L355.2,346.7 L365.6,344.8 L376.0,338.1 L386.4,334.3" fill="none" stroke="#1c1cc8" stroke-width="0.75" stroke-linejoin="round" stroke-opacity="1"/>
<path d="M334.7,349.8 L345.1,349.0 L355.2,348.1 L365.6,346.7 L376.0,342.9 L386.4,337.2" fill="none" stroke="#1c1cc8" stroke-width="0.75" stroke-linejoin="round" stroke-opacity="1"/>
<path d="M334.7,349.2 L345.1,348.1 L355.2,346.2 L365.6,341.9 L376.0,333.4 L386.4,329.5" fill="none" stroke="#1c1cc8" stroke-width="0.75" stroke-linejoin="round" stroke-opacity="1"/>
<path d="M334.7,350.2 L345.1,349.8 L355.2,348.8 L365.6,347.3 L376.0,342.3 L386.4,341.6" fill="none" stroke="#1c1cc8" stroke-width="0.75" stroke-linejoin="round" stroke-opacity="1"/>
<line x1="330.5" y1="294.2" x2="330.5" y2="351.5" stroke="#222" stroke-width="0.8"/>
<line x1="330.5" y1="351.5" x2="391.4" y2="351.5" stroke="#222" stroke-width="0.8"/>
<line x1="328.2" y1="294.2" x2="330.5" y2="294.2" stroke="#222" stroke-width="0.6"/>
<text x="326.1" y="296.59999999999997" font-size="6.7" text-anchor="end" fill="#111" stroke="#111" stroke-width="0.27">3,000</text>
<line x1="328.2" y1="313.3" x2="330.5" y2="313.3" stroke="#222" stroke-width="0.6"/>
<text x="326.1" y="315.7" font-size="6.7" text-anchor="end" fill="#111" stroke="#111" stroke-width="0.27">2,000</text>
<line x1="328.2" y1="332.4" x2="330.5" y2="332.4" stroke="#222" stroke-width="0.6"/>
<text x="326.1" y="334.79999999999995" font-size="6.7" text-anchor="end" fill="#111" stroke="#111" stroke-width="0.27">1,000</text>
<line x1="328.2" y1="351.5" x2="330.5" y2="351.5" stroke="#222" stroke-width="0.6"/>
<text x="326.1" y="353.9" font-size="6.7" text-anchor="end" fill="#111" stroke="#111" stroke-width="0.27">0</text>
<line x1="334.7" y1="351.5" x2="334.7" y2="353.0" stroke="#222" stroke-width="0.6"/>
<text x="334.7" y="360.5" font-size="6.6" text-anchor="middle" fill="#111" stroke="#111" stroke-width="0.26">0</text>
<line x1="345.1" y1="351.5" x2="345.1" y2="353.0" stroke="#222" stroke-width="0.6"/>
<text x="345.1" y="360.5" font-size="6.6" text-anchor="middle" fill="#111" stroke="#111" stroke-width="0.26">3</text>
<line x1="355.2" y1="351.5" x2="355.2" y2="353.0" stroke="#222" stroke-width="0.6"/>
<text x="355.2" y="360.5" font-size="6.6" text-anchor="middle" fill="#111" stroke="#111" stroke-width="0.26">7</text>
<line x1="365.6" y1="351.5" x2="365.6" y2="353.0" stroke="#222" stroke-width="0.6"/>
<text x="365.6" y="360.5" font-size="6.6" text-anchor="middle" fill="#111" stroke="#111" stroke-width="0.26">10</text>
<line x1="376" y1="351.5" x2="376" y2="353.0" stroke="#222" stroke-width="0.6"/>
<text x="376" y="360.5" font-size="6.6" text-anchor="middle" fill="#111" stroke="#111" stroke-width="0.26">14</text>
<line x1="386.4" y1="351.5" x2="386.4" y2="353.0" stroke="#222" stroke-width="0.6"/>
<text x="386.4" y="360.5" font-size="6.6" text-anchor="middle" fill="#111" stroke="#111" stroke-width="0.26">17</text>
<text x="359.9" y="289.8" font-size="7.0" text-anchor="middle" fill="#111" stroke="#111" stroke-width="0.28">ICB</text>
<text x="345.2" y="303.7" font-size="7.2" text-anchor="middle" fill="#111" stroke="#111" stroke-width="0.29">0</text>
<line x1="338.9" y1="308.09999999999997" x2="351.5" y2="308.09999999999997" stroke="#333" stroke-width="0.6"/>
<text x="345.2" y="316.4" font-size="7.2" text-anchor="middle" fill="#111" stroke="#111" stroke-width="0.29">10</text>
<text x="303" y="323.85" font-size="6.6" text-anchor="middle" fill="#111" transform="rotate(-90 303 323.85)" stroke="#111" stroke-width="0.26">Tumor volume (mm<tspan font-size="4.3" dy="-2">3</tspan><tspan dy="2">)</tspan></text>
<text x="317.9" y="370" font-size="7.1" text-anchor="start" fill="#111" stroke="#111" stroke-width="0.28">Days since start of treatment</text>
<path d="M449.1,348.5 L460.0,344.5 L470.3,345.2 L480.3,345.5 L490.7,345.3 L501.1,345.8 L501.1,350.4 L449.1,350.4 Z" fill="#e02020" stroke="none" stroke-width="0.6"/>
<path d="M449.1,346.6 L460.0,341.3 L470.3,343.2 L480.3,344.7 L490.7,342.8 L501.1,336.2" fill="none" stroke="#e02020" stroke-width="0.6" stroke-linejoin="round" stroke-opacity="1"/>
<path d="M449.1,345.7 L460.0,342.4 L470.3,342.8 L480.3,343.8 L490.7,343.2 L501.1,340.0" fill="none" stroke="#e02020" stroke-width="0.6" stroke-linejoin="round" stroke-opacity="1"/>
<path d="M449.1,347.0 L460.0,341.9 L470.3,344.7 L480.3,343.2 L490.7,343.8 L501.1,340.9" fill="none" stroke="#e02020" stroke-width="0.6" stroke-linejoin="round" stroke-opacity="1"/>
<path d="M449.1,347.4 L460.0,347.2 L470.3,348.1 L480.3,347.4 L490.7,347.4 L501.1,347.5" fill="none" stroke="#e02020" stroke-width="0.6" stroke-linejoin="round" stroke-opacity="1"/>
<path d="M449.1,345.4 L460.0,346.6 L470.3,345.6 L480.3,346.8 L490.7,346.2 L501.1,345.4" fill="none" stroke="#e02020" stroke-width="0.6" stroke-linejoin="round" stroke-opacity="1"/>
<path d="M449.1,346.7 L460.0,344.8 L470.3,345.6 L480.3,345.8 L490.7,347.5 L501.1,345.9" fill="none" stroke="#e02020" stroke-width="0.6" stroke-linejoin="round" stroke-opacity="1"/>
<path d="M449.1,347.7 L460.0,348.0 L470.3,347.4 L480.3,347.7 L490.7,347.5 L501.1,348.2" fill="none" stroke="#e02020" stroke-width="0.6" stroke-linejoin="round" stroke-opacity="1"/>
<path d="M449.1,345.6 L460.0,345.3 L470.3,346.7 L480.3,345.3 L490.7,345.2 L501.1,345.7" fill="none" stroke="#e02020" stroke-width="0.6" stroke-linejoin="round" stroke-opacity="1"/>
<path d="M449.1,343.1 L460.0,344.8 L470.3,344.7 L480.3,346.1 L490.7,343.6 L501.1,343.2" fill="none" stroke="#e02020" stroke-width="0.6" stroke-linejoin="round" stroke-opacity="1"/>
<path d="M449.1,346.5 L460.0,346.5 L470.3,346.5 L480.3,347.7 L490.7,346.3 L501.1,346.8" fill="none" stroke="#e02020" stroke-width="0.6" stroke-linejoin="round" stroke-opacity="1"/>
<path d="M449.1,346.4 L460.0,345.8 L470.3,345.4 L480.3,345.8 L490.7,345.5 L501.1,347.5" fill="none" stroke="#e02020" stroke-width="0.6" stroke-linejoin="round" stroke-opacity="1"/>
<path d="M449.1,348.4 L460.0,348.1 L470.3,348.7 L480.3,348.1 L490.7,348.2 L501.1,349.0" fill="none" stroke="#e02020" stroke-width="0.6" stroke-linejoin="round" stroke-opacity="1"/>
<path d="M449.1,347.6 L460.0,348.0 L470.3,347.8 L480.3,347.4 L490.7,347.7 L501.1,347.7" fill="none" stroke="#e02020" stroke-width="0.6" stroke-linejoin="round" stroke-opacity="1"/>
<path d="M449.1,348.9 L460.0,349.0 L470.3,348.8 L480.3,348.8 L490.7,349.1 L501.1,348.5" fill="none" stroke="#e02020" stroke-width="0.6" stroke-linejoin="round" stroke-opacity="1"/>
<path d="M449.1,349.1 L460.0,349.2 L470.3,349.1 L480.3,349.4 L490.7,348.7 L501.1,349.1" fill="none" stroke="#e02020" stroke-width="0.6" stroke-linejoin="round" stroke-opacity="1"/>
<path d="M449.1,348.8 L460.0,349.3 L470.3,348.8 L480.3,349.0 L490.7,348.8 L501.1,348.4" fill="none" stroke="#e02020" stroke-width="0.6" stroke-linejoin="round" stroke-opacity="1"/>
<path d="M449.1,345.8 L460.0,344.5 L470.3,345.0 L480.3,345.9 L490.7,346.7 L501.1,345.2" fill="none" stroke="#e02020" stroke-width="0.6" stroke-linejoin="round" stroke-opacity="1"/>
<path d="M449.1,345.4 L460.0,345.4 L470.3,346.3 L480.3,347.0 L490.7,345.6 L501.1,347.9" fill="none" stroke="#e02020" stroke-width="0.6" stroke-linejoin="round" stroke-opacity="1"/>
<path d="M449.1,348.5 L460.0,348.4 L470.3,349.0 L480.3,348.4 L490.7,348.1 L501.1,348.7" fill="none" stroke="#e02020" stroke-width="0.6" stroke-linejoin="round" stroke-opacity="1"/>
<path d="M449.1,347.8 L460.0,347.6 L470.3,346.2 L480.3,347.4 L490.7,346.2 L501.1,346.3" fill="none" stroke="#e02020" stroke-width="0.6" stroke-linejoin="round" stroke-opacity="1"/>
<path d="M449.1,347.1 L460.0,345.2 L470.3,346.5 L480.3,346.7 L490.7,346.9 L501.1,345.2" fill="none" stroke="#e02020" stroke-width="0.6" stroke-linejoin="round" stroke-opacity="1"/>
<path d="M449.1,347.4 L460.0,347.0 L470.3,347.8 L480.3,346.6 L490.7,347.0 L501.1,347.4" fill="none" stroke="#e02020" stroke-width="0.6" stroke-linejoin="round" stroke-opacity="1"/>
<path d="M449.1,344.6 L460.0,347.2 L470.3,345.6 L480.3,346.4 L490.7,344.3 L501.1,344.8" fill="none" stroke="#e02020" stroke-width="0.6" stroke-linejoin="round" stroke-opacity="1"/>
<path d="M449.1,348.4 L460.0,348.5 L470.3,347.2 L480.3,348.3 L490.7,347.8 L501.1,348.0" fill="none" stroke="#e02020" stroke-width="0.6" stroke-linejoin="round" stroke-opacity="1"/>
<line x1="444.7" y1="293.6" x2="444.7" y2="350.4" stroke="#222" stroke-width="0.8"/>
<line x1="444.7" y1="350.4" x2="506.1" y2="350.4" stroke="#222" stroke-width="0.8"/>
<line x1="442.4" y1="293.6" x2="444.7" y2="293.6" stroke="#222" stroke-width="0.6"/>
<text x="440.3" y="296.0" font-size="6.7" text-anchor="end" fill="#111" stroke="#111" stroke-width="0.27">3,000</text>
<line x1="442.4" y1="312.53333333333336" x2="444.7" y2="312.53333333333336" stroke="#222" stroke-width="0.6"/>
<text x="440.3" y="314.93333333333334" font-size="6.7" text-anchor="end" fill="#111" stroke="#111" stroke-width="0.27">2,000</text>
<line x1="442.4" y1="331.46666666666664" x2="444.7" y2="331.46666666666664" stroke="#222" stroke-width="0.6"/>
<text x="440.3" y="333.8666666666666" font-size="6.7" text-anchor="end" fill="#111" stroke="#111" stroke-width="0.27">1,000</text>
<line x1="442.4" y1="350.4" x2="444.7" y2="350.4" stroke="#222" stroke-width="0.6"/>
<text x="440.3" y="352.79999999999995" font-size="6.7" text-anchor="end" fill="#111" stroke="#111" stroke-width="0.27">0</text>
<line x1="449.1" y1="350.4" x2="449.1" y2="351.9" stroke="#222" stroke-width="0.6"/>
<text x="449.1" y="359.4" font-size="6.6" text-anchor="middle" fill="#111" stroke="#111" stroke-width="0.26">0</text>
<line x1="460" y1="350.4" x2="460" y2="351.9" stroke="#222" stroke-width="0.6"/>
<text x="460" y="359.4" font-size="6.6" text-anchor="middle" fill="#111" stroke="#111" stroke-width="0.26">3</text>
<line x1="470.3" y1="350.4" x2="470.3" y2="351.9" stroke="#222" stroke-width="0.6"/>
<text x="470.3" y="359.4" font-size="6.6" text-anchor="middle" fill="#111" stroke="#111" stroke-width="0.26">7</text>
<line x1="480.3" y1="350.4" x2="480.3" y2="351.9" stroke="#222" stroke-width="0.6"/>
<text x="480.3" y="359.4" font-size="6.6" text-anchor="middle" fill="#111" stroke="#111" stroke-width="0.26">10</text>
<line x1="490.7" y1="350.4" x2="490.7" y2="351.9" stroke="#222" stroke-width="0.6"/>
<text x="490.7" y="359.4" font-size="6.6" text-anchor="middle" fill="#111" stroke="#111" stroke-width="0.26">14</text>
<line x1="501.1" y1="350.4" x2="501.1" y2="351.9" stroke="#222" stroke-width="0.6"/>
<text x="501.1" y="359.4" font-size="6.6" text-anchor="middle" fill="#111" stroke="#111" stroke-width="0.26">17</text>
<text x="476" y="287.9" font-size="7.0" text-anchor="middle" fill="#111" stroke="#111" stroke-width="0.28">ICB + Vorinostat</text>
<text x="456.7" y="303.1" font-size="7.2" text-anchor="middle" fill="#111" stroke="#111" stroke-width="0.29">9</text>
<line x1="450.4" y1="307.5" x2="463.0" y2="307.5" stroke="#333" stroke-width="0.6"/>
<text x="456.7" y="315.8" font-size="7.2" text-anchor="middle" fill="#111" stroke="#111" stroke-width="0.29">24</text>
<text x="418.5" y="323.0" font-size="6.6" text-anchor="middle" fill="#111" transform="rotate(-90 418.5 323.0)" stroke="#111" stroke-width="0.26">Tumor volume (mm<tspan font-size="4.3" dy="-2">3</tspan><tspan dy="2">)</tspan></text>
<text x="433" y="369.5" font-size="7.1" text-anchor="start" fill="#111" stroke="#111" stroke-width="0.28">Days since start of treatment</text>
<text x="0.8" y="300.5" font-size="12.4" text-anchor="start" fill="#000" font-weight="bold">H</text>
<text x="64.5" y="302.7" font-size="6.5" text-anchor="middle" fill="#111" stroke="#111" stroke-width="0.26">Cells</text>
<line x1="54.8" y1="306" x2="74" y2="306" stroke="#555" stroke-width="0.6"/>
<text x="107.5" y="302.7" font-size="6.7" text-anchor="middle" fill="#111" stroke="#111" stroke-width="0.27">Tumors</text>
<line x1="78.5" y1="306" x2="148.1" y2="306" stroke="#555" stroke-width="0.6"/>
<text x="59.2" y="350.8" font-size="7" text-anchor="start" fill="#111" transform="rotate(-90 59.2 350.8)" stroke="#111" stroke-width="0.28">DMSO</text>
<text x="71.7" y="350.8" font-size="7" text-anchor="start" fill="#111" transform="rotate(-90 71.7 350.8)" stroke="#111" stroke-width="0.28">Vo (5 μmol/L)</text>
<text x="83.3" y="350.8" font-size="7" text-anchor="start" fill="#111" transform="rotate(-90 83.3 350.8)" stroke="#111" stroke-width="0.28">Veh</text>
<text x="94.8" y="350.8" font-size="7" text-anchor="start" fill="#111" transform="rotate(-90 94.8 350.8)" stroke="#111" stroke-width="0.28">Veh</text>
<text x="105.4" y="350.8" font-size="7" text-anchor="start" fill="#111" transform="rotate(-90 105.4 350.8)" stroke="#111" stroke-width="0.28">Vo (1.5h)</text>
<text x="117.9" y="350.8" font-size="7" text-anchor="start" fill="#111" transform="rotate(-90 117.9 350.8)" stroke="#111" stroke-width="0.28">Vo (1.5h)</text>
<text x="130.4" y="350.8" font-size="7" text-anchor="start" fill="#111" transform="rotate(-90 130.4 350.8)" stroke="#111" stroke-width="0.28">Vo (6h)</text>
<text x="141.9" y="350.8" font-size="7" text-anchor="start" fill="#111" transform="rotate(-90 141.9 350.8)" stroke="#111" stroke-width="0.28">Vo (6h)</text>
<defs><filter id="bl" x="-50%" y="-100%" width="200%" height="300%"><feGaussianBlur stdDeviation="0.7"/></filter><filter id="bl2" x="-50%" y="-100%" width="200%" height="300%"><feGaussianBlur stdDeviation="0.45"/></filter></defs>
<rect x="49.2" y="355.1" width="99.8" height="17.3" fill="#f1f1f1" stroke="#cfcfcf" stroke-width="0.4"/>
<ellipse cx="69.2" cy="360.3" rx="4.3" ry="2.1" fill="#000" fill-opacity="1.0" filter="url(#bl)"/>
<ellipse cx="80.8" cy="361" rx="4.3" ry="1.1" fill="#000" fill-opacity="0.12" filter="url(#bl)"/>
<ellipse cx="92.3" cy="361" rx="4.3" ry="1.1" fill="#000" fill-opacity="0.15" filter="url(#bl)"/>
<ellipse cx="102.9" cy="361" rx="4.3" ry="1.1" fill="#000" fill-opacity="0.75" filter="url(#bl)"/>
<ellipse cx="115.4" cy="361" rx="4.3" ry="1.1" fill="#000" fill-opacity="0.35" filter="url(#bl)"/>
<ellipse cx="127.9" cy="361" rx="4.3" ry="1.1" fill="#000" fill-opacity="0.12" filter="url(#bl)"/>
<ellipse cx="139.4" cy="361" rx="4.3" ry="1.1" fill="#000" fill-opacity="0.12" filter="url(#bl)"/>
<ellipse cx="56.7" cy="368.2" rx="4.6" ry="0.9" fill="#222" fill-opacity="0.45" filter="url(#bl2)"/>
<ellipse cx="69.2" cy="368.2" rx="4.6" ry="0.9" fill="#222" fill-opacity="0.45" filter="url(#bl2)"/>
<ellipse cx="80.8" cy="368.2" rx="4.6" ry="0.9" fill="#222" fill-opacity="0.45" filter="url(#bl2)"/>
<ellipse cx="92.3" cy="368.2" rx="4.6" ry="0.9" fill="#222" fill-opacity="0.45" filter="url(#bl2)"/>
<ellipse cx="102.9" cy="368.2" rx="4.6" ry="0.9" fill="#222" fill-opacity="0.6" filter="url(#bl2)"/>
<ellipse cx="115.4" cy="368.2" rx="4.6" ry="0.9" fill="#222" fill-opacity="0.6" filter="url(#bl2)"/>
<ellipse cx="127.9" cy="368.2" rx="4.6" ry="0.9" fill="#222" fill-opacity="0.65" filter="url(#bl2)"/>
<ellipse cx="139.4" cy="368.2" rx="4.6" ry="0.9" fill="#222" fill-opacity="0.55" filter="url(#bl2)"/>
<text x="44.3" y="360.5" font-size="6.7" text-anchor="end" fill="#111" stroke="#111" stroke-width="0.27">α-tub-K40Ac</text>
<text x="44.3" y="371.6" font-size="6.9" text-anchor="end" fill="#111" stroke="#111" stroke-width="0.28">β-Actin</text>
<text x="165.6" y="300.3" font-size="12.4" text-anchor="start" fill="#000" font-weight="bold">I</text>
<text x="204.2" y="322.6" font-size="6.9" text-anchor="start" fill="#111" transform="rotate(-90 204.2 322.6)" stroke="#111" stroke-width="0.28">Veh</text>
<line x1="192.6" y1="325.2" x2="210.8" y2="325.2" stroke="#777" stroke-width="0.6"/>
<text x="226.3" y="322.6" font-size="6.9" text-anchor="start" fill="#111" transform="rotate(-90 226.3 322.6)" stroke="#111" stroke-width="0.28">Vo</text>
<line x1="215.2" y1="325.2" x2="232.9" y2="325.2" stroke="#777" stroke-width="0.6"/>
<text x="248.4" y="322.6" font-size="6.9" text-anchor="start" fill="#111" transform="rotate(-90 248.4 322.6)" stroke="#111" stroke-width="0.28">ICB</text>
<line x1="237.6" y1="325.2" x2="256.2" y2="325.2" stroke="#777" stroke-width="0.6"/>
<text x="271.7" y="322.6" font-size="6.9" text-anchor="start" fill="#111" transform="rotate(-90 271.7 322.6)" stroke="#111" stroke-width="0.28">ICB + Vo</text>
<line x1="260.1" y1="325.2" x2="280.9" y2="325.2" stroke="#777" stroke-width="0.6"/>
<rect x="188.7" y="329.1" width="96.1" height="45.5" fill="#f3f3f3" stroke="#cfcfcf" stroke-width="0.4"/>
<ellipse cx="195.2" cy="338.7" rx="4.6" ry="0.7" fill="#333" fill-opacity="0.35" filter="url(#bl2)"/>
<ellipse cx="206.9" cy="338.7" rx="4.6" ry="0.7" fill="#333" fill-opacity="0.3" filter="url(#bl2)"/>
<ellipse cx="218.6" cy="338.7" rx="4.6" ry="0.7" fill="#333" fill-opacity="0.35" filter="url(#bl2)"/>
<ellipse cx="230.3" cy="338.7" rx="4.6" ry="0.7" fill="#333" fill-opacity="0.35" filter="url(#bl2)"/>
<ellipse cx="242" cy="338.7" rx="4.6" ry="0.7" fill="#333" fill-opacity="0.3" filter="url(#bl2)"/>
<ellipse cx="253.1" cy="338.7" rx="4.6" ry="0.7" fill="#333" fill-opacity="0.3" filter="url(#bl2)"/>
<ellipse cx="264" cy="338.7" rx="4.6" ry="0.7" fill="#333" fill-opacity="0.6" filter="url(#bl2)"/>
<ellipse cx="279.6" cy="338.7" rx="4.6" ry="0.7" fill="#333" fill-opacity="0.35" filter="url(#bl2)"/>
<ellipse cx="195.2" cy="353.8" rx="5.3" ry="1.9" fill="#000" fill-opacity="1" filter="url(#bl2)"/>
<ellipse cx="206.9" cy="353.8" rx="5.3" ry="1.9" fill="#000" fill-opacity="1" filter="url(#bl2)"/>
<ellipse cx="218.6" cy="353.8" rx="5.3" ry="1.9" fill="#000" fill-opacity="0.95" filter="url(#bl2)"/>
<ellipse cx="230.3" cy="353.8" rx="5.3" ry="1.9" fill="#000" fill-opacity="0.9" filter="url(#bl2)"/>
<ellipse cx="242" cy="353.8" rx="5.3" ry="1.9" fill="#000" fill-opacity="0.8" filter="url(#bl2)"/>
<ellipse cx="253.1" cy="353.8" rx="5.3" ry="1.9" fill="#000" fill-opacity="0.8" filter="url(#bl2)"/>
<ellipse cx="264" cy="353.8" rx="5.3" ry="1.9" fill="#000" fill-opacity="0.75" filter="url(#bl2)"/>
<ellipse cx="279.6" cy="353.8" rx="5.3" ry="1.9" fill="#000" fill-opacity="0.75" filter="url(#bl2)"/>
<ellipse cx="195.2" cy="370.3" rx="4.6" ry="1.0" fill="#000" fill-opacity="0.12" filter="url(#bl2)"/>
<ellipse cx="218.6" cy="370.3" rx="4.6" ry="1.0" fill="#000" fill-opacity="0.6" filter="url(#bl2)"/>
<ellipse cx="230.3" cy="370.3" rx="4.6" ry="1.0" fill="#000" fill-opacity="0.45" filter="url(#bl2)"/>
<ellipse cx="264" cy="370.3" rx="4.6" ry="1.0" fill="#000" fill-opacity="0.75" filter="url(#bl2)"/>
<ellipse cx="279.6" cy="370.3" rx="4.6" ry="1.0" fill="#000" fill-opacity="0.8" filter="url(#bl2)"/>
<text x="186.7" y="335.6" font-size="7.2" text-anchor="end" fill="#111" stroke="#111" stroke-width="0.29">β-Actin</text>
<text x="186.7" y="355.6" font-size="7.2" text-anchor="end" fill="#111" stroke="#111" stroke-width="0.29">H3</text>
<text x="186.7" y="371.2" font-size="7.2" text-anchor="end" fill="#111" stroke="#111" stroke-width="0.29">H3K9Ac</text>
<text x="3.1" y="405.90000000000003" font-size="12.4" text-anchor="start" fill="#000" font-weight="bold">J</text>
<rect x="29.2" y="408.9" width="50.5" height="58.9" fill="#fff" stroke="#9a9a9a" stroke-width="0.5"/>
<line x1="29.2" y1="431.8" x2="79.7" y2="431.8" stroke="#555" stroke-width="0.45"/>
<path d="M29.4,431.8 L29.4,431.8 L29.5,431.7 L29.7,431.7 L29.9,431.7 L30.0,431.6 L30.1,431.4 L30.3,431.2 L30.8,431.0 L31.2,430.7 L31.6,430.4 L32.1,430.1 L32.5,429.6 L33.0,429.3 L33.4,428.9 L33.8,428.6 L34.2,428.3 L34.7,428.0 L35.1,427.5 L35.5,426.9 L35.9,426.6 L36.3,426.0 L36.8,425.5 L37.2,425.1 L37.6,424.0 L38.0,423.2 L38.5,422.5 L39.0,421.8 L39.5,420.0 L40.0,419.2 L40.5,417.9 L41.0,416.8 L41.6,416.1 L42.2,415.0 L42.8,414.9 L43.3,413.9 L43.9,414.0 L44.5,413.0 L44.9,413.0 L45.3,414.2 L45.8,414.3 L46.2,414.6 L46.6,414.1 L47.0,415.5 L47.5,415.9 L48.0,417.1 L48.5,417.8 L49.0,418.9 L49.5,419.9 L50.0,420.6 L50.5,421.5 L51.0,422.1 L51.5,423.2 L52.0,423.8 L52.5,424.5 L53.0,425.0 L53.3,425.6 L53.7,426.2 L54.0,426.1 L54.3,426.2 L54.7,426.2 L55.0,426.2 L55.3,425.9 L55.7,425.8 L56.0,425.1 L56.3,424.8 L56.7,424.6 L57.0,424.4 L57.4,423.5 L57.7,423.2 L58.1,423.6 L58.5,423.0 L58.8,423.3 L59.2,423.6 L59.6,423.7 L60.0,423.7 L60.4,424.1 L60.7,425.1 L61.1,425.4 L61.5,426.3 L61.9,426.7 L62.3,427.6 L62.8,428.2 L63.2,428.9 L63.6,429.7 L64.0,430.2 L64.2,430.7 L64.5,431.1 L64.8,431.3 L65.0,431.5 L65.2,431.6 L65.5,431.7 L67.9,431.7 L70.2,431.8 L72.6,431.8 L75.0,431.8 L77.3,431.8 L79.7,431.8 L79.7,431.8 Z" fill="#858585" stroke="none" stroke-width="0.6" fill-opacity="0.95"/>
<path d="M30.1,431.4 L30.3,431.2 L30.8,431.0 L31.2,430.7 L31.6,430.4 L32.1,430.1 L32.5,429.6 L33.0,429.3 L33.4,428.9 L33.8,428.6 L34.2,428.3 L34.7,428.0 L35.1,427.5 L35.5,426.9 L35.9,426.6 L36.3,426.0 L36.8,425.5 L37.2,425.1 L37.6,424.0 L38.0,423.2 L38.5,422.5 L39.0,421.8 L39.5,420.0 L40.0,419.2 L40.5,417.9 L41.0,416.8 L41.6,416.1 L42.2,415.0 L42.8,414.9 L43.3,413.9 L43.9,414.0 L44.5,413.0 L44.9,413.0 L45.3,414.2 L45.8,414.3 L46.2,414.6 L46.6,414.1 L47.0,415.5 L47.5,415.9 L48.0,417.1 L48.5,417.8 L49.0,418.9 L49.5,419.9 L50.0,420.6 L50.5,421.5 L51.0,422.1 L51.5,423.2 L52.0,423.8 L52.5,424.5 L53.0,425.0 L53.3,425.6 L53.7,426.2 L54.0,426.1 L54.3,426.2 L54.7,426.2 L55.0,426.2 L55.3,425.9 L55.7,425.8 L56.0,425.1 L56.3,424.8 L56.7,424.6 L57.0,424.4 L57.4,423.5 L57.7,423.2 L58.1,423.6 L58.5,423.0 L58.8,423.3 L59.2,423.6 L59.6,423.7 L60.0,423.7 L60.4,424.1 L60.7,425.1 L61.1,425.4 L61.5,426.3 L61.9,426.7 L62.3,427.6 L62.8,428.2 L63.2,428.9 L63.6,429.7 L64.0,430.2 L64.2,430.7 L64.5,431.1 L64.8,431.3 L65.0,431.5" fill="none" stroke="#222" stroke-width="0.5" stroke-linejoin="round"/>
<line x1="29.2" y1="444.3" x2="79.7" y2="444.3" stroke="#b0e8a0" stroke-width="0.45"/>
<path d="M29.4,444.3 L29.4,444.3 L29.6,444.1 L29.8,444.1 L30.0,444.1 L30.2,443.9 L30.4,443.7 L30.6,443.4 L30.8,443.1 L31.1,442.7 L31.3,442.3 L31.5,441.9 L31.8,441.3 L32.0,440.9 L32.3,440.5 L32.7,440.1 L33.0,439.7 L33.3,438.9 L33.7,438.5 L34.0,438.1 L34.5,437.6 L35.0,437.5 L35.5,436.9 L36.0,436.2 L36.5,435.6 L37.0,435.0 L37.5,434.5 L38.0,434.6 L38.5,433.7 L39.0,433.1 L39.5,432.7 L40.0,432.3 L40.5,431.4 L41.0,431.0 L41.5,429.3 L42.0,428.6 L42.5,428.2 L43.0,427.9 L43.5,426.4 L44.0,426.2 L44.5,425.2 L45.0,424.9 L45.5,425.1 L46.0,425.0 L46.7,424.6 L47.3,424.8 L48.0,425.3 L48.7,425.4 L49.3,424.9 L50.0,426.5 L50.5,427.1 L51.0,426.9 L51.5,428.1 L52.0,428.5 L52.5,429.3 L53.0,430.1 L53.5,429.9 L54.0,431.2 L54.5,431.4 L55.0,431.9 L55.5,431.7 L56.0,432.2 L56.5,432.3 L57.0,432.0 L57.5,432.5 L58.0,432.3 L58.5,432.1 L59.0,433.0 L59.4,433.2 L59.7,433.3 L60.1,433.1 L60.5,433.7 L60.8,434.5 L61.2,435.1 L61.4,436.0 L61.6,436.8 L61.9,438.0 L62.1,438.8 L62.3,439.7 L62.5,440.6 L62.8,441.5 L63.0,442.1 L63.2,442.9 L63.5,443.2 L63.8,443.6 L64.0,443.9 L66.6,444.1 L69.2,444.2 L71.8,444.3 L74.5,444.3 L77.1,444.3 L79.7,444.3 L79.7,444.3 Z" fill="#86e460" stroke="none" stroke-width="0.6" fill-opacity="0.55"/>
<path d="M30.2,443.9 L30.4,443.7 L30.6,443.4 L30.8,443.1 L31.1,442.7 L31.3,442.3 L31.5,441.9 L31.8,441.3 L32.0,440.9 L32.3,440.5 L32.7,440.1 L33.0,439.7 L33.3,438.9 L33.7,438.5 L34.0,438.1 L34.5,437.6 L35.0,437.5 L35.5,436.9 L36.0,436.2 L36.5,435.6 L37.0,435.0 L37.5,434.5 L38.0,434.6 L38.5,433.7 L39.0,433.1 L39.5,432.7 L40.0,432.3 L40.5,431.4 L41.0,431.0 L41.5,429.3 L42.0,428.6 L42.5,428.2 L43.0,427.9 L43.5,426.4 L44.0,426.2 L44.5,425.2 L45.0,424.9 L45.5,425.1 L46.0,425.0 L46.7,424.6 L47.3,424.8 L48.0,425.3 L48.7,425.4 L49.3,424.9 L50.0,426.5 L50.5,427.1 L51.0,426.9 L51.5,428.1 L52.0,428.5 L52.5,429.3 L53.0,430.1 L53.5,429.9 L54.0,431.2 L54.5,431.4 L55.0,431.9 L55.5,431.7 L56.0,432.2 L56.5,432.3 L57.0,432.0 L57.5,432.5 L58.0,432.3 L58.5,432.1 L59.0,433.0 L59.4,433.2 L59.7,433.3 L60.1,433.1 L60.5,433.7 L60.8,434.5 L61.2,435.1 L61.4,436.0 L61.6,436.8 L61.9,438.0 L62.1,438.8 L62.3,439.7 L62.5,440.6 L62.8,441.5 L63.0,442.1 L63.2,442.9 L63.5,443.2 L63.8,443.6 L64.0,443.9" fill="none" stroke="#84dc64" stroke-width="0.5" stroke-linejoin="round"/>
<line x1="29.2" y1="455.9" x2="79.7" y2="455.9" stroke="#a8a8e8" stroke-width="0.45"/>
<path d="M29.4,455.9 L29.4,455.9 L29.6,455.8 L29.8,455.8 L30.0,455.7 L30.2,455.7 L30.4,455.5 L30.6,455.4 L31.0,455.2 L31.4,455.0 L31.8,454.7 L32.2,454.4 L32.6,454.1 L33.0,453.9 L33.5,453.6 L34.0,453.3 L34.5,452.9 L35.0,452.5 L35.5,452.3 L36.0,451.9 L36.7,451.4 L37.3,450.7 L38.0,450.3 L38.7,450.1 L39.3,449.2 L40.0,449.0 L40.7,448.2 L41.3,448.0 L42.0,447.5 L42.7,446.3 L43.3,446.3 L44.0,445.8 L44.5,444.8 L45.1,444.4 L45.6,444.6 L46.2,443.7 L46.8,443.8 L47.3,443.5 L47.9,443.8 L48.5,442.9 L49.1,443.1 L49.8,442.8 L50.4,442.8 L51.0,443.5 L51.7,443.5 L52.3,443.7 L53.0,443.9 L53.7,444.0 L54.3,443.8 L55.0,443.5 L55.5,444.1 L56.0,443.3 L56.5,443.6 L57.0,443.4 L57.5,442.8 L58.0,443.1 L58.4,443.2 L58.9,442.9 L59.3,442.7 L59.7,443.5 L60.2,442.8 L60.6,444.1 L60.8,443.9 L61.1,444.4 L61.3,445.8 L61.5,446.1 L61.8,447.3 L62.0,448.1 L62.2,449.5 L62.5,450.5 L62.8,451.5 L63.0,452.3 L63.2,453.4 L63.5,454.0 L63.8,454.6 L64.0,455.1 L64.2,455.4 L64.5,455.5 L64.8,455.7 L65.0,455.8 L67.5,455.8 L69.9,455.9 L72.3,455.9 L74.8,455.9 L77.2,455.9 L79.7,455.9 L79.7,455.9 Z" fill="#6e6ef0" stroke="none" stroke-width="0.6" fill-opacity="0.85"/>
<path d="M30.4,455.5 L30.6,455.4 L31.0,455.2 L31.4,455.0 L31.8,454.7 L32.2,454.4 L32.6,454.1 L33.0,453.9 L33.5,453.6 L34.0,453.3 L34.5,452.9 L35.0,452.5 L35.5,452.3 L36.0,451.9 L36.7,451.4 L37.3,450.7 L38.0,450.3 L38.7,450.1 L39.3,449.2 L40.0,449.0 L40.7,448.2 L41.3,448.0 L42.0,447.5 L42.7,446.3 L43.3,446.3 L44.0,445.8 L44.5,444.8 L45.1,444.4 L45.6,444.6 L46.2,443.7 L46.8,443.8 L47.3,443.5 L47.9,443.8 L48.5,442.9 L49.1,443.1 L49.8,442.8 L50.4,442.8 L51.0,443.5 L51.7,443.5 L52.3,443.7 L53.0,443.9 L53.7,444.0 L54.3,443.8 L55.0,443.5 L55.5,444.1 L56.0,443.3 L56.5,443.6 L57.0,443.4 L57.5,442.8 L58.0,443.1 L58.4,443.2 L58.9,442.9 L59.3,442.7 L59.7,443.5 L60.2,442.8 L60.6,444.1 L60.8,443.9 L61.1,444.4 L61.3,445.8 L61.5,446.1 L61.8,447.3 L62.0,448.1 L62.2,449.5 L62.5,450.5 L62.8,451.5 L63.0,452.3 L63.2,453.4 L63.5,454.0 L63.8,454.6 L64.0,455.1 L64.2,455.4 L64.5,455.5" fill="none" stroke="#3434c8" stroke-width="0.5" stroke-linejoin="round"/>
<line x1="29.2" y1="467.8" x2="79.7" y2="467.8" stroke="#d8a0a0" stroke-width="0.45"/>
<path d="M29.4,467.8 L29.4,467.8 L31.8,467.8 L34.3,467.8 L36.7,467.8 L39.1,467.8 L41.6,467.8 L44.0,467.7 L44.3,467.7 L44.6,467.6 L45.0,467.6 L45.3,467.4 L45.6,467.2 L45.9,466.8 L46.4,466.5 L46.9,466.1 L47.5,465.5 L48.0,464.9 L48.5,464.4 L49.0,463.6 L49.5,462.7 L50.0,462.2 L50.5,461.1 L51.0,460.4 L51.5,459.4 L52.0,458.9 L52.5,458.3 L53.0,456.9 L53.5,456.0 L54.0,455.5 L54.5,455.0 L55.0,454.1 L55.5,452.7 L56.0,452.2 L56.5,450.4 L57.0,450.0 L57.5,449.8 L58.0,448.3 L58.4,448.0 L58.9,446.3 L59.3,445.6 L59.7,445.8 L60.2,445.2 L60.6,445.0 L61.0,444.9 L61.4,444.8 L61.8,446.9 L62.2,447.0 L62.6,447.4 L63.0,448.9 L63.5,449.6 L64.0,451.5 L64.5,451.8 L65.0,453.7 L65.5,455.5 L66.0,456.4 L66.4,458.0 L66.8,459.3 L67.2,460.3 L67.7,461.6 L68.1,462.5 L68.5,463.2 L68.8,464.1 L69.1,465.0 L69.4,465.5 L69.7,466.1 L70.0,466.5 L70.3,466.8 L70.6,467.2 L70.9,467.4 L71.2,467.6 L71.4,467.6 L71.7,467.7 L72.0,467.7 L73.3,467.8 L74.6,467.8 L75.8,467.8 L77.1,467.8 L78.4,467.8 L79.7,467.8 L79.7,467.8 Z" fill="#e0787a" stroke="none" stroke-width="0.6" fill-opacity="0.8"/>
<path d="M45.3,467.4 L45.6,467.2 L45.9,466.8 L46.4,466.5 L46.9,466.1 L47.5,465.5 L48.0,464.9 L48.5,464.4 L49.0,463.6 L49.5,462.7 L50.0,462.2 L50.5,461.1 L51.0,460.4 L51.5,459.4 L52.0,458.9 L52.5,458.3 L53.0,456.9 L53.5,456.0 L54.0,455.5 L54.5,455.0 L55.0,454.1 L55.5,452.7 L56.0,452.2 L56.5,450.4 L57.0,450.0 L57.5,449.8 L58.0,448.3 L58.4,448.0 L58.9,446.3 L59.3,445.6 L59.7,445.8 L60.2,445.2 L60.6,445.0 L61.0,444.9 L61.4,444.8 L61.8,446.9 L62.2,447.0 L62.6,447.4 L63.0,448.9 L63.5,449.6 L64.0,451.5 L64.5,451.8 L65.0,453.7 L65.5,455.5 L66.0,456.4 L66.4,458.0 L66.8,459.3 L67.2,460.3 L67.7,461.6 L68.1,462.5 L68.5,463.2 L68.8,464.1 L69.1,465.0 L69.4,465.5 L69.7,466.1 L70.0,466.5 L70.3,466.8 L70.6,467.2 L70.9,467.4" fill="none" stroke="#a03048" stroke-width="0.5" stroke-linejoin="round"/>
<line x1="44.5" y1="408.9" x2="44.5" y2="467.8" stroke="#333" stroke-width="0.6" stroke-dasharray="1.6,1.2"/>
<line x1="32.2" y1="467.6" x2="32.2" y2="468.8" stroke="#666" stroke-width="0.35"/>
<text x="32.2" y="471.8" font-size="2.4" text-anchor="middle" fill="#777" stroke="#777" stroke-width="0.10">10</text>
<line x1="40.2" y1="467.6" x2="40.2" y2="468.8" stroke="#666" stroke-width="0.35"/>
<text x="40.2" y="471.8" font-size="2.4" text-anchor="middle" fill="#777" stroke="#777" stroke-width="0.10">10</text>
<line x1="49.7" y1="467.6" x2="49.7" y2="468.8" stroke="#666" stroke-width="0.35"/>
<text x="49.7" y="471.8" font-size="2.4" text-anchor="middle" fill="#777" stroke="#777" stroke-width="0.10">10</text>
<line x1="59.8" y1="467.6" x2="59.8" y2="468.8" stroke="#666" stroke-width="0.35"/>
<text x="59.8" y="471.8" font-size="2.4" text-anchor="middle" fill="#777" stroke="#777" stroke-width="0.10">10</text>
<line x1="71.1" y1="467.6" x2="71.1" y2="468.8" stroke="#666" stroke-width="0.35"/>
<text x="71.1" y="471.8" font-size="2.4" text-anchor="middle" fill="#777" stroke="#777" stroke-width="0.10">10</text>
<line x1="26.1" y1="411" x2="26.1" y2="476.7" stroke="#222" stroke-width="0.7"/>
<line x1="26.1" y1="476.7" x2="72.5" y2="476.7" stroke="#222" stroke-width="0.7"/>
<path d="M24.5,411.90000000000003 L26.1,408.3 L27.700000000000003,411.90000000000003 Z" fill="#000" stroke="none" stroke-width="0.6"/>
<path d="M72.2,475.09999999999997 L75.8,476.7 L72.2,478.3 Z" fill="#000" stroke="none" stroke-width="0.6"/>
<text x="22.5" y="443.2" font-size="7" text-anchor="middle" fill="#111" transform="rotate(-90 22.5 443.2)" stroke="#111" stroke-width="0.28">Count</text>
<text x="51.6" y="488.3" font-size="7" text-anchor="middle" fill="#111" stroke="#111" stroke-width="0.28">H2-K<tspan font-size="4.8" dy="-2.4">b</tspan><tspan dy="2.4">-APC</tspan></text>
<rect x="81.2" y="424.2" width="3.5" height="3.55" fill="#777" stroke="#777" stroke-width="0.25"/>
<text x="85.6" y="426.9" font-size="2.9" text-anchor="start" fill="#444" stroke="#444" stroke-width="0.12">Vehicle</text>
<rect x="81.2" y="427.75" width="3.5" height="3.55" fill="#9fe88a" stroke="#777" stroke-width="0.25"/>
<text x="85.6" y="430.45" font-size="2.9" text-anchor="start" fill="#444" stroke="#444" stroke-width="0.12">Vorinostat</text>
<rect x="81.2" y="431.3" width="3.5" height="3.55" fill="#7474e8" stroke="#777" stroke-width="0.25"/>
<text x="85.6" y="434.0" font-size="2.9" text-anchor="start" fill="#444" stroke="#444" stroke-width="0.12">ICB</text>
<rect x="81.2" y="434.84999999999997" width="3.5" height="3.55" fill="#e08a80" stroke="#777" stroke-width="0.25"/>
<text x="85.6" y="437.54999999999995" font-size="2.9" text-anchor="start" fill="#444" stroke="#444" stroke-width="0.12">ICB + Vorinostat</text>
<text x="137.70000000000002" y="406.0" font-size="12.4" text-anchor="start" fill="#000" font-weight="bold">K</text>
<text x="209.8" y="413.6" font-size="5.6" text-anchor="middle" fill="#111" stroke="#111" stroke-width="0.22">CD8α IHC stain</text>
<line x1="185.7" y1="422" x2="185.7" y2="464" stroke="#222" stroke-width="0.7"/>
<line x1="185.7" y1="464" x2="233" y2="464" stroke="#222" stroke-width="0.7"/>
<line x1="184.2" y1="422" x2="185.7" y2="422" stroke="#222" stroke-width="0.6"/>
<text x="183.5" y="423.6" font-size="5" text-anchor="end" fill="#222" stroke="#222" stroke-width="0.20">3 × 10<tspan font-size="3.6" dy="-2">−3</tspan></text>
<line x1="184.2" y1="435.6" x2="185.7" y2="435.6" stroke="#222" stroke-width="0.6"/>
<text x="183.5" y="437.20000000000005" font-size="5" text-anchor="end" fill="#222" stroke="#222" stroke-width="0.20">2 × 10<tspan font-size="3.6" dy="-2">−3</tspan></text>
<line x1="184.2" y1="449.9" x2="185.7" y2="449.9" stroke="#222" stroke-width="0.6"/>
<text x="183.5" y="451.5" font-size="5" text-anchor="end" fill="#222" stroke="#222" stroke-width="0.20">1 × 10<tspan font-size="3.6" dy="-2">−3</tspan></text>
<line x1="184.2" y1="464" x2="185.7" y2="464" stroke="#222" stroke-width="0.6"/>
<text x="183.5" y="465.8" font-size="5" text-anchor="end" fill="#222" stroke="#222" stroke-width="0.20">0</text>
<text x="153.3" y="442.8" font-size="6.1" text-anchor="middle" fill="#111" transform="rotate(-90 153.3 442.8)" stroke="#111" stroke-width="0.24">Normalized DAB</text>
<text x="160.2" y="442.8" font-size="6.1" text-anchor="middle" fill="#111" transform="rotate(-90 160.2 442.8)" stroke="#111" stroke-width="0.24">stain signals</text>
<rect x="216" y="443.8" width="6.6" height="20.2" fill="#fff" stroke="#f0a0a0" stroke-width="0.5"/>
<line x1="216" y1="443.8" x2="222.6" y2="443.8" stroke="#e03030" stroke-width="0.8"/>
<line x1="219.3" y1="437" x2="219.3" y2="450" stroke="#e03030" stroke-width="0.5"/>
<circle cx="219.3" cy="427.7" r="0.9" fill="#e83838"/>
<circle cx="218.8" cy="435.3" r="0.9" fill="#e83838"/>
<circle cx="219.8" cy="441" r="0.9" fill="#e83838"/>
<circle cx="218.5" cy="445.7" r="0.9" fill="#e83838"/>
<circle cx="220" cy="443.2" r="0.9" fill="#e83838"/>
<circle cx="219.2" cy="450.4" r="0.9" fill="#e83838"/>
<circle cx="218.3" cy="447.5" r="0.9" fill="#e83838"/>
<circle cx="189.5" cy="463.2" r="0.8" fill="#111"/>
<circle cx="190.3" cy="463.2" r="0.8" fill="#111"/>
<circle cx="191.1" cy="463.2" r="0.8" fill="#111"/>
<circle cx="191.9" cy="463.2" r="0.8" fill="#111"/>
<circle cx="192.7" cy="463.2" r="0.8" fill="#111"/>
<circle cx="193.5" cy="463.2" r="0.8" fill="#111"/>
<circle cx="198.0" cy="463.3" r="0.8" fill="#5ac040"/>
<circle cx="198.8" cy="463.3" r="0.8" fill="#5ac040"/>
<circle cx="199.6" cy="463.3" r="0.8" fill="#5ac040"/>
<circle cx="200.4" cy="463.3" r="0.8" fill="#5ac040"/>
<circle cx="201.2" cy="463.3" r="0.8" fill="#5ac040"/>
<circle cx="202.0" cy="463.3" r="0.8" fill="#5ac040"/>
<circle cx="207.5" cy="461.5" r="0.9" fill="#2a2ae0"/>
<circle cx="208.5" cy="460.5" r="0.9" fill="#2a2ae0"/>
<circle cx="209.5" cy="461.8" r="0.9" fill="#2a2ae0"/>
<circle cx="210.5" cy="460.8" r="0.9" fill="#2a2ae0"/>
<circle cx="208.2" cy="462.6" r="0.9" fill="#2a2ae0"/>
<circle cx="210" cy="462.5" r="0.9" fill="#2a2ae0"/>
<circle cx="211" cy="461.8" r="0.9" fill="#2a2ae0"/>
<circle cx="225.2" cy="463" r="0.8" fill="#8a2ad0"/>
<circle cx="226.0" cy="463" r="0.8" fill="#8a2ad0"/>
<circle cx="226.79999999999998" cy="463" r="0.8" fill="#8a2ad0"/>
<circle cx="227.6" cy="463" r="0.8" fill="#8a2ad0"/>
<circle cx="228.39999999999998" cy="463" r="0.8" fill="#8a2ad0"/>
<text x="205.2" y="423.5" font-size="8.6" text-anchor="middle" fill="#111" font-weight="bold">***</text>
<line x1="191.4" y1="423" x2="215.4" y2="423" stroke="#333" stroke-width="0.5"/>
<text x="222.6" y="423.5" font-size="8.6" text-anchor="middle" fill="#111" font-weight="bold">***</text>
<line x1="218.8" y1="423" x2="226.4" y2="423" stroke="#333" stroke-width="0.5"/>
<text x="200.8" y="450.6" font-size="8.6" text-anchor="middle" fill="#111" font-weight="bold">***</text>
<line x1="191.9" y1="450.4" x2="209.3" y2="450.4" stroke="#333" stroke-width="0.5"/>
<text x="195.7" y="456.8" font-size="5.5" text-anchor="middle" fill="#111" stroke="#111" stroke-width="0.22">ns</text>
<line x1="191.9" y1="458.9" x2="199.9" y2="458.9" stroke="#333" stroke-width="0.5"/>
<text x="193.3" y="468.5" font-size="5.8" text-anchor="end" fill="#111" transform="rotate(-45 193.3 468.5)" stroke="#111" stroke-width="0.23">Veh</text>
<text x="201.9" y="468.5" font-size="5.8" text-anchor="end" fill="#111" transform="rotate(-45 201.9 468.5)" stroke="#111" stroke-width="0.23">Vo</text>
<text x="211.3" y="468.5" font-size="5.8" text-anchor="end" fill="#111" transform="rotate(-45 211.3 468.5)" stroke="#111" stroke-width="0.23">ICB</text>
<text x="221.2" y="468.5" font-size="5.8" text-anchor="end" fill="#111" transform="rotate(-45 221.2 468.5)" stroke="#111" stroke-width="0.23">ICB + Vo</text>
<text x="228.8" y="468.5" font-size="5.8" text-anchor="end" fill="#111" transform="rotate(-45 228.8 468.5)" stroke="#111" stroke-width="0.23">ICB + Vo + αCD8</text>
<text x="254.6" y="406.0" font-size="12.4" text-anchor="start" fill="#000" font-weight="bold">L</text>
<line x1="292" y1="417" x2="292" y2="470" stroke="#222" stroke-width="0.7"/>
<line x1="292" y1="470" x2="341.5" y2="470" stroke="#222" stroke-width="0.7"/>
<line x1="290.5" y1="417.0" x2="292" y2="417.0" stroke="#222" stroke-width="0.6"/>
<text x="289.8" y="418.9" font-size="5.5" text-anchor="end" fill="#111" stroke="#111" stroke-width="0.22">4,000</text>
<line x1="290.5" y1="430.25" x2="292" y2="430.25" stroke="#222" stroke-width="0.6"/>
<text x="289.8" y="432.15" font-size="5.5" text-anchor="end" fill="#111" stroke="#111" stroke-width="0.22">3,000</text>
<line x1="290.5" y1="443.5" x2="292" y2="443.5" stroke="#222" stroke-width="0.6"/>
<text x="289.8" y="445.4" font-size="5.5" text-anchor="end" fill="#111" stroke="#111" stroke-width="0.22">2,000</text>
<line x1="290.5" y1="456.75" x2="292" y2="456.75" stroke="#222" stroke-width="0.6"/>
<text x="289.8" y="458.65" font-size="5.5" text-anchor="end" fill="#111" stroke="#111" stroke-width="0.22">1,000</text>
<line x1="290.5" y1="470.0" x2="292" y2="470.0" stroke="#222" stroke-width="0.6"/>
<text x="289.8" y="471.9" font-size="5.5" text-anchor="end" fill="#111" stroke="#111" stroke-width="0.22">0</text>
<text x="270.5" y="443.5" font-size="5.9" text-anchor="middle" fill="#111" transform="rotate(-90 270.5 443.5)" stroke="#111" stroke-width="0.24">Tumor volume (mm<tspan font-size="4" dy="-2">3</tspan><tspan dy="2">)</tspan></text>
<line x1="296.3" y1="470" x2="296.3" y2="471.3" stroke="#222" stroke-width="0.5"/>
<text x="297.5" y="472.6" font-size="4.4" text-anchor="end" fill="#111" transform="rotate(-60 297.5 472.6)" stroke="#111" stroke-width="0.18">0</text>
<line x1="302.5" y1="470" x2="302.5" y2="471.3" stroke="#222" stroke-width="0.5"/>
<text x="303.7" y="472.6" font-size="4.4" text-anchor="end" fill="#111" transform="rotate(-60 303.7 472.6)" stroke="#111" stroke-width="0.18">3</text>
<line x1="308.7" y1="470" x2="308.7" y2="471.3" stroke="#222" stroke-width="0.5"/>
<text x="309.9" y="472.6" font-size="4.4" text-anchor="end" fill="#111" transform="rotate(-60 309.9 472.6)" stroke="#111" stroke-width="0.18">7</text>
<line x1="314.9" y1="470" x2="314.9" y2="471.3" stroke="#222" stroke-width="0.5"/>
<text x="316.09999999999997" y="472.6" font-size="4.4" text-anchor="end" fill="#111" transform="rotate(-60 316.09999999999997 472.6)" stroke="#111" stroke-width="0.18">10</text>
<line x1="321.1" y1="470" x2="321.1" y2="471.3" stroke="#222" stroke-width="0.5"/>
<text x="322.3" y="472.6" font-size="4.4" text-anchor="end" fill="#111" transform="rotate(-60 322.3 472.6)" stroke="#111" stroke-width="0.18">14</text>
<line x1="327.3" y1="470" x2="327.3" y2="471.3" stroke="#222" stroke-width="0.5"/>
<text x="328.5" y="472.6" font-size="4.4" text-anchor="end" fill="#111" transform="rotate(-60 328.5 472.6)" stroke="#111" stroke-width="0.18">17</text>
<line x1="333.5" y1="470" x2="333.5" y2="471.3" stroke="#222" stroke-width="0.5"/>
<text x="334.7" y="472.6" font-size="4.4" text-anchor="end" fill="#111" transform="rotate(-60 334.7 472.6)" stroke="#111" stroke-width="0.18">21</text>
<line x1="339.6" y1="470" x2="339.6" y2="471.3" stroke="#222" stroke-width="0.5"/>
<text x="340.8" y="472.6" font-size="4.4" text-anchor="end" fill="#111" transform="rotate(-60 340.8 472.6)" stroke="#111" stroke-width="0.18">24</text>
<path d="M296.3,469.3 L302.5,468.9 L308.7,468.8 L314.9,468.7 L321.1,468.7 L339.6,466.0" fill="none" stroke="#e03838" stroke-width="0.7"/>
<rect x="295.1" y="468.1375" width="2.4" height="2.4" fill="#e03838"/>
<rect x="301.3" y="467.74" width="2.4" height="2.4" fill="#e03838"/>
<rect x="307.5" y="467.6075" width="2.4" height="2.4" fill="#e03838"/>
<rect x="313.7" y="467.475" width="2.4" height="2.4" fill="#e03838"/>
<rect x="319.90000000000003" y="467.475" width="2.4" height="2.4" fill="#e03838"/>
<rect x="338.40000000000003" y="464.825" width="2.4" height="2.4" fill="#e03838"/>
<path d="M296.3,469.2 L302.5,468.4 L308.7,467.5 L314.9,465.8 L321.1,462.6 L339.6,450.8" fill="none" stroke="#2a2ad8" stroke-width="0.7"/>
<circle cx="296.3" cy="469.205" r="1.35" fill="#2a2ad8"/>
<circle cx="302.5" cy="468.41" r="1.35" fill="#2a2ad8"/>
<circle cx="308.7" cy="467.4825" r="1.35" fill="#2a2ad8"/>
<circle cx="314.9" cy="465.76" r="1.35" fill="#2a2ad8"/>
<circle cx="321.1" cy="462.58" r="1.35" fill="#2a2ad8"/>
<circle cx="339.6" cy="450.7875" r="1.35" fill="#2a2ad8"/>
<path d="M296.3,469.2 L302.5,468.4 L308.7,467.4 L314.9,465.6 L321.1,462.6 L339.6,439.5" fill="none" stroke="#111" stroke-width="0.7"/>
<circle cx="296.3" cy="469.205" r="1.35" fill="#111"/>
<circle cx="302.5" cy="468.41" r="1.35" fill="#111"/>
<circle cx="308.7" cy="467.35" r="1.35" fill="#111"/>
<circle cx="314.9" cy="465.6275" r="1.35" fill="#111"/>
<circle cx="321.1" cy="462.58" r="1.35" fill="#111"/>
<circle cx="339.6" cy="439.525" r="1.35" fill="#111"/>
<line x1="339.6" y1="433.525" x2="339.6" y2="445.525" stroke="#888" stroke-width="0.4"/>
<line x1="339.6" y1="447.7875" x2="339.6" y2="453.7875" stroke="#2a2ad8" stroke-width="0.4"/>
<line x1="339.6" y1="463.025" x2="339.6" y2="469.025" stroke="#e03838" stroke-width="0.4"/>
<line x1="297" y1="454.8" x2="297" y2="458.6" stroke="#111" stroke-width="1.0"/>
<path d="M295.4,458 L297,460.8 L298.6,458 Z" fill="#111" stroke="none" stroke-width="0.6"/>
<line x1="300.6" y1="454.8" x2="300.6" y2="458.6" stroke="#111" stroke-width="1.0"/>
<path d="M299.0,458 L300.6,460.8 L302.20000000000005,458 Z" fill="#111" stroke="none" stroke-width="0.6"/>
<line x1="304.2" y1="454.8" x2="304.2" y2="458.6" stroke="#111" stroke-width="1.0"/>
<path d="M302.59999999999997,458 L304.2,460.8 L305.8,458 Z" fill="#111" stroke="none" stroke-width="0.6"/>
<line x1="296.3" y1="411.3" x2="303.7" y2="411.3" stroke="#111" stroke-width="0.7"/>
<circle cx="300" cy="411.3" r="1.1" fill="#111"/>
<line x1="296.3" y1="420" x2="303.7" y2="420" stroke="#2a2ad8" stroke-width="0.7"/>
<circle cx="300" cy="420" r="1.1" fill="#2a2ad8"/>
<line x1="296.3" y1="428.8" x2="303.7" y2="428.8" stroke="#e03838" stroke-width="0.7"/>
<rect x="299" y="427.8" width="2" height="2" fill="#e03838"/>
<text x="306.2" y="413.4" font-size="6.0" text-anchor="start" fill="#111" stroke="#111" stroke-width="0.24">Vehicle</text>
<text x="306.2" y="422.1" font-size="6.0" text-anchor="start" fill="#111" stroke="#111" stroke-width="0.24">αCD8</text>
<text x="306.2" y="430.9" font-size="6.0" text-anchor="start" fill="#111" stroke="#111" stroke-width="0.24">Isotype</text>
<path d="M327.5,418 H328.8 V431.3 H327.5" fill="none" stroke="#333" stroke-width="0.5"/>
<text x="331.3" y="425.9" font-size="6.0" text-anchor="start" fill="#111" stroke="#111" stroke-width="0.24">ICB + Vo</text>
<text x="345" y="460.8" font-size="7.7" text-anchor="middle" fill="#111" font-weight="bold">**</text>
<line x1="341.6" y1="450" x2="341.6" y2="462.5" stroke="#333" stroke-width="0.5"/>
<text x="355" y="455.1" font-size="7.7" text-anchor="middle" fill="#111" font-weight="bold">*</text>
<line x1="351.4" y1="438.8" x2="351.4" y2="465" stroke="#333" stroke-width="0.5"/>
<text x="318.2" y="487.8" font-size="5.8" text-anchor="middle" fill="#111" stroke="#111" stroke-width="0.23">Days since start of treatment</text>
<text x="377.59999999999997" y="406.1" font-size="12.4" text-anchor="start" fill="#000" font-weight="bold">M</text>
<text x="460.5" y="408" font-size="6.4" text-anchor="middle" fill="#111" stroke="#111" stroke-width="0.26">Re-challenge</text>
<line x1="420.5" y1="418" x2="420.5" y2="467.9" stroke="#222" stroke-width="0.7"/>
<line x1="419.0" y1="418.0" x2="420.5" y2="418.0" stroke="#222" stroke-width="0.6"/>
<text x="418.3" y="419.9" font-size="5.5" text-anchor="end" fill="#111" stroke="#111" stroke-width="0.22">1,500</text>
<line x1="419.0" y1="434.6333333333333" x2="420.5" y2="434.6333333333333" stroke="#222" stroke-width="0.6"/>
<text x="418.3" y="436.5333333333333" font-size="5.5" text-anchor="end" fill="#111" stroke="#111" stroke-width="0.22">1,000</text>
<line x1="419.0" y1="451.26666666666665" x2="420.5" y2="451.26666666666665" stroke="#222" stroke-width="0.6"/>
<text x="418.3" y="453.16666666666663" font-size="5.5" text-anchor="end" fill="#111" stroke="#111" stroke-width="0.22">500</text>
<line x1="419.0" y1="467.9" x2="420.5" y2="467.9" stroke="#222" stroke-width="0.6"/>
<text x="418.3" y="469.79999999999995" font-size="5.5" text-anchor="end" fill="#111" stroke="#111" stroke-width="0.22">0</text>
<text x="400.5" y="443" font-size="5.9" text-anchor="middle" fill="#111" transform="rotate(-90 400.5 443)" stroke="#111" stroke-width="0.24">Tumor volume (mm<tspan font-size="4" dy="-2">3</tspan><tspan dy="2">)</tspan></text>
<line x1="420.5" y1="467.9" x2="497" y2="467.9" stroke="#222" stroke-width="0.7"/>
<line x1="449.5" y1="469.29999999999995" x2="451.5" y2="466.5" stroke="#222" stroke-width="0.55"/>
<line x1="453.5" y1="469.29999999999995" x2="455.5" y2="466.5" stroke="#222" stroke-width="0.55"/>
<line x1="457.5" y1="469.29999999999995" x2="459.5" y2="466.5" stroke="#222" stroke-width="0.55"/>
<line x1="421.5" y1="467.9" x2="421.5" y2="469.2" stroke="#222" stroke-width="0.5"/>
<text x="421.5" y="476.9" font-size="5.6" text-anchor="middle" fill="#111" stroke="#111" stroke-width="0.22">0</text>
<line x1="431.3" y1="467.9" x2="431.3" y2="469.2" stroke="#222" stroke-width="0.5"/>
<text x="431.3" y="476.9" font-size="5.6" text-anchor="middle" fill="#111" stroke="#111" stroke-width="0.22">10</text>
<line x1="444.1" y1="467.9" x2="444.1" y2="469.2" stroke="#222" stroke-width="0.5"/>
<text x="444.1" y="476.9" font-size="5.6" text-anchor="middle" fill="#111" stroke="#111" stroke-width="0.22">20</text>
<line x1="471.4" y1="467.9" x2="471.4" y2="469.2" stroke="#222" stroke-width="0.5"/>
<text x="471.4" y="476.9" font-size="5.6" text-anchor="middle" fill="#111" stroke="#111" stroke-width="0.22">100</text>
<line x1="482.8" y1="467.9" x2="482.8" y2="469.2" stroke="#222" stroke-width="0.5"/>
<text x="482.8" y="476.9" font-size="5.6" text-anchor="middle" fill="#111" stroke="#111" stroke-width="0.22">120</text>
<line x1="491.5" y1="467.9" x2="491.5" y2="469.2" stroke="#222" stroke-width="0.5"/>
<text x="491.5" y="476.9" font-size="5.6" text-anchor="middle" fill="#111" stroke="#111" stroke-width="0.22">140</text>
<text x="454.6" y="473" font-size="5.2" text-anchor="end" fill="#111" transform="rotate(-60 454.6 473)" stroke="#111" stroke-width="0.21">50</text>
<path d="M421.5,460.2 L424.9,453.3 L428.4,456.9 L431.3,462.9 L435.2,467.2 L439.1,467.9" fill="none" stroke="#3a9a8a" stroke-width="0.8" stroke-linejoin="round"/>
<path d="M421.5,462.9 L424.9,459.6 L430.3,457.3 L433.3,463.9 L437.2,467.6 L440.1,467.9" fill="none" stroke="#3a9a8a" stroke-width="0.8" stroke-linejoin="round"/>
<path d="M421.5,463.9 L424.9,458.9 L428.4,461.2 L431.3,465.2 L435.2,467.9" fill="none" stroke="#b83058" stroke-width="0.8" stroke-linejoin="round"/>
<path d="M421.5,465.9 L424.9,461.6 L428.4,463.9 L431.3,466.6 L435.2,467.9" fill="none" stroke="#b83058" stroke-width="0.8" stroke-linejoin="round"/>
<path d="M421.5,466.6 L424.9,464.6 L428.4,462.6 L432.3,465.9 L437.2,467.9" fill="none" stroke="#333" stroke-width="0.8" stroke-linejoin="round"/>
<path d="M421.5,467.2 L426.4,465.9 L431.3,467.2 L441.1,467.9" fill="none" stroke="#555" stroke-width="0.8" stroke-linejoin="round"/>
<path d="M476.3,467.9 L481.0,465.6 L486.9,458.9 L491.0,451.3 L495.5,428.0" fill="none" stroke="#5aa898" stroke-width="0.75" stroke-linejoin="round"/>
<path d="M478.0,467.9 L482.0,466.2 L487.0,462.9 L491.0,457.9 L495.5,447.9" fill="none" stroke="#5aa898" stroke-width="0.75" stroke-linejoin="round"/>
<line x1="423.4" y1="418" x2="429.7" y2="418" stroke="#3a9a8a" stroke-width="0.7"/>
<text x="431.1" y="420.2" font-size="6.2" text-anchor="start" fill="#111" stroke="#111" stroke-width="0.25">M# 1</text>
<line x1="423.4" y1="426" x2="429.7" y2="426" stroke="#c0305a" stroke-width="0.7"/>
<text x="431.1" y="428.2" font-size="6.2" text-anchor="start" fill="#111" stroke="#111" stroke-width="0.25">M# 2</text>
<line x1="423.4" y1="434" x2="429.7" y2="434" stroke="#444" stroke-width="0.7"/>
<text x="431.1" y="436.2" font-size="6.2" text-anchor="start" fill="#111" stroke="#111" stroke-width="0.25">M# 3</text>
<text x="461.3" y="451.5" font-size="6.2" text-anchor="start" fill="#111" transform="rotate(-68 461.3 451.5)" stroke="#111" stroke-width="0.25">PPS-ICBR</text>
<text x="471.6" y="451.5" font-size="6.2" text-anchor="start" fill="#111" transform="rotate(-68 471.6 451.5)" stroke="#111" stroke-width="0.25">MC38</text>
<line x1="454.2" y1="455.5" x2="454.2" y2="460.5" stroke="#111" stroke-width="0.8"/>
<path d="M452.5,460 L454.2,463 L455.9,460 Z" fill="#111" stroke="none" stroke-width="0.6"/>
<line x1="467" y1="455.5" x2="467" y2="460.5" stroke="#111" stroke-width="0.8"/>
<path d="M465.3,460 L467,463 L468.7,460 Z" fill="#111" stroke="none" stroke-width="0.6"/>
<text x="460.1" y="487.8" font-size="5.8" text-anchor="middle" fill="#111" stroke="#111" stroke-width="0.23">Days since start of treatment</text>
</svg></body></html>
